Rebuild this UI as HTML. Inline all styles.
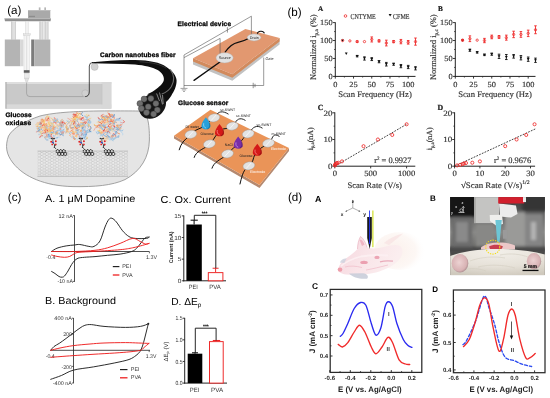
<!DOCTYPE html>
<html><head><meta charset="utf-8"><title>Figure</title>
<style>html,body{margin:0;padding:0;background:#fff;} svg{display:block;}</style></head>
<body><svg width="550" height="398" viewBox="0 0 550 398" text-rendering="geometricPrecision">
<rect width="550" height="398" fill="#fff"/>
<text x="7.2" y="14.4" font-family="'Liberation Sans', Arial, sans-serif" font-size="11.6" font-weight="normal" fill="#000" text-anchor="start" >(a)</text>
<rect x="28.00" y="10.00" width="22.30" height="8.60" fill="#a9a9a9" stroke="none" stroke-width="0" />
<rect x="28.00" y="10.00" width="22.30" height="1.00" fill="#bdbdbd" stroke="none" stroke-width="0" />
<rect x="38.80" y="7.40" width="1.70" height="2.80" fill="#b5b5b5" stroke="none" stroke-width="0" />
<rect x="44.30" y="7.40" width="1.70" height="2.80" fill="#b5b5b5" stroke="none" stroke-width="0" />
<rect x="29.00" y="15.80" width="6.00" height="1.30" fill="#8d8d8d" stroke="none" stroke-width="0" />
<polygon points="4.5,18.4 51,18.4 50.5,21.2 5,21.2" fill="#8f8f8f"/>
<rect x="4.50" y="18.30" width="46.50" height="0.80" fill="#bdbdbd" stroke="none" stroke-width="0" />
<rect x="11.30" y="21.20" width="4.50" height="18.40" fill="#e0e0e0" stroke="none" stroke-width="0" />
<rect x="11.30" y="21.20" width="0.90" height="18.40" fill="#c2c2c2" stroke="none" stroke-width="0" />
<rect x="15.10" y="21.20" width="0.70" height="18.40" fill="#c8c8c8" stroke="none" stroke-width="0" />
<rect x="39.50" y="21.20" width="3.80" height="18.40" fill="#e0e0e0" stroke="none" stroke-width="0" />
<rect x="39.50" y="21.20" width="0.90" height="18.40" fill="#c2c2c2" stroke="none" stroke-width="0" />
<rect x="42.60" y="21.20" width="0.70" height="18.40" fill="#c8c8c8" stroke="none" stroke-width="0" />
<rect x="44.60" y="21.20" width="3.80" height="18.40" fill="#e0e0e0" stroke="none" stroke-width="0" />
<rect x="44.60" y="21.20" width="0.90" height="18.40" fill="#c2c2c2" stroke="none" stroke-width="0" />
<rect x="47.70" y="21.20" width="0.70" height="18.40" fill="#c8c8c8" stroke="none" stroke-width="0" />
<rect x="4.80" y="39.50" width="15.60" height="26.70" fill="#b4b4b4" stroke="none" stroke-width="0" />
<rect x="20.40" y="39.50" width="3.00" height="26.70" fill="#d8d8d8" stroke="none" stroke-width="0" />
<rect x="31.20" y="39.50" width="3.00" height="26.70" fill="#7c7c7c" stroke="none" stroke-width="0" />
<rect x="34.20" y="39.50" width="16.10" height="26.70" fill="#b4b4b4" stroke="none" stroke-width="0" />
<rect x="25.20" y="21.20" width="3.20" height="13.50" fill="#f2f2f2" stroke="#cfcfcf" stroke-width="0.35" />
<rect x="23.20" y="33.80" width="7.20" height="1.60" fill="#e6e6e6" stroke="#bdbdbd" stroke-width="0.3" />
<rect x="24.00" y="35.40" width="5.40" height="35.20" fill="#f4f4f4" stroke="#c8c8c8" stroke-width="0.35" />
<rect x="26.00" y="35.40" width="1.20" height="35.20" fill="#e2e2e2" stroke="none" stroke-width="0" />
<rect x="23.80" y="70.20" width="5.80" height="2.60" fill="#5e5e5e" stroke="none" stroke-width="0" />
<rect x="24.30" y="73.10" width="4.80" height="5.20" fill="#ececec" stroke="#bdbdbd" stroke-width="0.3" />
<polygon points="24.6,78.2 28.8,78.2 27.3,82.6 26.1,82.6" fill="#e2e2e2" stroke="#b0b0b0" stroke-width="0.3"/>
<rect x="5.50" y="82.00" width="105.80" height="26.60" fill="#c9c9c9" stroke="none" stroke-width="0" />
<rect x="5.50" y="82.00" width="105.80" height="2.00" fill="#dedede" stroke="none" stroke-width="0" />
<rect x="5.50" y="104.40" width="105.80" height="4.20" fill="#d9d9d9" stroke="none" stroke-width="0" />
<rect x="5.50" y="82.00" width="1.10" height="26.60" fill="#b0b0b0" stroke="none" stroke-width="0" />
<rect x="101.50" y="82.00" width="9.80" height="26.60" fill="#d8d8d8" stroke="none" stroke-width="0" />
<rect x="101.50" y="84.00" width="0.80" height="20.40" fill="#bdbdbd" stroke="none" stroke-width="0" />
<path d="M26.6,82.5 L26.6,93.5 Q26.6,96.6 30,96.6 L84.5,96.6" fill="none" stroke="#8e8e8e" stroke-width="0.6"/>
<circle cx="85.2" cy="93.2" r="3.4" fill="#d0d0d0" stroke="#a8a8a8" stroke-width="0.45"/>
<path d="M85.2,96.6 C87.5,96.6 89.3,95 89.3,92 L89.3,66 Q89.3,62.6 93,62.4" fill="none" stroke="#151515" stroke-width="0.75"/>
<circle cx="94.6" cy="66.8" r="3.6" fill="#d2d2d2" stroke="#9c9c9c" stroke-width="0.3"/>
<path d="M92,62.3 C105,61 120,59.7 135,60 C150,60.3 160,62.5 166.4,66.9 C172,70.5 176.6,75.5 176.6,80.6 C176.6,86.5 174,91.5 171.4,95.4 C169.5,98.2 168,100.2 166.4,101.8 L147.2,94.2 C151,92.6 154,91 156.6,88.8 C160.2,85.8 163.9,83 163.9,79 C163.9,75.5 161,72 157.6,70.1 C152,67.2 145,65.6 135,64.6 C120,63.9 105,63.5 92,63.3 Z" fill="#0e0e0e"/>
<path d="M170.5,69.8 C174.2,74.5 174.6,80.5 171.4,86.5 C169,90.5 166,92.5 162,94" fill="none" stroke="#6e6e6e" stroke-width="1.1" stroke-linecap="round"/>
<path d="M140,61.8 C152,62.3 161,64.5 166,68" fill="none" stroke="#3c3c3c" stroke-width="0.8" stroke-linecap="round"/>
<path d="M40,116 C55,112.2 80,110.9 110,110.9 C125,110.9 135,110.9 141,111.1 C147,111.6 149.6,122 149.4,140 C149.1,157 141,171 125,179.6 C112,185.5 95,187 73,186.6 C45,186 24,177 13,163 C6,154 5,146 8.5,136 C13,128 25,121 40,116 Z" fill="#e5e5e5" stroke="#8c8c8c" stroke-width="0.8"/>
<ellipse cx="152.6" cy="105.8" rx="14.6" ry="11.6" transform="rotate(-40 152.6 105.8)" fill="#161616"/>
<circle cx="144.1" cy="99.1" r="3.05" fill="#6e6e6e" stroke="#303030" stroke-width="0.4"/>
<circle cx="150.9" cy="98.6" r="3.05" fill="#6e6e6e" stroke="#303030" stroke-width="0.4"/>
<circle cx="140.0" cy="103.6" r="3.05" fill="#6e6e6e" stroke="#303030" stroke-width="0.4"/>
<circle cx="148.2" cy="106.8" r="3.05" fill="#6e6e6e" stroke="#303030" stroke-width="0.4"/>
<circle cx="155.9" cy="103.6" r="3.05" fill="#6e6e6e" stroke="#303030" stroke-width="0.4"/>
<circle cx="141.4" cy="108.6" r="3.05" fill="#6e6e6e" stroke="#303030" stroke-width="0.4"/>
<circle cx="157.3" cy="110.0" r="3.05" fill="#6e6e6e" stroke="#303030" stroke-width="0.4"/>
<circle cx="153.6" cy="114.1" r="3.05" fill="#6e6e6e" stroke="#303030" stroke-width="0.4"/>
<circle cx="146.5" cy="112.6" r="3.05" fill="#6e6e6e" stroke="#303030" stroke-width="0.4"/>
<path d="M156.6,93.5 L159.5,101 M159.5,92.5 L162.5,104.5 M162.5,95 L163.2,104" stroke="#c8c8c8" stroke-width="0.6"/>
<defs><pattern id="hex" x="37.5" y="151" width="5.100" height="2.944" patternUnits="userSpaceOnUse"><path d="M0,1.472 L0.850,0 L2.550,0 L3.400,1.472 L2.550,2.944 L0.850,2.944 Z M3.400,1.472 L5.100,1.472" fill="none" stroke="#9e9e9e" stroke-width="0.33"/></pattern><linearGradient id="tubeg" x1="0" y1="0" x2="0" y2="1"><stop offset="0" stop-color="#e6e6e6"/><stop offset="0.5" stop-color="#ececec"/><stop offset="1" stop-color="#e4e4e4"/></linearGradient></defs>
<rect x="37.5" y="151" width="90.5" height="25.5" fill="url(#tubeg)"/>
<rect x="37.5" y="151" width="90.5" height="25.5" fill="url(#hex)"/>
<path d="M37.5,151 L128,151 M37.5,176.5 L128,176.5" stroke="#a4a4a4" stroke-width="0.45"/>
<ellipse cx="51.5" cy="128" rx="12.325" ry="8.924999999999999" fill="#f3e0d6" opacity="0.7"/>
<path d="M49.0,131.6 L50.4,130.1 L50.8,131.7 L49.5,130.1" fill="none" stroke="#f2a25a" stroke-width="0.85" stroke-linejoin="round" stroke-linecap="round" opacity="0.72"/>
<path d="M45.3,130.5 L46.7,129.1 L45.5,129.6 L47.5,129.9" fill="none" stroke="#e8463c" stroke-width="0.85" stroke-linejoin="round" stroke-linecap="round" opacity="0.72"/>
<path d="M40.1,134.3 L38.5,134.0 L38.7,134.2 L38.9,134.9" fill="none" stroke="#9ec6e0" stroke-width="0.85" stroke-linejoin="round" stroke-linecap="round" opacity="0.72"/>
<path d="M60.2,132.8 L60.5,131.1 L58.5,130.0 L59.3,129.7" fill="none" stroke="#8fbfe6" stroke-width="0.85" stroke-linejoin="round" stroke-linecap="round" opacity="0.72"/>
<path d="M47.1,135.4 L46.0,134.2 L47.3,132.6 L46.4,132.6" fill="none" stroke="#a8d0ee" stroke-width="0.85" stroke-linejoin="round" stroke-linecap="round" opacity="0.72"/>
<path d="M46.1,133.9 L44.4,133.5 L45.6,132.2 L45.5,130.5" fill="none" stroke="#f2a25a" stroke-width="0.85" stroke-linejoin="round" stroke-linecap="round" opacity="0.72"/>
<path d="M45.3,120.0 L44.6,119.4 L44.5,120.6 L42.7,119.0" fill="none" stroke="#f4b183" stroke-width="0.85" stroke-linejoin="round" stroke-linecap="round" opacity="0.72"/>
<path d="M50.0,136.7 L50.9,137.3 L53.0,138.5 L52.1,138.0" fill="none" stroke="#b4d6ec" stroke-width="0.85" stroke-linejoin="round" stroke-linecap="round" opacity="0.72"/>
<path d="M50.4,126.6 L50.9,126.6 L49.7,125.8 L50.7,125.4" fill="none" stroke="#f6d36b" stroke-width="0.85" stroke-linejoin="round" stroke-linecap="round" opacity="0.72"/>
<path d="M60.4,124.3 L60.6,125.8 L62.0,127.1 L61.0,126.8" fill="none" stroke="#7fb4e0" stroke-width="0.85" stroke-linejoin="round" stroke-linecap="round" opacity="0.72"/>
<path d="M42.9,135.7 L41.1,134.3 L41.8,132.5 L43.2,131.3" fill="none" stroke="#f6d36b" stroke-width="0.85" stroke-linejoin="round" stroke-linecap="round" opacity="0.72"/>
<path d="M50.4,131.9 L52.4,132.7 L52.5,133.1 L53.2,131.4" fill="none" stroke="#f4b183" stroke-width="0.85" stroke-linejoin="round" stroke-linecap="round" opacity="0.72"/>
<path d="M61.8,122.5 L61.4,122.1 L61.3,121.7 L59.9,123.6" fill="none" stroke="#f5c26b" stroke-width="0.85" stroke-linejoin="round" stroke-linecap="round" opacity="0.72"/>
<path d="M47.0,129.3 L44.8,127.9 L43.1,127.4 L41.0,128.8" fill="none" stroke="#f2a25a" stroke-width="0.85" stroke-linejoin="round" stroke-linecap="round" opacity="0.72"/>
<path d="M47.3,125.3 L47.7,125.2 L46.0,125.2 L48.1,125.1" fill="none" stroke="#a8d0ee" stroke-width="0.85" stroke-linejoin="round" stroke-linecap="round" opacity="0.72"/>
<path d="M49.4,131.7 L49.3,132.4 L49.4,131.3 L51.4,130.8" fill="none" stroke="#f7c08a" stroke-width="0.85" stroke-linejoin="round" stroke-linecap="round" opacity="0.72"/>
<path d="M46.4,118.7 L48.5,120.0 L49.4,119.1 L48.8,117.9" fill="none" stroke="#f7c08a" stroke-width="0.85" stroke-linejoin="round" stroke-linecap="round" opacity="0.72"/>
<path d="M53.0,120.4 L53.6,120.8 L54.8,121.8 L53.5,120.8" fill="none" stroke="#f4b183" stroke-width="0.85" stroke-linejoin="round" stroke-linecap="round" opacity="0.72"/>
<path d="M41.0,133.5 L40.3,131.7 L38.2,130.9 L37.2,131.6" fill="none" stroke="#7fb4e0" stroke-width="0.85" stroke-linejoin="round" stroke-linecap="round" opacity="0.72"/>
<path d="M60.8,126.1 L62.8,125.6 L61.6,124.6 L60.3,123.4" fill="none" stroke="#f4b183" stroke-width="0.85" stroke-linejoin="round" stroke-linecap="round" opacity="0.72"/>
<path d="M41.7,121.0 L43.5,120.4 L44.1,121.7 L42.5,121.3" fill="none" stroke="#ee8f5a" stroke-width="0.85" stroke-linejoin="round" stroke-linecap="round" opacity="0.72"/>
<path d="M49.9,123.4 L51.2,122.8 L52.5,124.6 L52.1,124.2" fill="none" stroke="#f5c26b" stroke-width="0.85" stroke-linejoin="round" stroke-linecap="round" opacity="0.72"/>
<path d="M63.2,125.1 L61.1,125.4 L60.9,126.0 L61.4,126.4" fill="none" stroke="#5b92cc" stroke-width="0.85" stroke-linejoin="round" stroke-linecap="round" opacity="0.72"/>
<path d="M37.6,129.6 L36.0,127.8 L38.1,128.4 L38.2,130.0" fill="none" stroke="#c4dcec" stroke-width="0.85" stroke-linejoin="round" stroke-linecap="round" opacity="0.72"/>
<path d="M39.1,132.0 L37.0,130.9 L37.0,131.9 L36.3,132.0" fill="none" stroke="#f08a78" stroke-width="0.85" stroke-linejoin="round" stroke-linecap="round" opacity="0.72"/>
<path d="M53.3,125.8 L54.0,127.0 L54.1,128.2 L55.8,126.8" fill="none" stroke="#ee8f5a" stroke-width="0.85" stroke-linejoin="round" stroke-linecap="round" opacity="0.72"/>
<path d="M57.5,134.1 L58.0,135.2 L56.4,133.8 L57.0,132.4" fill="none" stroke="#f6d36b" stroke-width="0.85" stroke-linejoin="round" stroke-linecap="round" opacity="0.72"/>
<path d="M62.6,131.3 L63.8,129.8 L64.1,128.8 L63.1,129.9" fill="none" stroke="#7fb4e0" stroke-width="0.85" stroke-linejoin="round" stroke-linecap="round" opacity="0.72"/>
<path d="M40.6,127.6 L40.4,128.0 L40.4,128.1 L41.3,127.9" fill="none" stroke="#f2a25a" stroke-width="0.85" stroke-linejoin="round" stroke-linecap="round" opacity="0.72"/>
<path d="M41.7,126.5 L43.6,128.0 L42.2,127.8 L41.9,127.4" fill="none" stroke="#f7c08a" stroke-width="0.85" stroke-linejoin="round" stroke-linecap="round" opacity="0.72"/>
<path d="M46.7,135.9 L47.5,137.0 L49.2,135.6 L50.2,136.2" fill="none" stroke="#5b92cc" stroke-width="0.85" stroke-linejoin="round" stroke-linecap="round" opacity="0.72"/>
<path d="M60.0,135.7 L61.1,134.2 L62.8,132.9 L63.5,131.8" fill="none" stroke="#f08a78" stroke-width="0.85" stroke-linejoin="round" stroke-linecap="round" opacity="0.72"/>
<path d="M47.6,117.9 L46.2,117.2 L47.2,115.4 L47.5,115.2" fill="none" stroke="#f5c26b" stroke-width="0.85" stroke-linejoin="round" stroke-linecap="round" opacity="0.72"/>
<path d="M59.8,128.7 L61.8,127.2 L63.7,126.2 L65.3,124.6" fill="none" stroke="#c4dcec" stroke-width="0.85" stroke-linejoin="round" stroke-linecap="round" opacity="0.72"/>
<path d="M49.6,137.9 L48.0,137.6 L49.8,138.8 L48.7,137.5" fill="none" stroke="#9ec6e0" stroke-width="0.85" stroke-linejoin="round" stroke-linecap="round" opacity="0.72"/>
<path d="M61.1,124.1 L60.1,125.3 L58.7,126.8 L57.7,124.9" fill="none" stroke="#f2a25a" stroke-width="0.85" stroke-linejoin="round" stroke-linecap="round" opacity="0.72"/>
<path d="M57.8,130.8 L55.9,132.2 L55.7,131.6 L55.9,133.2" fill="none" stroke="#5b92cc" stroke-width="0.85" stroke-linejoin="round" stroke-linecap="round" opacity="0.72"/>
<path d="M50.9,131.8 L52.8,133.5 L51.8,132.3 L53.7,132.8" fill="none" stroke="#5b92cc" stroke-width="0.85" stroke-linejoin="round" stroke-linecap="round" opacity="0.72"/>
<path d="M45.0,127.1 L44.0,128.2 L46.2,126.5 L44.1,126.5" fill="none" stroke="#f6d36b" stroke-width="0.85" stroke-linejoin="round" stroke-linecap="round" opacity="0.72"/>
<path d="M61.8,127.0 L60.1,128.2 L59.8,128.2 L61.2,127.8" fill="none" stroke="#7fb4e0" stroke-width="0.85" stroke-linejoin="round" stroke-linecap="round" opacity="0.72"/>
<path d="M39.5,127.6 L38.2,129.1 L39.2,127.7 L41.3,129.5" fill="none" stroke="#f4b183" stroke-width="0.85" stroke-linejoin="round" stroke-linecap="round" opacity="0.72"/>
<path d="M52.4,126.9 L52.1,125.2 L52.8,124.8 L52.8,126.6" fill="none" stroke="#f7c08a" stroke-width="0.85" stroke-linejoin="round" stroke-linecap="round" opacity="0.72"/>
<path d="M41.7,122.9 L40.2,122.7 L39.1,124.5 L41.2,124.6" fill="none" stroke="#5b92cc" stroke-width="0.85" stroke-linejoin="round" stroke-linecap="round" opacity="0.72"/>
<path d="M52.0,138.3 L50.6,137.7 L48.8,136.8 L49.5,135.9" fill="none" stroke="#a8d0ee" stroke-width="0.85" stroke-linejoin="round" stroke-linecap="round" opacity="0.72"/>
<path d="M52.2,124.9 L51.8,123.1 L49.7,122.4 L48.5,122.7" fill="none" stroke="#f6d36b" stroke-width="0.85" stroke-linejoin="round" stroke-linecap="round" opacity="0.72"/>
<path d="M39.1,126.3 L40.3,127.2 L40.3,126.4 L40.8,125.0" fill="none" stroke="#f5c26b" stroke-width="0.85" stroke-linejoin="round" stroke-linecap="round" opacity="0.72"/>
<path d="M57.1,120.1 L58.1,121.3 L56.5,121.4 L56.5,122.6" fill="none" stroke="#f5c26b" stroke-width="0.85" stroke-linejoin="round" stroke-linecap="round" opacity="0.72"/>
<path d="M55.9,119.0 L54.1,117.3 L54.7,119.0 L54.2,118.8" fill="none" stroke="#f08a78" stroke-width="0.85" stroke-linejoin="round" stroke-linecap="round" opacity="0.72"/>
<path d="M53.4,128.5 L53.3,126.6 L54.7,127.5 L54.7,127.6" fill="none" stroke="#f08a78" stroke-width="0.85" stroke-linejoin="round" stroke-linecap="round" opacity="0.72"/>
<path d="M49.5,125.7 L50.8,127.0 L49.7,128.0 L48.5,128.6" fill="none" stroke="#f7c08a" stroke-width="0.85" stroke-linejoin="round" stroke-linecap="round" opacity="0.72"/>
<path d="M38.6,130.4 L37.6,128.7 L38.2,127.5 L38.7,126.9" fill="none" stroke="#b4d6ec" stroke-width="0.85" stroke-linejoin="round" stroke-linecap="round" opacity="0.72"/>
<path d="M44.5,120.9 L42.4,119.2 L41.3,119.9 L42.2,120.5" fill="none" stroke="#f6d36b" stroke-width="0.85" stroke-linejoin="round" stroke-linecap="round" opacity="0.72"/>
<path d="M48.9,135.3 L50.0,137.2 L50.2,136.5 L48.4,136.4" fill="none" stroke="#7fb4e0" stroke-width="0.85" stroke-linejoin="round" stroke-linecap="round" opacity="0.72"/>
<path d="M50.5,130.8 L52.7,130.4 L54.5,132.0 L52.6,130.5" fill="none" stroke="#ee8f5a" stroke-width="0.85" stroke-linejoin="round" stroke-linecap="round" opacity="0.72"/>
<path d="M51.4,122.6 L53.1,123.4 L51.9,124.9 L51.8,123.1" fill="none" stroke="#f7c08a" stroke-width="0.85" stroke-linejoin="round" stroke-linecap="round" opacity="0.72"/>
<path d="M61.7,128.2 L62.7,127.8 L62.1,126.4 L61.4,125.7" fill="none" stroke="#a8d0ee" stroke-width="0.85" stroke-linejoin="round" stroke-linecap="round" opacity="0.72"/>
<path d="M46.7,133.6 L47.6,135.2 L46.7,134.7 L46.2,136.6" fill="none" stroke="#f08a78" stroke-width="0.85" stroke-linejoin="round" stroke-linecap="round" opacity="0.72"/>
<path d="M44.1,124.6 L45.7,123.8 L43.7,124.4 L44.3,123.1" fill="none" stroke="#f7c08a" stroke-width="0.85" stroke-linejoin="round" stroke-linecap="round" opacity="0.72"/>
<path d="M60.9,126.7 L60.4,128.5 L62.1,129.7 L62.6,131.2" fill="none" stroke="#9ec6e0" stroke-width="0.85" stroke-linejoin="round" stroke-linecap="round" opacity="0.72"/>
<path d="M61.5,125.2 L63.4,124.8 L63.9,123.5 L65.5,123.4" fill="none" stroke="#e8463c" stroke-width="0.85" stroke-linejoin="round" stroke-linecap="round" opacity="0.72"/>
<path d="M60.6,123.9 L60.0,123.1 L61.0,124.9 L60.0,125.5" fill="none" stroke="#7fb4e0" stroke-width="0.85" stroke-linejoin="round" stroke-linecap="round" opacity="0.72"/>
<path d="M48.1,135.4 L48.7,133.8 L48.7,135.0 L49.0,134.8" fill="none" stroke="#5b92cc" stroke-width="0.85" stroke-linejoin="round" stroke-linecap="round" opacity="0.72"/>
<path d="M45.2,135.9 L43.9,134.4 L43.2,132.8 L42.0,131.9" fill="none" stroke="#c4dcec" stroke-width="0.85" stroke-linejoin="round" stroke-linecap="round" opacity="0.72"/>
<path d="M39.1,123.8 L38.6,124.7 L37.3,123.9 L38.4,123.9" fill="none" stroke="#f5c26b" stroke-width="0.85" stroke-linejoin="round" stroke-linecap="round" opacity="0.72"/>
<path d="M43.7,125.2 L41.9,126.7 L41.4,127.2 L41.1,126.5" fill="none" stroke="#f08a78" stroke-width="0.85" stroke-linejoin="round" stroke-linecap="round" opacity="0.72"/>
<path d="M57.1,118.5 L58.0,120.0 L57.9,120.3 L55.7,119.9" fill="none" stroke="#7fb4e0" stroke-width="0.85" stroke-linejoin="round" stroke-linecap="round" opacity="0.72"/>
<path d="M63.3,123.8 L62.2,122.3 L60.7,122.4 L61.5,124.0" fill="none" stroke="#ee8f5a" stroke-width="0.85" stroke-linejoin="round" stroke-linecap="round" opacity="0.72"/>
<path d="M49.4,119.7 L47.6,120.7 L45.4,119.3 L45.7,117.6" fill="none" stroke="#ee8f5a" stroke-width="0.85" stroke-linejoin="round" stroke-linecap="round" opacity="0.72"/>
<path d="M48.4,117.9 L49.3,116.5 L47.4,116.6 L47.7,116.1" fill="none" stroke="#f5c26b" stroke-width="0.85" stroke-linejoin="round" stroke-linecap="round" opacity="0.72"/>
<path d="M53.4,136.0 L55.5,135.2 L54.7,136.5 L53.6,136.6" fill="none" stroke="#a8d0ee" stroke-width="0.85" stroke-linejoin="round" stroke-linecap="round" opacity="0.72"/>
<path d="M49.1,127.5 L47.2,126.3 L48.9,126.9 L47.0,125.8" fill="none" stroke="#f7c08a" stroke-width="0.85" stroke-linejoin="round" stroke-linecap="round" opacity="0.72"/>
<path d="M43.7,130.9 L44.6,130.4 L44.2,128.5 L43.2,129.8" fill="none" stroke="#f4b183" stroke-width="0.85" stroke-linejoin="round" stroke-linecap="round" opacity="0.72"/>
<path d="M60.8,131.0 L62.2,130.0 L61.0,131.0 L60.1,132.7" fill="none" stroke="#9ec6e0" stroke-width="0.85" stroke-linejoin="round" stroke-linecap="round" opacity="0.72"/>
<path d="M45.2,128.1 L47.0,126.4 L47.4,128.0 L45.5,126.2" fill="none" stroke="#7fb4e0" stroke-width="0.85" stroke-linejoin="round" stroke-linecap="round" opacity="0.72"/>
<path d="M43.8,124.2 L43.3,125.7 L45.0,126.6 L47.2,128.2" fill="none" stroke="#f6d36b" stroke-width="0.85" stroke-linejoin="round" stroke-linecap="round" opacity="0.72"/>
<path d="M48.5,132.0 L46.5,132.6 L45.9,132.1 L45.2,130.9" fill="none" stroke="#ee8f5a" stroke-width="0.85" stroke-linejoin="round" stroke-linecap="round" opacity="0.72"/>
<path d="M59.2,128.1 L59.4,129.1 L58.9,130.1 L58.1,131.3" fill="none" stroke="#8fbfe6" stroke-width="0.85" stroke-linejoin="round" stroke-linecap="round" opacity="0.72"/>
<path d="M61.9,132.6 L63.7,131.5 L63.1,133.0 L61.1,132.6" fill="none" stroke="#c4dcec" stroke-width="0.85" stroke-linejoin="round" stroke-linecap="round" opacity="0.72"/>
<path d="M56.3,119.5 L56.2,120.6 L54.2,119.5 L52.3,119.9" fill="none" stroke="#8fbfe6" stroke-width="0.85" stroke-linejoin="round" stroke-linecap="round" opacity="0.72"/>
<path d="M46.0,132.6 L45.0,133.4 L44.2,132.6 L42.0,133.6" fill="none" stroke="#e8463c" stroke-width="0.85" stroke-linejoin="round" stroke-linecap="round" opacity="0.72"/>
<path d="M61.5,123.8 L62.9,122.3 L63.9,122.2 L65.1,123.3" fill="none" stroke="#e8463c" stroke-width="0.85" stroke-linejoin="round" stroke-linecap="round" opacity="0.72"/>
<path d="M62.7,123.1 L61.3,124.3 L62.4,125.5 L63.6,125.9" fill="none" stroke="#7fb4e0" stroke-width="0.85" stroke-linejoin="round" stroke-linecap="round" opacity="0.72"/>
<path d="M47.7,133.2 L48.1,133.3 L47.6,132.0 L47.2,132.6" fill="none" stroke="#9ec6e0" stroke-width="0.85" stroke-linejoin="round" stroke-linecap="round" opacity="0.72"/>
<path d="M40.9,128.9 L42.6,130.7 L41.5,129.2 L39.7,129.2" fill="none" stroke="#7fb4e0" stroke-width="0.85" stroke-linejoin="round" stroke-linecap="round" opacity="0.72"/>
<path d="M49.1,121.2 L48.9,122.7 L47.7,122.8 L48.9,123.8" fill="none" stroke="#f5c26b" stroke-width="0.85" stroke-linejoin="round" stroke-linecap="round" opacity="0.72"/>
<path d="M53.0,122.4 L52.4,123.3 L51.1,122.4 L50.0,121.0" fill="none" stroke="#a8d0ee" stroke-width="0.85" stroke-linejoin="round" stroke-linecap="round" opacity="0.72"/>
<path d="M59.7,122.7 L58.6,121.7 L58.8,122.3 L57.0,122.2" fill="none" stroke="#7fb4e0" stroke-width="0.85" stroke-linejoin="round" stroke-linecap="round" opacity="0.72"/>
<path d="M52.4,128.2 L53.9,129.7 L51.9,129.0 L50.2,127.8" fill="none" stroke="#f08a78" stroke-width="0.85" stroke-linejoin="round" stroke-linecap="round" opacity="0.72"/>
<path d="M62.4,126.6 L62.5,125.4 L62.9,126.5 L63.6,124.6" fill="none" stroke="#f4b183" stroke-width="0.85" stroke-linejoin="round" stroke-linecap="round" opacity="0.72"/>
<path d="M43.6,121.3 L43.0,119.9 L41.7,119.0 L42.1,119.6" fill="none" stroke="#e8463c" stroke-width="0.85" stroke-linejoin="round" stroke-linecap="round" opacity="0.72"/>
<path d="M51.9,129.1 L51.4,129.5 L49.5,127.8 L49.5,127.7" fill="none" stroke="#b4d6ec" stroke-width="0.85" stroke-linejoin="round" stroke-linecap="round" opacity="0.72"/>
<path d="M40.7,133.1 L41.3,131.6 L39.8,132.3 L39.4,131.5" fill="none" stroke="#f6d36b" stroke-width="0.85" stroke-linejoin="round" stroke-linecap="round" opacity="0.72"/>
<path d="M46.5,137.6 L48.2,137.3 L46.1,138.3 L47.4,138.8" fill="none" stroke="#c4dcec" stroke-width="0.85" stroke-linejoin="round" stroke-linecap="round" opacity="0.72"/>
<path d="M44.4,132.2 L46.1,131.9 L47.5,131.6 L49.2,131.4" fill="none" stroke="#f5c26b" stroke-width="0.85" stroke-linejoin="round" stroke-linecap="round" opacity="0.72"/>
<path d="M52.4,129.1 L50.6,129.6 L50.0,129.6 L48.5,128.7" fill="none" stroke="#f5c26b" stroke-width="0.85" stroke-linejoin="round" stroke-linecap="round" opacity="0.72"/>
<path d="M37.7,126.7 L38.8,127.8 L40.1,127.0 L41.6,125.3" fill="none" stroke="#7fb4e0" stroke-width="0.85" stroke-linejoin="round" stroke-linecap="round" opacity="0.72"/>
<path d="M58.4,124.9 L56.6,125.7 L57.4,127.2 L58.1,128.6" fill="none" stroke="#f5c26b" stroke-width="0.85" stroke-linejoin="round" stroke-linecap="round" opacity="0.72"/>
<path d="M43.3,122.3 L41.9,121.3 L41.4,121.3 L40.9,119.9" fill="none" stroke="#ee8f5a" stroke-width="0.85" stroke-linejoin="round" stroke-linecap="round" opacity="0.72"/>
<path d="M51.7,136.9 L53.4,138.2 L54.2,138.9 L53.4,138.5" fill="none" stroke="#e8463c" stroke-width="0.85" stroke-linejoin="round" stroke-linecap="round" opacity="0.72"/>
<path d="M38.7,130.7 L37.8,129.7 L37.3,129.2 L37.3,128.0" fill="none" stroke="#f5c26b" stroke-width="0.85" stroke-linejoin="round" stroke-linecap="round" opacity="0.72"/>
<path d="M65.9,128.2 L67.1,129.3 L66.9,128.1 L66.8,126.6" fill="none" stroke="#7fb4e0" stroke-width="0.85" stroke-linejoin="round" stroke-linecap="round" opacity="0.72"/>
<path d="M58.1,133.0 L58.1,133.6 L56.1,132.2 L57.9,131.5" fill="none" stroke="#7fb4e0" stroke-width="0.85" stroke-linejoin="round" stroke-linecap="round" opacity="0.72"/>
<path d="M50.7,125.1 L51.4,126.2 L49.3,124.5 L49.8,125.2" fill="none" stroke="#f5c26b" stroke-width="0.85" stroke-linejoin="round" stroke-linecap="round" opacity="0.72"/>
<path d="M55.6,130.4 L57.6,132.0 L56.1,133.1 L58.0,131.4" fill="none" stroke="#f7c08a" stroke-width="0.85" stroke-linejoin="round" stroke-linecap="round" opacity="0.72"/>
<path d="M44.0,135.4 L43.0,136.6 L41.5,136.6 L43.3,135.5" fill="none" stroke="#c4dcec" stroke-width="0.85" stroke-linejoin="round" stroke-linecap="round" opacity="0.72"/>
<path d="M50.7,135.4 L49.3,135.1 L49.9,134.2 L49.2,133.8" fill="none" stroke="#8fbfe6" stroke-width="0.85" stroke-linejoin="round" stroke-linecap="round" opacity="0.72"/>
<path d="M53.5,122.8 L54.1,122.3 L55.7,122.5 L56.0,123.9" fill="none" stroke="#e8463c" stroke-width="0.85" stroke-linejoin="round" stroke-linecap="round" opacity="0.72"/>
<path d="M62.9,134.4 L64.0,133.9 L63.4,133.4 L61.9,132.8" fill="none" stroke="#7fb4e0" stroke-width="0.85" stroke-linejoin="round" stroke-linecap="round" opacity="0.72"/>
<path d="M57.6,130.5 L56.7,130.5 L55.8,132.3 L57.5,133.9" fill="none" stroke="#8fbfe6" stroke-width="0.85" stroke-linejoin="round" stroke-linecap="round" opacity="0.72"/>
<path d="M61.3,122.5 L59.8,123.0 L59.5,123.0 L61.2,121.6" fill="none" stroke="#f08a78" stroke-width="0.85" stroke-linejoin="round" stroke-linecap="round" opacity="0.72"/>
<path d="M53.2,136.4 L53.5,135.7 L53.6,135.8 L53.2,135.0" fill="none" stroke="#8fbfe6" stroke-width="0.85" stroke-linejoin="round" stroke-linecap="round" opacity="0.72"/>
<path d="M57.4,132.7 L55.7,134.4 L54.6,133.1 L52.8,133.6" fill="none" stroke="#f6d36b" stroke-width="0.85" stroke-linejoin="round" stroke-linecap="round" opacity="0.72"/>
<path d="M60.4,121.3 L62.4,119.6 L63.8,121.1 L64.2,121.4" fill="none" stroke="#a8d0ee" stroke-width="0.85" stroke-linejoin="round" stroke-linecap="round" opacity="0.72"/>
<path d="M43.1,123.5 L44.9,121.8 L45.0,121.4 L43.9,119.7" fill="none" stroke="#f6d36b" stroke-width="0.85" stroke-linejoin="round" stroke-linecap="round" opacity="0.72"/>
<path d="M51.8,126.9 L50.2,125.7 L50.7,125.7 L51.3,126.9" fill="none" stroke="#f08a78" stroke-width="0.85" stroke-linejoin="round" stroke-linecap="round" opacity="0.72"/>
<path d="M55.2,133.2 L57.4,134.1 L57.3,134.2 L56.7,134.0" fill="none" stroke="#8fbfe6" stroke-width="0.85" stroke-linejoin="round" stroke-linecap="round" opacity="0.72"/>
<path d="M55.0,126.4 L53.8,124.9 L52.6,123.2 L51.9,124.1" fill="none" stroke="#f6d36b" stroke-width="0.85" stroke-linejoin="round" stroke-linecap="round" opacity="0.72"/>
<path d="M47.0,118.9 L47.6,119.6 L48.4,121.2 L50.5,120.4" fill="none" stroke="#f7c08a" stroke-width="0.85" stroke-linejoin="round" stroke-linecap="round" opacity="0.72"/>
<path d="M63.9,123.7 L61.7,122.8 L60.6,123.7 L62.5,124.6" fill="none" stroke="#c4dcec" stroke-width="0.85" stroke-linejoin="round" stroke-linecap="round" opacity="0.72"/>
<path d="M45.2,136.7 L44.7,138.1 L46.5,139.9 L48.0,140.0" fill="none" stroke="#5b92cc" stroke-width="0.85" stroke-linejoin="round" stroke-linecap="round" opacity="0.72"/>
<path d="M41.1,129.3 L40.8,130.2 L41.1,129.5 L39.9,129.9" fill="none" stroke="#8fbfe6" stroke-width="0.85" stroke-linejoin="round" stroke-linecap="round" opacity="0.72"/>
<path d="M63.7,132.7 L62.0,133.2 L60.5,135.0 L61.4,133.2" fill="none" stroke="#8fbfe6" stroke-width="0.85" stroke-linejoin="round" stroke-linecap="round" opacity="0.72"/>
<path d="M59.0,134.4 L60.0,132.8 L60.4,132.3 L61.8,133.5" fill="none" stroke="#8fbfe6" stroke-width="0.85" stroke-linejoin="round" stroke-linecap="round" opacity="0.72"/>
<path d="M54.4,126.3 L52.7,125.2 L51.0,123.4 L52.5,124.6" fill="none" stroke="#f5c26b" stroke-width="0.85" stroke-linejoin="round" stroke-linecap="round" opacity="0.72"/>
<path d="M42.7,120.9 L42.6,119.5 L43.9,120.0 L43.0,119.4" fill="none" stroke="#f7c08a" stroke-width="0.85" stroke-linejoin="round" stroke-linecap="round" opacity="0.72"/>
<path d="M50.9,134.2 L51.8,133.7 L51.1,135.5 L51.1,136.8" fill="none" stroke="#e8463c" stroke-width="0.85" stroke-linejoin="round" stroke-linecap="round" opacity="0.72"/>
<path d="M49.6,126.7 L49.7,125.2 L49.6,123.5 L49.9,124.3" fill="none" stroke="#f5c26b" stroke-width="0.85" stroke-linejoin="round" stroke-linecap="round" opacity="0.72"/>
<path d="M56.7,121.0 L54.5,119.8 L55.6,121.7 L53.4,121.6" fill="none" stroke="#7fb4e0" stroke-width="0.85" stroke-linejoin="round" stroke-linecap="round" opacity="0.72"/>
<path d="M38.6,128.5 L39.0,130.2 L39.0,130.5 L37.5,131.7" fill="none" stroke="#7fb4e0" stroke-width="0.85" stroke-linejoin="round" stroke-linecap="round" opacity="0.72"/>
<path d="M58.0,126.1 L59.1,126.1 L61.3,126.3 L59.6,125.6" fill="none" stroke="#b4d6ec" stroke-width="0.85" stroke-linejoin="round" stroke-linecap="round" opacity="0.72"/>
<path d="M63.0,133.7 L62.7,134.2 L62.1,133.5 L61.8,133.7" fill="none" stroke="#f2a25a" stroke-width="0.85" stroke-linejoin="round" stroke-linecap="round" opacity="0.72"/>
<path d="M58.3,137.2 L56.7,137.5 L57.5,137.9 L55.5,138.2" fill="none" stroke="#7fb4e0" stroke-width="0.85" stroke-linejoin="round" stroke-linecap="round" opacity="0.72"/>
<path d="M38.1,126.7 L36.7,126.4 L37.9,126.7 L36.2,126.6" fill="none" stroke="#f4b183" stroke-width="0.85" stroke-linejoin="round" stroke-linecap="round" opacity="0.72"/>
<path d="M56.8,124.6 L57.9,125.9 L58.4,126.7 L60.5,127.6" fill="none" stroke="#a8d0ee" stroke-width="0.85" stroke-linejoin="round" stroke-linecap="round" opacity="0.72"/>
<path d="M44.7,124.3 L43.6,126.0 L45.8,124.7 L46.5,123.6" fill="none" stroke="#f08a78" stroke-width="0.85" stroke-linejoin="round" stroke-linecap="round" opacity="0.72"/>
<path d="M54.8,131.3 L54.5,130.1 L55.1,128.6 L53.8,128.2" fill="none" stroke="#a8d0ee" stroke-width="0.85" stroke-linejoin="round" stroke-linecap="round" opacity="0.72"/>
<path d="M60.5,129.4 L60.5,129.9 L60.3,128.5 L60.7,128.2" fill="none" stroke="#f08a78" stroke-width="0.85" stroke-linejoin="round" stroke-linecap="round" opacity="0.72"/>
<path d="M50.7,118.0 L52.2,118.6 L52.9,120.1 L53.5,120.4" fill="none" stroke="#f5c26b" stroke-width="0.85" stroke-linejoin="round" stroke-linecap="round" opacity="0.72"/>
<path d="M52.3,132.4 L51.5,132.9 L49.7,132.6 L51.0,133.4" fill="none" stroke="#7fb4e0" stroke-width="0.85" stroke-linejoin="round" stroke-linecap="round" opacity="0.72"/>
<path d="M46.5,124.2 L44.4,125.5 L44.5,126.2 L46.1,127.7" fill="none" stroke="#ee8f5a" stroke-width="0.85" stroke-linejoin="round" stroke-linecap="round" opacity="0.72"/>
<path d="M50.8,129.0 L48.8,129.1 L47.3,130.2 L49.2,130.3" fill="none" stroke="#f2a25a" stroke-width="0.85" stroke-linejoin="round" stroke-linecap="round" opacity="0.72"/>
<path d="M60.3,132.7 L60.2,130.9 L61.5,130.4 L60.8,131.3" fill="none" stroke="#b4d6ec" stroke-width="0.85" stroke-linejoin="round" stroke-linecap="round" opacity="0.72"/>
<path d="M37.6,130.8 L38.8,129.4 L40.9,128.8 L38.9,128.0" fill="none" stroke="#c4dcec" stroke-width="0.85" stroke-linejoin="round" stroke-linecap="round" opacity="0.72"/>
<path d="M50.1,128.7 L50.7,129.4 L51.1,127.9 L50.2,127.5" fill="none" stroke="#7fb4e0" stroke-width="0.85" stroke-linejoin="round" stroke-linecap="round" opacity="0.72"/>
<path d="M65.2,125.0 L65.0,123.7 L66.9,122.1 L68.2,120.9" fill="none" stroke="#f5c26b" stroke-width="0.85" stroke-linejoin="round" stroke-linecap="round" opacity="0.72"/>
<path d="M43.8,121.1 L43.1,121.6 L44.5,122.8 L44.4,122.0" fill="none" stroke="#f6d36b" stroke-width="0.85" stroke-linejoin="round" stroke-linecap="round" opacity="0.72"/>
<path d="M46.6,126.9 L47.9,125.9 L48.8,126.6 L50.9,127.3" fill="none" stroke="#f4b183" stroke-width="0.85" stroke-linejoin="round" stroke-linecap="round" opacity="0.72"/>
<path d="M38.6,129.1 L37.5,128.3 L37.4,128.1 L38.0,128.7" fill="none" stroke="#f4b183" stroke-width="0.85" stroke-linejoin="round" stroke-linecap="round" opacity="0.72"/>
<path d="M42.4,135.7 L40.6,135.9 L39.8,137.6 L40.0,137.0" fill="none" stroke="#e8463c" stroke-width="0.85" stroke-linejoin="round" stroke-linecap="round" opacity="0.72"/>
<path d="M41.3,123.8 L42.0,122.8 L40.2,121.5 L39.0,122.5" fill="none" stroke="#f2a25a" stroke-width="0.85" stroke-linejoin="round" stroke-linecap="round" opacity="0.72"/>
<path d="M48.3,131.4 L48.8,132.1 L50.9,130.5 L52.6,130.7" fill="none" stroke="#f6d36b" stroke-width="0.85" stroke-linejoin="round" stroke-linecap="round" opacity="0.72"/>
<path d="M46.3,123.7 L46.5,124.6 L46.2,126.0 L46.4,125.1" fill="none" stroke="#f08a78" stroke-width="0.85" stroke-linejoin="round" stroke-linecap="round" opacity="0.72"/>
<path d="M52.0,131.9 L52.0,133.4 L52.9,132.5 L51.4,132.9" fill="none" stroke="#8fbfe6" stroke-width="0.85" stroke-linejoin="round" stroke-linecap="round" opacity="0.72"/>
<path d="M50.9,123.8 L51.2,124.4 L52.7,124.0 L52.4,125.7" fill="none" stroke="#b4d6ec" stroke-width="0.85" stroke-linejoin="round" stroke-linecap="round" opacity="0.72"/>
<path d="M61.8,131.8 L59.7,130.1 L60.7,132.0 L62.1,130.5" fill="none" stroke="#8fbfe6" stroke-width="0.85" stroke-linejoin="round" stroke-linecap="round" opacity="0.72"/>
<path d="M38.9,128.9 L39.9,129.4 L39.2,130.8 L38.6,130.7" fill="none" stroke="#5b92cc" stroke-width="0.85" stroke-linejoin="round" stroke-linecap="round" opacity="0.72"/>
<path d="M38.9,126.5 L38.2,125.6 L36.3,124.8 L35.6,124.8" fill="none" stroke="#f5c26b" stroke-width="0.85" stroke-linejoin="round" stroke-linecap="round" opacity="0.72"/>
<path d="M44.3,137.0 L46.4,137.6 L47.7,137.0 L46.8,136.2" fill="none" stroke="#f4b183" stroke-width="0.85" stroke-linejoin="round" stroke-linecap="round" opacity="0.72"/>
<path d="M41.6,123.7 L41.2,123.9 L40.8,124.2 L40.3,122.7" fill="none" stroke="#e8463c" stroke-width="0.85" stroke-linejoin="round" stroke-linecap="round" opacity="0.72"/>
<path d="M64.1,130.7 L64.8,131.8 L66.6,132.3 L67.1,132.7" fill="none" stroke="#9ec6e0" stroke-width="0.85" stroke-linejoin="round" stroke-linecap="round" opacity="0.72"/>
<path d="M47.8,120.3 L45.8,120.9 L46.3,119.6 L47.0,121.0" fill="none" stroke="#f08a78" stroke-width="0.85" stroke-linejoin="round" stroke-linecap="round" opacity="0.72"/>
<path d="M47.4,129.6 L46.9,130.8 L48.1,131.0 L47.1,130.3" fill="none" stroke="#e8463c" stroke-width="0.85" stroke-linejoin="round" stroke-linecap="round" opacity="0.72"/>
<path d="M44.3,130.8 L44.3,130.9 L45.7,131.9 L45.4,132.7" fill="none" stroke="#e8463c" stroke-width="0.85" stroke-linejoin="round" stroke-linecap="round" opacity="0.72"/>
<path d="M48.4,129.5 L48.3,129.2 L46.5,129.8 L45.3,128.4" fill="none" stroke="#f6d36b" stroke-width="0.85" stroke-linejoin="round" stroke-linecap="round" opacity="0.72"/>
<path d="M52.5,128.1 L54.6,129.4 L53.4,128.0 L53.3,127.1" fill="none" stroke="#f2a25a" stroke-width="0.85" stroke-linejoin="round" stroke-linecap="round" opacity="0.72"/>
<path d="M42.7,125.0 L42.1,126.0 L42.9,124.6 L44.1,123.8" fill="none" stroke="#e8463c" stroke-width="0.85" stroke-linejoin="round" stroke-linecap="round" opacity="0.72"/>
<path d="M41.9,125.4 L43.7,123.7 L41.7,122.0 L43.4,122.7" fill="none" stroke="#f7c08a" stroke-width="0.85" stroke-linejoin="round" stroke-linecap="round" opacity="0.72"/>
<path d="M44.8,123.6 L46.9,124.8 L47.3,124.1 L49.3,125.0" fill="none" stroke="#f6d36b" stroke-width="0.85" stroke-linejoin="round" stroke-linecap="round" opacity="0.72"/>
<path d="M45.7,128.8 L45.1,129.4 L45.7,129.0 L45.2,130.1" fill="none" stroke="#f2a25a" stroke-width="0.85" stroke-linejoin="round" stroke-linecap="round" opacity="0.72"/>
<path d="M63.6,124.8 L62.6,125.3 L63.3,126.5 L63.7,127.9" fill="none" stroke="#a8d0ee" stroke-width="0.85" stroke-linejoin="round" stroke-linecap="round" opacity="0.72"/>
<path d="M51.2,126.7 L50.4,126.4 L52.1,126.0 L52.9,126.4" fill="none" stroke="#9ec6e0" stroke-width="0.85" stroke-linejoin="round" stroke-linecap="round" opacity="0.72"/>
<path d="M61.9,122.3 L61.1,121.4 L59.6,123.0 L60.7,124.1" fill="none" stroke="#8fbfe6" stroke-width="0.85" stroke-linejoin="round" stroke-linecap="round" opacity="0.72"/>
<path d="M50.2,131.8 L49.2,133.2 L50.6,133.9 L52.4,133.3" fill="none" stroke="#f6d36b" stroke-width="0.85" stroke-linejoin="round" stroke-linecap="round" opacity="0.72"/>
<path d="M60.8,132.0 L62.1,132.8 L64.2,132.1 L62.2,131.7" fill="none" stroke="#f08a78" stroke-width="0.85" stroke-linejoin="round" stroke-linecap="round" opacity="0.72"/>
<path d="M47.9,118.2 L49.2,118.1 L47.4,119.3 L48.6,118.2" fill="none" stroke="#e8463c" stroke-width="0.85" stroke-linejoin="round" stroke-linecap="round" opacity="0.72"/>
<path d="M39.4,123.2 L39.3,123.6 L38.0,122.4 L36.6,123.2" fill="none" stroke="#f4b183" stroke-width="0.85" stroke-linejoin="round" stroke-linecap="round" opacity="0.72"/>
<path d="M44.4,134.0 L46.0,133.0 L47.8,133.0 L49.5,132.5" fill="none" stroke="#c4dcec" stroke-width="0.85" stroke-linejoin="round" stroke-linecap="round" opacity="0.72"/>
<path d="M47.5,128.7 L46.8,128.8 L44.7,127.0 L46.8,128.4" fill="none" stroke="#8fbfe6" stroke-width="0.85" stroke-linejoin="round" stroke-linecap="round" opacity="0.72"/>
<path d="M40.6,128.7 L40.3,130.4 L41.5,131.6 L43.5,130.7" fill="none" stroke="#f7c08a" stroke-width="0.85" stroke-linejoin="round" stroke-linecap="round" opacity="0.72"/>
<path d="M57.8,129.1 L55.7,127.3 L55.2,128.1 L55.1,129.4" fill="none" stroke="#8fbfe6" stroke-width="0.85" stroke-linejoin="round" stroke-linecap="round" opacity="0.72"/>
<path d="M62.1,122.0 L63.0,120.5 L62.2,119.4 L60.4,121.0" fill="none" stroke="#f2a25a" stroke-width="0.85" stroke-linejoin="round" stroke-linecap="round" opacity="0.72"/>
<path d="M45.3,127.8 L47.4,129.7 L46.1,127.9 L45.1,127.4" fill="none" stroke="#f4b183" stroke-width="0.85" stroke-linejoin="round" stroke-linecap="round" opacity="0.72"/>
<path d="M62.8,122.3 L61.7,122.3 L62.8,123.3 L62.7,121.8" fill="none" stroke="#e8463c" stroke-width="0.85" stroke-linejoin="round" stroke-linecap="round" opacity="0.72"/>
<path d="M51.0,128.7 L50.2,129.1 L51.3,127.6 L50.5,126.7" fill="none" stroke="#b4d6ec" stroke-width="0.85" stroke-linejoin="round" stroke-linecap="round" opacity="0.72"/>
<path d="M58.7,133.1 L60.0,134.7 L61.7,134.6 L63.5,135.7" fill="none" stroke="#5b92cc" stroke-width="0.85" stroke-linejoin="round" stroke-linecap="round" opacity="0.72"/>
<path d="M58.8,136.0 L60.4,137.5 L58.8,137.3 L57.1,138.9" fill="none" stroke="#c4dcec" stroke-width="0.85" stroke-linejoin="round" stroke-linecap="round" opacity="0.72"/>
<path d="M57.8,121.0 L57.0,120.0 L55.3,119.5 L54.6,120.4" fill="none" stroke="#f4b183" stroke-width="0.85" stroke-linejoin="round" stroke-linecap="round" opacity="0.72"/>
<path d="M55.6,134.4 L57.3,133.5 L56.9,132.2 L55.9,133.5" fill="none" stroke="#ee8f5a" stroke-width="0.85" stroke-linejoin="round" stroke-linecap="round" opacity="0.72"/>
<path d="M48.5,131.7 L48.3,131.6 L46.8,131.7 L47.4,132.8" fill="none" stroke="#f4b183" stroke-width="0.85" stroke-linejoin="round" stroke-linecap="round" opacity="0.72"/>
<path d="M61.2,124.4 L60.1,123.3 L59.5,125.2 L61.7,126.8" fill="none" stroke="#f2a25a" stroke-width="0.85" stroke-linejoin="round" stroke-linecap="round" opacity="0.72"/>
<ellipse cx="79" cy="126.5" rx="10.625" ry="11.475" fill="#f3e0d6" opacity="0.7"/>
<path d="M84.5,130.7 L86.0,132.5 L84.4,133.0 L84.1,133.1" fill="none" stroke="#e8463c" stroke-width="0.85" stroke-linejoin="round" stroke-linecap="round" opacity="0.72"/>
<path d="M70.7,125.9 L69.3,125.6 L71.1,124.6 L71.4,123.2" fill="none" stroke="#f7c08a" stroke-width="0.85" stroke-linejoin="round" stroke-linecap="round" opacity="0.72"/>
<path d="M83.7,137.2 L84.1,138.5 L85.8,139.4 L87.0,138.1" fill="none" stroke="#5b92cc" stroke-width="0.85" stroke-linejoin="round" stroke-linecap="round" opacity="0.72"/>
<path d="M85.7,134.9 L86.0,133.7 L84.1,134.6 L83.7,135.5" fill="none" stroke="#5b92cc" stroke-width="0.85" stroke-linejoin="round" stroke-linecap="round" opacity="0.72"/>
<path d="M89.6,130.6 L90.2,132.3 L88.4,132.0 L89.5,130.6" fill="none" stroke="#9ec6e0" stroke-width="0.85" stroke-linejoin="round" stroke-linecap="round" opacity="0.72"/>
<path d="M75.8,120.7 L73.8,121.5 L74.1,122.8 L73.5,124.5" fill="none" stroke="#f4b183" stroke-width="0.85" stroke-linejoin="round" stroke-linecap="round" opacity="0.72"/>
<path d="M82.3,125.8 L83.7,127.2 L82.9,128.0 L82.4,128.9" fill="none" stroke="#5b92cc" stroke-width="0.85" stroke-linejoin="round" stroke-linecap="round" opacity="0.72"/>
<path d="M89.8,131.2 L89.6,129.4 L90.9,128.0 L89.8,126.5" fill="none" stroke="#ee8f5a" stroke-width="0.85" stroke-linejoin="round" stroke-linecap="round" opacity="0.72"/>
<path d="M75.2,122.7 L73.1,124.4 L74.2,123.5 L75.7,124.0" fill="none" stroke="#e8463c" stroke-width="0.85" stroke-linejoin="round" stroke-linecap="round" opacity="0.72"/>
<path d="M73.1,128.0 L74.7,128.8 L72.7,127.4 L72.6,127.4" fill="none" stroke="#f4b183" stroke-width="0.85" stroke-linejoin="round" stroke-linecap="round" opacity="0.72"/>
<path d="M78.2,131.1 L78.4,130.1 L77.2,130.7 L77.0,130.3" fill="none" stroke="#5b92cc" stroke-width="0.85" stroke-linejoin="round" stroke-linecap="round" opacity="0.72"/>
<path d="M80.6,125.9 L81.0,126.3 L79.0,128.1 L77.0,127.6" fill="none" stroke="#f5c26b" stroke-width="0.85" stroke-linejoin="round" stroke-linecap="round" opacity="0.72"/>
<path d="M69.7,133.7 L71.1,135.0 L69.1,135.1 L71.1,136.8" fill="none" stroke="#f4b183" stroke-width="0.85" stroke-linejoin="round" stroke-linecap="round" opacity="0.72"/>
<path d="M79.0,135.3 L77.3,134.1 L76.5,132.9 L77.3,131.9" fill="none" stroke="#f4b183" stroke-width="0.85" stroke-linejoin="round" stroke-linecap="round" opacity="0.72"/>
<path d="M72.1,130.6 L72.7,131.7 L74.4,133.2 L72.3,133.7" fill="none" stroke="#ee8f5a" stroke-width="0.85" stroke-linejoin="round" stroke-linecap="round" opacity="0.72"/>
<path d="M78.0,137.6 L79.3,135.8 L77.6,134.4 L75.4,133.4" fill="none" stroke="#c4dcec" stroke-width="0.85" stroke-linejoin="round" stroke-linecap="round" opacity="0.72"/>
<path d="M83.1,127.6 L81.4,128.0 L83.4,128.0 L82.4,127.9" fill="none" stroke="#5b92cc" stroke-width="0.85" stroke-linejoin="round" stroke-linecap="round" opacity="0.72"/>
<path d="M74.3,125.4 L76.0,127.0 L76.3,126.1 L77.4,127.0" fill="none" stroke="#5b92cc" stroke-width="0.85" stroke-linejoin="round" stroke-linecap="round" opacity="0.72"/>
<path d="M77.1,135.4 L77.7,134.2 L78.6,134.1 L78.8,134.5" fill="none" stroke="#f08a78" stroke-width="0.85" stroke-linejoin="round" stroke-linecap="round" opacity="0.72"/>
<path d="M72.2,128.0 L70.8,128.1 L72.9,127.7 L74.7,126.5" fill="none" stroke="#5b92cc" stroke-width="0.85" stroke-linejoin="round" stroke-linecap="round" opacity="0.72"/>
<path d="M85.8,124.2 L84.8,126.1 L83.9,127.1 L82.4,125.5" fill="none" stroke="#a8d0ee" stroke-width="0.85" stroke-linejoin="round" stroke-linecap="round" opacity="0.72"/>
<path d="M84.7,120.0 L86.2,119.5 L87.4,119.5 L89.5,120.2" fill="none" stroke="#7fb4e0" stroke-width="0.85" stroke-linejoin="round" stroke-linecap="round" opacity="0.72"/>
<path d="M86.4,123.0 L87.2,123.4 L88.7,124.6 L88.8,125.6" fill="none" stroke="#f6d36b" stroke-width="0.85" stroke-linejoin="round" stroke-linecap="round" opacity="0.72"/>
<path d="M78.5,114.7 L78.2,113.2 L77.8,113.4 L76.1,113.0" fill="none" stroke="#f6d36b" stroke-width="0.85" stroke-linejoin="round" stroke-linecap="round" opacity="0.72"/>
<path d="M83.8,126.3 L85.5,126.7 L84.9,126.5 L84.8,127.3" fill="none" stroke="#f7c08a" stroke-width="0.85" stroke-linejoin="round" stroke-linecap="round" opacity="0.72"/>
<path d="M76.9,134.6 L77.6,132.8 L78.7,134.6 L78.1,133.9" fill="none" stroke="#7fb4e0" stroke-width="0.85" stroke-linejoin="round" stroke-linecap="round" opacity="0.72"/>
<path d="M68.1,123.7 L68.5,122.2 L70.3,121.5 L71.8,122.8" fill="none" stroke="#f5c26b" stroke-width="0.85" stroke-linejoin="round" stroke-linecap="round" opacity="0.72"/>
<path d="M84.5,124.9 L82.4,124.0 L84.1,123.3 L84.3,122.5" fill="none" stroke="#8fbfe6" stroke-width="0.85" stroke-linejoin="round" stroke-linecap="round" opacity="0.72"/>
<path d="M73.0,120.4 L72.5,119.8 L72.9,119.3 L74.9,120.0" fill="none" stroke="#f5c26b" stroke-width="0.85" stroke-linejoin="round" stroke-linecap="round" opacity="0.72"/>
<path d="M75.1,125.8 L75.8,127.5 L74.2,126.3 L73.9,125.9" fill="none" stroke="#f5c26b" stroke-width="0.85" stroke-linejoin="round" stroke-linecap="round" opacity="0.72"/>
<path d="M80.3,113.8 L78.8,113.1 L80.9,114.3 L81.0,112.8" fill="none" stroke="#f2a25a" stroke-width="0.85" stroke-linejoin="round" stroke-linecap="round" opacity="0.72"/>
<path d="M87.2,119.6 L87.8,119.7 L89.2,118.6 L90.9,118.2" fill="none" stroke="#f5c26b" stroke-width="0.85" stroke-linejoin="round" stroke-linecap="round" opacity="0.72"/>
<path d="M87.7,130.2 L89.9,130.8 L87.9,130.4 L89.2,129.7" fill="none" stroke="#c4dcec" stroke-width="0.85" stroke-linejoin="round" stroke-linecap="round" opacity="0.72"/>
<path d="M78.7,125.7 L76.9,123.9 L74.9,122.6 L76.1,122.9" fill="none" stroke="#9ec6e0" stroke-width="0.85" stroke-linejoin="round" stroke-linecap="round" opacity="0.72"/>
<path d="M87.2,117.2 L87.5,116.9 L85.8,115.6 L87.0,114.1" fill="none" stroke="#f6d36b" stroke-width="0.85" stroke-linejoin="round" stroke-linecap="round" opacity="0.72"/>
<path d="M83.2,129.8 L83.0,129.5 L84.4,130.1 L85.2,130.4" fill="none" stroke="#9ec6e0" stroke-width="0.85" stroke-linejoin="round" stroke-linecap="round" opacity="0.72"/>
<path d="M82.8,131.7 L81.7,130.2 L83.5,130.5 L82.9,130.3" fill="none" stroke="#8fbfe6" stroke-width="0.85" stroke-linejoin="round" stroke-linecap="round" opacity="0.72"/>
<path d="M76.8,128.6 L76.5,129.0 L75.4,127.3 L77.3,128.6" fill="none" stroke="#e8463c" stroke-width="0.85" stroke-linejoin="round" stroke-linecap="round" opacity="0.72"/>
<path d="M74.3,138.3 L73.9,137.3 L75.7,139.1 L73.7,139.8" fill="none" stroke="#f7c08a" stroke-width="0.85" stroke-linejoin="round" stroke-linecap="round" opacity="0.72"/>
<path d="M74.7,117.3 L76.3,117.2 L77.6,116.3 L76.2,115.7" fill="none" stroke="#f5c26b" stroke-width="0.85" stroke-linejoin="round" stroke-linecap="round" opacity="0.72"/>
<path d="M83.8,138.8 L83.2,138.1 L84.8,137.5 L85.5,139.3" fill="none" stroke="#c4dcec" stroke-width="0.85" stroke-linejoin="round" stroke-linecap="round" opacity="0.72"/>
<path d="M68.5,132.6 L67.1,131.7 L65.9,130.0 L66.7,129.4" fill="none" stroke="#f5c26b" stroke-width="0.85" stroke-linejoin="round" stroke-linecap="round" opacity="0.72"/>
<path d="M84.9,135.9 L85.1,137.0 L85.3,136.9 L86.6,135.9" fill="none" stroke="#a8d0ee" stroke-width="0.85" stroke-linejoin="round" stroke-linecap="round" opacity="0.72"/>
<path d="M75.1,131.1 L77.1,130.0 L79.1,130.0 L77.9,129.9" fill="none" stroke="#b4d6ec" stroke-width="0.85" stroke-linejoin="round" stroke-linecap="round" opacity="0.72"/>
<path d="M86.1,134.8 L86.5,134.3 L85.4,134.7 L84.2,136.1" fill="none" stroke="#7fb4e0" stroke-width="0.85" stroke-linejoin="round" stroke-linecap="round" opacity="0.72"/>
<path d="M85.4,133.2 L86.5,134.2 L84.4,135.1 L82.8,133.2" fill="none" stroke="#a8d0ee" stroke-width="0.85" stroke-linejoin="round" stroke-linecap="round" opacity="0.72"/>
<path d="M76.5,115.6 L75.7,116.2 L73.9,116.4 L73.3,116.4" fill="none" stroke="#f08a78" stroke-width="0.85" stroke-linejoin="round" stroke-linecap="round" opacity="0.72"/>
<path d="M78.1,129.8 L77.1,131.0 L76.7,130.5 L78.2,130.3" fill="none" stroke="#5b92cc" stroke-width="0.85" stroke-linejoin="round" stroke-linecap="round" opacity="0.72"/>
<path d="M72.1,118.8 L70.7,118.3 L72.0,119.0 L73.8,117.2" fill="none" stroke="#f7c08a" stroke-width="0.85" stroke-linejoin="round" stroke-linecap="round" opacity="0.72"/>
<path d="M76.6,117.7 L75.9,118.2 L74.5,116.7 L76.3,117.6" fill="none" stroke="#f5c26b" stroke-width="0.85" stroke-linejoin="round" stroke-linecap="round" opacity="0.72"/>
<path d="M78.4,123.9 L78.1,124.8 L76.6,125.7 L76.8,126.2" fill="none" stroke="#5b92cc" stroke-width="0.85" stroke-linejoin="round" stroke-linecap="round" opacity="0.72"/>
<path d="M87.8,122.9 L88.7,121.9 L88.4,122.6 L87.8,120.7" fill="none" stroke="#7fb4e0" stroke-width="0.85" stroke-linejoin="round" stroke-linecap="round" opacity="0.72"/>
<path d="M84.6,116.2 L86.2,116.6 L87.1,118.4 L87.9,116.6" fill="none" stroke="#8fbfe6" stroke-width="0.85" stroke-linejoin="round" stroke-linecap="round" opacity="0.72"/>
<path d="M74.4,137.3 L74.0,138.2 L76.2,138.7 L75.0,138.8" fill="none" stroke="#8fbfe6" stroke-width="0.85" stroke-linejoin="round" stroke-linecap="round" opacity="0.72"/>
<path d="M71.9,137.2 L72.7,138.1 L74.2,138.6 L74.0,136.9" fill="none" stroke="#a8d0ee" stroke-width="0.85" stroke-linejoin="round" stroke-linecap="round" opacity="0.72"/>
<path d="M76.4,118.1 L76.3,116.9 L78.3,118.2 L78.6,116.9" fill="none" stroke="#f6d36b" stroke-width="0.85" stroke-linejoin="round" stroke-linecap="round" opacity="0.72"/>
<path d="M84.7,136.7 L83.6,135.0 L83.0,134.7 L81.7,134.0" fill="none" stroke="#a8d0ee" stroke-width="0.85" stroke-linejoin="round" stroke-linecap="round" opacity="0.72"/>
<path d="M85.9,135.1 L86.8,133.2 L87.6,131.8 L88.2,132.6" fill="none" stroke="#5b92cc" stroke-width="0.85" stroke-linejoin="round" stroke-linecap="round" opacity="0.72"/>
<path d="M86.0,134.9 L85.3,136.1 L85.5,137.1 L84.1,137.8" fill="none" stroke="#5b92cc" stroke-width="0.85" stroke-linejoin="round" stroke-linecap="round" opacity="0.72"/>
<path d="M72.1,121.2 L70.4,120.4 L69.8,119.3 L67.8,118.4" fill="none" stroke="#f08a78" stroke-width="0.85" stroke-linejoin="round" stroke-linecap="round" opacity="0.72"/>
<path d="M82.4,137.2 L80.9,137.0 L81.2,136.2 L81.5,134.5" fill="none" stroke="#8fbfe6" stroke-width="0.85" stroke-linejoin="round" stroke-linecap="round" opacity="0.72"/>
<path d="M66.9,129.1 L69.0,129.4 L67.3,129.3 L67.0,128.1" fill="none" stroke="#f4b183" stroke-width="0.85" stroke-linejoin="round" stroke-linecap="round" opacity="0.72"/>
<path d="M77.9,126.2 L78.5,127.8 L79.1,126.9 L78.0,125.5" fill="none" stroke="#f7c08a" stroke-width="0.85" stroke-linejoin="round" stroke-linecap="round" opacity="0.72"/>
<path d="M89.8,128.6 L89.3,130.3 L89.4,131.8 L90.2,130.3" fill="none" stroke="#f7c08a" stroke-width="0.85" stroke-linejoin="round" stroke-linecap="round" opacity="0.72"/>
<path d="M77.6,119.1 L76.3,120.4 L75.5,119.9 L75.7,119.4" fill="none" stroke="#f5c26b" stroke-width="0.85" stroke-linejoin="round" stroke-linecap="round" opacity="0.72"/>
<path d="M82.0,120.7 L83.3,122.3 L85.5,122.0 L83.5,120.9" fill="none" stroke="#c4dcec" stroke-width="0.85" stroke-linejoin="round" stroke-linecap="round" opacity="0.72"/>
<path d="M69.5,131.9 L68.0,130.8 L66.4,131.4 L65.9,133.2" fill="none" stroke="#f2a25a" stroke-width="0.85" stroke-linejoin="round" stroke-linecap="round" opacity="0.72"/>
<path d="M84.1,119.0 L81.9,120.3 L83.5,121.3 L83.2,120.5" fill="none" stroke="#a8d0ee" stroke-width="0.85" stroke-linejoin="round" stroke-linecap="round" opacity="0.72"/>
<path d="M74.3,118.3 L72.3,116.4 L74.4,115.2 L75.3,114.7" fill="none" stroke="#f4b183" stroke-width="0.85" stroke-linejoin="round" stroke-linecap="round" opacity="0.72"/>
<path d="M90.2,126.8 L88.9,125.2 L88.1,125.1 L90.2,126.6" fill="none" stroke="#c4dcec" stroke-width="0.85" stroke-linejoin="round" stroke-linecap="round" opacity="0.72"/>
<path d="M87.2,116.5 L88.6,114.9 L89.3,115.3 L88.4,115.5" fill="none" stroke="#f2a25a" stroke-width="0.85" stroke-linejoin="round" stroke-linecap="round" opacity="0.72"/>
<path d="M87.3,123.8 L88.9,123.9 L89.5,125.2 L88.3,126.1" fill="none" stroke="#f7c08a" stroke-width="0.85" stroke-linejoin="round" stroke-linecap="round" opacity="0.72"/>
<path d="M77.3,121.7 L76.7,120.7 L76.4,119.8 L75.2,121.6" fill="none" stroke="#f5c26b" stroke-width="0.85" stroke-linejoin="round" stroke-linecap="round" opacity="0.72"/>
<path d="M82.2,137.7 L81.1,136.1 L81.2,135.2 L81.2,135.4" fill="none" stroke="#9ec6e0" stroke-width="0.85" stroke-linejoin="round" stroke-linecap="round" opacity="0.72"/>
<path d="M80.4,136.6 L82.2,136.9 L83.7,137.5 L85.1,136.2" fill="none" stroke="#c4dcec" stroke-width="0.85" stroke-linejoin="round" stroke-linecap="round" opacity="0.72"/>
<path d="M70.1,126.3 L70.7,128.1 L70.7,127.9 L71.5,128.1" fill="none" stroke="#f2a25a" stroke-width="0.85" stroke-linejoin="round" stroke-linecap="round" opacity="0.72"/>
<path d="M84.4,125.3 L82.8,126.4 L80.8,125.4 L80.3,123.5" fill="none" stroke="#8fbfe6" stroke-width="0.85" stroke-linejoin="round" stroke-linecap="round" opacity="0.72"/>
<path d="M74.2,123.0 L73.9,124.5 L74.4,125.9 L74.7,127.5" fill="none" stroke="#f6d36b" stroke-width="0.85" stroke-linejoin="round" stroke-linecap="round" opacity="0.72"/>
<path d="M82.5,122.5 L83.9,123.4 L81.7,122.5 L80.6,122.5" fill="none" stroke="#f4b183" stroke-width="0.85" stroke-linejoin="round" stroke-linecap="round" opacity="0.72"/>
<path d="M71.6,125.3 L69.9,125.4 L71.2,124.0 L73.1,124.6" fill="none" stroke="#f4b183" stroke-width="0.85" stroke-linejoin="round" stroke-linecap="round" opacity="0.72"/>
<path d="M78.8,132.4 L81.0,132.2 L82.3,132.2 L80.4,131.2" fill="none" stroke="#9ec6e0" stroke-width="0.85" stroke-linejoin="round" stroke-linecap="round" opacity="0.72"/>
<path d="M86.1,137.1 L87.6,137.4 L86.5,139.3 L87.6,138.4" fill="none" stroke="#f5c26b" stroke-width="0.85" stroke-linejoin="round" stroke-linecap="round" opacity="0.72"/>
<path d="M77.2,127.2 L77.2,128.6 L78.5,126.9 L77.1,128.1" fill="none" stroke="#ee8f5a" stroke-width="0.85" stroke-linejoin="round" stroke-linecap="round" opacity="0.72"/>
<path d="M75.6,118.9 L76.5,118.7 L75.3,120.4 L75.4,119.9" fill="none" stroke="#f6d36b" stroke-width="0.85" stroke-linejoin="round" stroke-linecap="round" opacity="0.72"/>
<path d="M72.1,125.2 L70.1,123.9 L69.5,123.8 L69.9,123.4" fill="none" stroke="#c4dcec" stroke-width="0.85" stroke-linejoin="round" stroke-linecap="round" opacity="0.72"/>
<path d="M78.4,127.3 L77.2,126.4 L78.9,126.8 L79.4,127.7" fill="none" stroke="#f4b183" stroke-width="0.85" stroke-linejoin="round" stroke-linecap="round" opacity="0.72"/>
<path d="M83.8,133.1 L83.2,133.3 L83.5,132.0 L84.4,133.6" fill="none" stroke="#a8d0ee" stroke-width="0.85" stroke-linejoin="round" stroke-linecap="round" opacity="0.72"/>
<path d="M82.2,124.1 L82.7,124.6 L82.1,123.8 L83.4,125.2" fill="none" stroke="#7fb4e0" stroke-width="0.85" stroke-linejoin="round" stroke-linecap="round" opacity="0.72"/>
<path d="M88.6,122.3 L87.9,121.8 L89.4,120.8 L91.1,121.6" fill="none" stroke="#9ec6e0" stroke-width="0.85" stroke-linejoin="round" stroke-linecap="round" opacity="0.72"/>
<path d="M73.7,136.3 L73.7,137.8 L75.1,139.7 L73.5,138.5" fill="none" stroke="#ee8f5a" stroke-width="0.85" stroke-linejoin="round" stroke-linecap="round" opacity="0.72"/>
<path d="M86.8,119.4 L87.1,118.6 L85.7,117.0 L84.8,116.3" fill="none" stroke="#7fb4e0" stroke-width="0.85" stroke-linejoin="round" stroke-linecap="round" opacity="0.72"/>
<path d="M77.6,116.6 L75.8,115.4 L77.6,115.7 L76.8,115.2" fill="none" stroke="#f4b183" stroke-width="0.85" stroke-linejoin="round" stroke-linecap="round" opacity="0.72"/>
<path d="M66.9,129.2 L68.4,128.5 L67.0,130.0 L67.2,131.0" fill="none" stroke="#f2a25a" stroke-width="0.85" stroke-linejoin="round" stroke-linecap="round" opacity="0.72"/>
<path d="M74.7,121.8 L74.3,120.7 L74.7,122.1 L75.4,120.9" fill="none" stroke="#8fbfe6" stroke-width="0.85" stroke-linejoin="round" stroke-linecap="round" opacity="0.72"/>
<path d="M77.8,113.3 L75.9,114.5 L76.2,115.4 L74.0,114.5" fill="none" stroke="#f2a25a" stroke-width="0.85" stroke-linejoin="round" stroke-linecap="round" opacity="0.72"/>
<path d="M78.0,125.2 L76.8,124.6 L77.9,125.1 L77.5,125.8" fill="none" stroke="#8fbfe6" stroke-width="0.85" stroke-linejoin="round" stroke-linecap="round" opacity="0.72"/>
<path d="M77.4,129.3 L75.6,129.7 L76.8,131.5 L76.4,133.2" fill="none" stroke="#8fbfe6" stroke-width="0.85" stroke-linejoin="round" stroke-linecap="round" opacity="0.72"/>
<path d="M80.4,125.0 L82.5,123.3 L83.0,124.1 L82.3,122.6" fill="none" stroke="#b4d6ec" stroke-width="0.85" stroke-linejoin="round" stroke-linecap="round" opacity="0.72"/>
<path d="M81.6,130.7 L81.0,130.2 L80.3,130.9 L81.9,129.6" fill="none" stroke="#f2a25a" stroke-width="0.85" stroke-linejoin="round" stroke-linecap="round" opacity="0.72"/>
<path d="M88.4,125.3 L87.3,126.1 L88.5,127.2 L87.7,128.2" fill="none" stroke="#c4dcec" stroke-width="0.85" stroke-linejoin="round" stroke-linecap="round" opacity="0.72"/>
<path d="M87.3,125.2 L87.5,124.4 L86.4,124.6 L84.6,125.7" fill="none" stroke="#c4dcec" stroke-width="0.85" stroke-linejoin="round" stroke-linecap="round" opacity="0.72"/>
<path d="M83.8,125.7 L84.9,124.2 L82.9,122.8 L80.9,122.8" fill="none" stroke="#f5c26b" stroke-width="0.85" stroke-linejoin="round" stroke-linecap="round" opacity="0.72"/>
<path d="M74.0,124.5 L75.0,126.1 L76.7,127.4 L77.9,127.5" fill="none" stroke="#f4b183" stroke-width="0.85" stroke-linejoin="round" stroke-linecap="round" opacity="0.72"/>
<path d="M72.8,135.7 L72.8,136.2 L72.1,137.3 L71.9,136.7" fill="none" stroke="#9ec6e0" stroke-width="0.85" stroke-linejoin="round" stroke-linecap="round" opacity="0.72"/>
<path d="M82.4,124.0 L83.7,125.5 L84.5,125.0 L83.3,124.5" fill="none" stroke="#f2a25a" stroke-width="0.85" stroke-linejoin="round" stroke-linecap="round" opacity="0.72"/>
<path d="M85.4,121.9 L83.3,120.1 L84.2,119.1 L83.6,118.5" fill="none" stroke="#f08a78" stroke-width="0.85" stroke-linejoin="round" stroke-linecap="round" opacity="0.72"/>
<path d="M73.1,129.7 L71.9,130.0 L70.4,131.4 L72.0,130.5" fill="none" stroke="#ee8f5a" stroke-width="0.85" stroke-linejoin="round" stroke-linecap="round" opacity="0.72"/>
<path d="M79.1,114.3 L76.9,115.7 L75.8,115.0 L76.3,116.7" fill="none" stroke="#f4b183" stroke-width="0.85" stroke-linejoin="round" stroke-linecap="round" opacity="0.72"/>
<path d="M79.7,129.5 L77.7,130.5 L77.4,130.3 L75.8,131.9" fill="none" stroke="#f4b183" stroke-width="0.85" stroke-linejoin="round" stroke-linecap="round" opacity="0.72"/>
<path d="M74.6,115.4 L72.9,114.6 L73.0,114.1 L74.1,113.9" fill="none" stroke="#e8463c" stroke-width="0.85" stroke-linejoin="round" stroke-linecap="round" opacity="0.72"/>
<path d="M72.6,131.7 L74.3,133.6 L72.2,132.5 L73.5,133.3" fill="none" stroke="#f5c26b" stroke-width="0.85" stroke-linejoin="round" stroke-linecap="round" opacity="0.72"/>
<path d="M87.6,128.8 L88.5,129.6 L86.5,131.1 L84.6,129.6" fill="none" stroke="#7fb4e0" stroke-width="0.85" stroke-linejoin="round" stroke-linecap="round" opacity="0.72"/>
<path d="M90.9,123.0 L89.5,123.7 L87.9,124.6 L87.9,123.1" fill="none" stroke="#8fbfe6" stroke-width="0.85" stroke-linejoin="round" stroke-linecap="round" opacity="0.72"/>
<path d="M73.7,134.1 L75.7,135.4 L77.8,134.4 L75.9,135.1" fill="none" stroke="#f4b183" stroke-width="0.85" stroke-linejoin="round" stroke-linecap="round" opacity="0.72"/>
<path d="M85.5,127.2 L85.5,126.8 L85.7,126.3 L83.6,127.0" fill="none" stroke="#f08a78" stroke-width="0.85" stroke-linejoin="round" stroke-linecap="round" opacity="0.72"/>
<path d="M73.7,118.3 L75.9,119.8 L76.8,119.4 L76.0,119.1" fill="none" stroke="#f5c26b" stroke-width="0.85" stroke-linejoin="round" stroke-linecap="round" opacity="0.72"/>
<path d="M86.7,125.1 L88.0,126.6 L88.6,125.6 L88.6,127.5" fill="none" stroke="#7fb4e0" stroke-width="0.85" stroke-linejoin="round" stroke-linecap="round" opacity="0.72"/>
<path d="M75.3,115.7 L76.0,114.1 L76.5,112.3 L77.5,112.0" fill="none" stroke="#f08a78" stroke-width="0.85" stroke-linejoin="round" stroke-linecap="round" opacity="0.72"/>
<path d="M69.3,122.5 L69.2,122.8 L69.0,123.3 L68.9,122.7" fill="none" stroke="#f4b183" stroke-width="0.85" stroke-linejoin="round" stroke-linecap="round" opacity="0.72"/>
<path d="M71.6,124.1 L71.0,122.5 L73.1,121.6 L73.8,122.8" fill="none" stroke="#f5c26b" stroke-width="0.85" stroke-linejoin="round" stroke-linecap="round" opacity="0.72"/>
<path d="M89.0,131.8 L90.2,130.9 L91.7,132.2 L91.0,132.6" fill="none" stroke="#c4dcec" stroke-width="0.85" stroke-linejoin="round" stroke-linecap="round" opacity="0.72"/>
<path d="M67.7,120.7 L67.8,120.8 L68.0,122.0 L66.8,120.7" fill="none" stroke="#9ec6e0" stroke-width="0.85" stroke-linejoin="round" stroke-linecap="round" opacity="0.72"/>
<path d="M82.7,118.3 L81.9,117.7 L83.5,117.5 L83.1,118.2" fill="none" stroke="#e8463c" stroke-width="0.85" stroke-linejoin="round" stroke-linecap="round" opacity="0.72"/>
<path d="M73.7,132.3 L73.4,130.7 L73.0,132.6 L73.8,132.4" fill="none" stroke="#f7c08a" stroke-width="0.85" stroke-linejoin="round" stroke-linecap="round" opacity="0.72"/>
<path d="M67.9,128.1 L65.8,126.7 L65.7,127.3 L66.3,127.4" fill="none" stroke="#f6d36b" stroke-width="0.85" stroke-linejoin="round" stroke-linecap="round" opacity="0.72"/>
<path d="M81.0,120.1 L81.3,118.4 L79.9,119.2 L78.9,118.5" fill="none" stroke="#e8463c" stroke-width="0.85" stroke-linejoin="round" stroke-linecap="round" opacity="0.72"/>
<path d="M79.6,138.8 L79.6,137.3 L77.9,139.0 L77.0,140.1" fill="none" stroke="#b4d6ec" stroke-width="0.85" stroke-linejoin="round" stroke-linecap="round" opacity="0.72"/>
<path d="M88.3,121.0 L89.2,120.2 L88.8,120.8 L90.2,120.2" fill="none" stroke="#8fbfe6" stroke-width="0.85" stroke-linejoin="round" stroke-linecap="round" opacity="0.72"/>
<path d="M71.9,133.3 L74.0,134.6 L74.3,133.0 L73.0,134.3" fill="none" stroke="#f08a78" stroke-width="0.85" stroke-linejoin="round" stroke-linecap="round" opacity="0.72"/>
<path d="M86.3,130.8 L86.3,132.4 L87.4,130.6 L87.8,130.4" fill="none" stroke="#7fb4e0" stroke-width="0.85" stroke-linejoin="round" stroke-linecap="round" opacity="0.72"/>
<path d="M67.9,129.4 L66.4,127.8 L66.0,126.4 L67.1,124.5" fill="none" stroke="#ee8f5a" stroke-width="0.85" stroke-linejoin="round" stroke-linecap="round" opacity="0.72"/>
<path d="M79.6,132.5 L78.7,131.9 L78.2,131.7 L76.4,133.0" fill="none" stroke="#b4d6ec" stroke-width="0.85" stroke-linejoin="round" stroke-linecap="round" opacity="0.72"/>
<path d="M77.6,125.8 L77.9,124.1 L78.7,124.9 L78.6,123.2" fill="none" stroke="#f08a78" stroke-width="0.85" stroke-linejoin="round" stroke-linecap="round" opacity="0.72"/>
<path d="M76.1,118.4 L77.5,119.8 L75.9,119.1 L76.0,117.3" fill="none" stroke="#f5c26b" stroke-width="0.85" stroke-linejoin="round" stroke-linecap="round" opacity="0.72"/>
<path d="M85.5,126.0 L85.0,126.6 L84.1,126.2 L85.8,126.9" fill="none" stroke="#a8d0ee" stroke-width="0.85" stroke-linejoin="round" stroke-linecap="round" opacity="0.72"/>
<path d="M76.8,132.8 L78.4,131.9 L77.1,130.2 L77.2,129.7" fill="none" stroke="#7fb4e0" stroke-width="0.85" stroke-linejoin="round" stroke-linecap="round" opacity="0.72"/>
<path d="M70.5,128.6 L72.4,128.0 L72.2,128.8 L72.9,129.7" fill="none" stroke="#f4b183" stroke-width="0.85" stroke-linejoin="round" stroke-linecap="round" opacity="0.72"/>
<path d="M82.2,126.7 L80.2,125.6 L79.9,124.5 L78.7,126.3" fill="none" stroke="#f4b183" stroke-width="0.85" stroke-linejoin="round" stroke-linecap="round" opacity="0.72"/>
<path d="M72.9,121.0 L74.5,119.3 L74.3,119.8 L72.3,121.2" fill="none" stroke="#f08a78" stroke-width="0.85" stroke-linejoin="round" stroke-linecap="round" opacity="0.72"/>
<path d="M87.7,131.1 L88.0,132.2 L87.9,132.9 L88.7,132.1" fill="none" stroke="#b4d6ec" stroke-width="0.85" stroke-linejoin="round" stroke-linecap="round" opacity="0.72"/>
<path d="M81.8,138.5 L80.5,137.0 L78.7,138.1 L80.7,137.7" fill="none" stroke="#b4d6ec" stroke-width="0.85" stroke-linejoin="round" stroke-linecap="round" opacity="0.72"/>
<path d="M75.6,120.7 L74.0,119.1 L74.9,117.3 L76.4,116.5" fill="none" stroke="#f5c26b" stroke-width="0.85" stroke-linejoin="round" stroke-linecap="round" opacity="0.72"/>
<path d="M80.0,136.7 L81.0,136.0 L79.9,136.2 L78.7,137.9" fill="none" stroke="#c4dcec" stroke-width="0.85" stroke-linejoin="round" stroke-linecap="round" opacity="0.72"/>
<path d="M76.0,120.9 L75.4,121.4 L74.2,121.6 L72.4,121.5" fill="none" stroke="#f4b183" stroke-width="0.85" stroke-linejoin="round" stroke-linecap="round" opacity="0.72"/>
<path d="M77.9,117.7 L75.9,117.2 L76.5,116.1 L77.2,116.2" fill="none" stroke="#f2a25a" stroke-width="0.85" stroke-linejoin="round" stroke-linecap="round" opacity="0.72"/>
<path d="M86.8,130.7 L86.8,132.3 L85.0,132.3 L86.6,132.6" fill="none" stroke="#9ec6e0" stroke-width="0.85" stroke-linejoin="round" stroke-linecap="round" opacity="0.72"/>
<path d="M75.4,125.5 L76.6,126.5 L78.4,126.8 L77.5,127.1" fill="none" stroke="#a8d0ee" stroke-width="0.85" stroke-linejoin="round" stroke-linecap="round" opacity="0.72"/>
<path d="M79.4,126.8 L80.1,125.1 L79.3,124.9 L78.2,125.8" fill="none" stroke="#5b92cc" stroke-width="0.85" stroke-linejoin="round" stroke-linecap="round" opacity="0.72"/>
<path d="M83.8,137.3 L84.8,137.1 L85.9,135.7 L84.4,135.3" fill="none" stroke="#8fbfe6" stroke-width="0.85" stroke-linejoin="round" stroke-linecap="round" opacity="0.72"/>
<path d="M81.4,127.1 L82.1,125.7 L82.4,125.1 L81.9,125.8" fill="none" stroke="#f5c26b" stroke-width="0.85" stroke-linejoin="round" stroke-linecap="round" opacity="0.72"/>
<path d="M81.7,131.3 L79.5,131.8 L81.0,131.1 L79.9,129.6" fill="none" stroke="#f4b183" stroke-width="0.85" stroke-linejoin="round" stroke-linecap="round" opacity="0.72"/>
<path d="M79.3,131.8 L77.7,131.6 L76.2,131.8 L76.2,131.3" fill="none" stroke="#c4dcec" stroke-width="0.85" stroke-linejoin="round" stroke-linecap="round" opacity="0.72"/>
<path d="M81.6,134.6 L83.4,135.5 L83.5,134.5 L81.7,133.0" fill="none" stroke="#5b92cc" stroke-width="0.85" stroke-linejoin="round" stroke-linecap="round" opacity="0.72"/>
<path d="M89.5,130.5 L90.3,129.4 L91.4,128.1 L90.4,126.3" fill="none" stroke="#5b92cc" stroke-width="0.85" stroke-linejoin="round" stroke-linecap="round" opacity="0.72"/>
<path d="M72.0,132.5 L70.1,132.8 L69.0,133.2 L70.2,134.0" fill="none" stroke="#8fbfe6" stroke-width="0.85" stroke-linejoin="round" stroke-linecap="round" opacity="0.72"/>
<path d="M84.7,129.0 L82.7,129.5 L83.6,130.7 L82.9,131.9" fill="none" stroke="#8fbfe6" stroke-width="0.85" stroke-linejoin="round" stroke-linecap="round" opacity="0.72"/>
<path d="M67.3,129.6 L68.6,127.8 L69.9,126.5 L69.9,125.2" fill="none" stroke="#7fb4e0" stroke-width="0.85" stroke-linejoin="round" stroke-linecap="round" opacity="0.72"/>
<path d="M82.2,115.2 L83.1,116.0 L81.1,114.1 L82.8,112.3" fill="none" stroke="#5b92cc" stroke-width="0.85" stroke-linejoin="round" stroke-linecap="round" opacity="0.72"/>
<path d="M71.9,125.3 L72.5,124.1 L73.1,125.4 L74.3,123.9" fill="none" stroke="#c4dcec" stroke-width="0.85" stroke-linejoin="round" stroke-linecap="round" opacity="0.72"/>
<path d="M77.5,118.7 L78.3,119.6 L76.7,120.9 L78.6,122.4" fill="none" stroke="#7fb4e0" stroke-width="0.85" stroke-linejoin="round" stroke-linecap="round" opacity="0.72"/>
<path d="M78.6,114.2 L78.4,115.4 L79.6,116.8 L78.7,118.6" fill="none" stroke="#f6d36b" stroke-width="0.85" stroke-linejoin="round" stroke-linecap="round" opacity="0.72"/>
<path d="M67.1,123.9 L68.3,123.0 L69.8,121.9 L68.5,121.8" fill="none" stroke="#9ec6e0" stroke-width="0.85" stroke-linejoin="round" stroke-linecap="round" opacity="0.72"/>
<path d="M79.7,135.9 L79.3,137.0 L80.6,137.7 L82.5,139.0" fill="none" stroke="#e8463c" stroke-width="0.85" stroke-linejoin="round" stroke-linecap="round" opacity="0.72"/>
<path d="M75.9,128.7 L76.7,130.2 L76.3,129.5 L75.5,129.9" fill="none" stroke="#f4b183" stroke-width="0.85" stroke-linejoin="round" stroke-linecap="round" opacity="0.72"/>
<path d="M90.2,122.7 L90.6,122.5 L89.9,121.4 L89.3,122.7" fill="none" stroke="#7fb4e0" stroke-width="0.85" stroke-linejoin="round" stroke-linecap="round" opacity="0.72"/>
<path d="M74.1,121.5 L72.7,123.0 L72.3,123.2 L71.1,122.1" fill="none" stroke="#a8d0ee" stroke-width="0.85" stroke-linejoin="round" stroke-linecap="round" opacity="0.72"/>
<path d="M73.7,120.6 L72.7,122.3 L72.0,121.3 L73.8,121.7" fill="none" stroke="#f5c26b" stroke-width="0.85" stroke-linejoin="round" stroke-linecap="round" opacity="0.72"/>
<path d="M85.2,121.3 L86.7,123.0 L86.3,121.2 L87.8,119.7" fill="none" stroke="#f08a78" stroke-width="0.85" stroke-linejoin="round" stroke-linecap="round" opacity="0.72"/>
<path d="M79.2,136.6 L78.6,135.1 L78.8,136.5 L78.9,136.0" fill="none" stroke="#b4d6ec" stroke-width="0.85" stroke-linejoin="round" stroke-linecap="round" opacity="0.72"/>
<path d="M89.6,121.0 L89.7,120.3 L88.7,119.5 L87.8,120.3" fill="none" stroke="#f2a25a" stroke-width="0.85" stroke-linejoin="round" stroke-linecap="round" opacity="0.72"/>
<path d="M74.3,114.5 L76.1,114.5 L75.5,116.3 L73.5,117.5" fill="none" stroke="#e8463c" stroke-width="0.85" stroke-linejoin="round" stroke-linecap="round" opacity="0.72"/>
<path d="M75.2,117.3 L76.2,118.2 L74.2,117.6 L72.6,119.3" fill="none" stroke="#f6d36b" stroke-width="0.85" stroke-linejoin="round" stroke-linecap="round" opacity="0.72"/>
<path d="M82.7,123.3 L84.9,122.0 L85.3,123.9 L85.8,122.9" fill="none" stroke="#e8463c" stroke-width="0.85" stroke-linejoin="round" stroke-linecap="round" opacity="0.72"/>
<path d="M79.3,124.4 L79.9,125.5 L80.7,125.1 L82.8,125.9" fill="none" stroke="#f5c26b" stroke-width="0.85" stroke-linejoin="round" stroke-linecap="round" opacity="0.72"/>
<path d="M76.6,119.9 L76.6,118.2 L76.7,119.7 L75.4,120.8" fill="none" stroke="#c4dcec" stroke-width="0.85" stroke-linejoin="round" stroke-linecap="round" opacity="0.72"/>
<path d="M85.4,129.3 L84.6,127.6 L83.7,127.2 L85.8,128.9" fill="none" stroke="#b4d6ec" stroke-width="0.85" stroke-linejoin="round" stroke-linecap="round" opacity="0.72"/>
<path d="M81.7,133.4 L82.2,135.1 L81.8,135.7 L81.2,135.1" fill="none" stroke="#f08a78" stroke-width="0.85" stroke-linejoin="round" stroke-linecap="round" opacity="0.72"/>
<path d="M81.3,117.6 L81.1,118.8 L81.7,119.9 L80.9,118.6" fill="none" stroke="#c4dcec" stroke-width="0.85" stroke-linejoin="round" stroke-linecap="round" opacity="0.72"/>
<path d="M79.4,117.3 L80.5,116.4 L79.9,118.0 L80.0,117.2" fill="none" stroke="#f5c26b" stroke-width="0.85" stroke-linejoin="round" stroke-linecap="round" opacity="0.72"/>
<path d="M74.6,121.5 L74.8,122.2 L73.9,122.6 L73.3,124.4" fill="none" stroke="#e8463c" stroke-width="0.85" stroke-linejoin="round" stroke-linecap="round" opacity="0.72"/>
<path d="M87.8,118.2 L88.6,117.9 L90.0,116.4 L89.1,116.9" fill="none" stroke="#c4dcec" stroke-width="0.85" stroke-linejoin="round" stroke-linecap="round" opacity="0.72"/>
<path d="M88.7,124.3 L88.3,126.0 L89.3,125.4 L88.9,126.5" fill="none" stroke="#f5c26b" stroke-width="0.85" stroke-linejoin="round" stroke-linecap="round" opacity="0.72"/>
<path d="M75.8,131.2 L76.6,132.7 L75.0,132.1 L73.1,131.8" fill="none" stroke="#f5c26b" stroke-width="0.85" stroke-linejoin="round" stroke-linecap="round" opacity="0.72"/>
<path d="M67.5,126.3 L67.0,126.6 L66.0,127.9 L67.3,129.2" fill="none" stroke="#f5c26b" stroke-width="0.85" stroke-linejoin="round" stroke-linecap="round" opacity="0.72"/>
<path d="M85.0,135.5 L83.3,134.7 L81.3,136.5 L83.2,136.0" fill="none" stroke="#c4dcec" stroke-width="0.85" stroke-linejoin="round" stroke-linecap="round" opacity="0.72"/>
<path d="M76.7,137.1 L77.1,136.2 L75.2,136.6 L76.7,135.7" fill="none" stroke="#f5c26b" stroke-width="0.85" stroke-linejoin="round" stroke-linecap="round" opacity="0.72"/>
<path d="M80.4,132.7 L80.7,134.2 L78.8,132.4 L78.9,130.9" fill="none" stroke="#b4d6ec" stroke-width="0.85" stroke-linejoin="round" stroke-linecap="round" opacity="0.72"/>
<path d="M84.6,124.7 L83.0,123.8 L81.1,123.6 L81.3,124.8" fill="none" stroke="#9ec6e0" stroke-width="0.85" stroke-linejoin="round" stroke-linecap="round" opacity="0.72"/>
<path d="M90.0,129.5 L89.1,131.2 L91.2,131.3 L90.0,131.5" fill="none" stroke="#5b92cc" stroke-width="0.85" stroke-linejoin="round" stroke-linecap="round" opacity="0.72"/>
<path d="M81.8,120.0 L80.6,118.8 L82.0,117.9 L81.4,119.6" fill="none" stroke="#e8463c" stroke-width="0.85" stroke-linejoin="round" stroke-linecap="round" opacity="0.72"/>
<ellipse cx="109.5" cy="127" rx="10.625" ry="11.049999999999999" fill="#f3e0d6" opacity="0.7"/>
<path d="M108.9,130.8 L109.0,131.2 L107.8,132.6 L110.0,133.7" fill="none" stroke="#7fb4e0" stroke-width="0.85" stroke-linejoin="round" stroke-linecap="round" opacity="0.72"/>
<path d="M116.5,125.2 L117.1,125.5 L116.8,127.3 L118.5,127.7" fill="none" stroke="#f2a25a" stroke-width="0.85" stroke-linejoin="round" stroke-linecap="round" opacity="0.72"/>
<path d="M113.1,136.5 L112.1,135.3 L113.2,135.4 L112.9,134.3" fill="none" stroke="#5b92cc" stroke-width="0.85" stroke-linejoin="round" stroke-linecap="round" opacity="0.72"/>
<path d="M107.9,121.5 L109.0,122.8 L108.1,123.8 L106.0,124.8" fill="none" stroke="#c4dcec" stroke-width="0.85" stroke-linejoin="round" stroke-linecap="round" opacity="0.72"/>
<path d="M108.3,125.9 L106.2,127.3 L107.1,127.8 L106.1,127.3" fill="none" stroke="#7fb4e0" stroke-width="0.85" stroke-linejoin="round" stroke-linecap="round" opacity="0.72"/>
<path d="M114.6,135.9 L112.9,136.8 L113.7,136.5 L111.7,137.3" fill="none" stroke="#f7c08a" stroke-width="0.85" stroke-linejoin="round" stroke-linecap="round" opacity="0.72"/>
<path d="M110.5,119.5 L111.8,119.4 L113.9,120.9 L115.2,120.8" fill="none" stroke="#f4b183" stroke-width="0.85" stroke-linejoin="round" stroke-linecap="round" opacity="0.72"/>
<path d="M111.5,122.8 L110.4,122.4 L109.7,123.0 L111.6,121.8" fill="none" stroke="#c4dcec" stroke-width="0.85" stroke-linejoin="round" stroke-linecap="round" opacity="0.72"/>
<path d="M107.5,138.6 L108.5,138.1 L109.9,139.4 L108.3,137.6" fill="none" stroke="#9ec6e0" stroke-width="0.85" stroke-linejoin="round" stroke-linecap="round" opacity="0.72"/>
<path d="M111.6,136.7 L113.0,138.5 L111.2,139.6 L109.9,139.8" fill="none" stroke="#8fbfe6" stroke-width="0.85" stroke-linejoin="round" stroke-linecap="round" opacity="0.72"/>
<path d="M119.4,120.8 L121.1,120.7 L121.7,119.6 L120.6,121.2" fill="none" stroke="#c4dcec" stroke-width="0.85" stroke-linejoin="round" stroke-linecap="round" opacity="0.72"/>
<path d="M106.5,129.8 L108.5,129.6 L108.8,131.2 L109.6,132.8" fill="none" stroke="#f6d36b" stroke-width="0.85" stroke-linejoin="round" stroke-linecap="round" opacity="0.72"/>
<path d="M110.2,117.2 L108.7,117.8 L110.3,119.6 L111.3,119.5" fill="none" stroke="#ee8f5a" stroke-width="0.85" stroke-linejoin="round" stroke-linecap="round" opacity="0.72"/>
<path d="M116.6,120.1 L117.1,118.4 L115.9,120.3 L114.7,119.9" fill="none" stroke="#7fb4e0" stroke-width="0.85" stroke-linejoin="round" stroke-linecap="round" opacity="0.72"/>
<path d="M112.2,115.5 L111.1,117.1 L109.7,115.2 L109.6,114.8" fill="none" stroke="#e8463c" stroke-width="0.85" stroke-linejoin="round" stroke-linecap="round" opacity="0.72"/>
<path d="M120.9,122.4 L122.8,122.9 L124.7,122.0 L123.1,120.2" fill="none" stroke="#e8463c" stroke-width="0.85" stroke-linejoin="round" stroke-linecap="round" opacity="0.72"/>
<path d="M109.7,122.8 L108.3,124.0 L106.8,124.0 L105.1,125.1" fill="none" stroke="#f2a25a" stroke-width="0.85" stroke-linejoin="round" stroke-linecap="round" opacity="0.72"/>
<path d="M118.7,119.0 L116.6,119.6 L114.8,119.8 L115.3,121.0" fill="none" stroke="#9ec6e0" stroke-width="0.85" stroke-linejoin="round" stroke-linecap="round" opacity="0.72"/>
<path d="M99.3,124.5 L99.1,125.1 L99.4,124.0 L98.0,124.0" fill="none" stroke="#f7c08a" stroke-width="0.85" stroke-linejoin="round" stroke-linecap="round" opacity="0.72"/>
<path d="M112.5,121.9 L113.2,123.8 L113.7,122.2 L113.8,122.9" fill="none" stroke="#f08a78" stroke-width="0.85" stroke-linejoin="round" stroke-linecap="round" opacity="0.72"/>
<path d="M114.7,130.3 L112.9,129.5 L112.1,128.7 L112.0,129.0" fill="none" stroke="#f2a25a" stroke-width="0.85" stroke-linejoin="round" stroke-linecap="round" opacity="0.72"/>
<path d="M106.7,131.9 L105.0,132.6 L105.5,132.7 L105.3,132.4" fill="none" stroke="#8fbfe6" stroke-width="0.85" stroke-linejoin="round" stroke-linecap="round" opacity="0.72"/>
<path d="M101.8,120.3 L103.6,121.6 L104.6,119.8 L105.4,121.1" fill="none" stroke="#f2a25a" stroke-width="0.85" stroke-linejoin="round" stroke-linecap="round" opacity="0.72"/>
<path d="M98.9,132.1 L98.6,132.9 L97.5,132.2 L96.9,131.5" fill="none" stroke="#a8d0ee" stroke-width="0.85" stroke-linejoin="round" stroke-linecap="round" opacity="0.72"/>
<path d="M116.4,131.9 L117.5,133.1 L119.7,134.1 L118.7,133.1" fill="none" stroke="#ee8f5a" stroke-width="0.85" stroke-linejoin="round" stroke-linecap="round" opacity="0.72"/>
<path d="M108.0,128.0 L109.8,127.3 L111.0,128.4 L112.7,129.5" fill="none" stroke="#a8d0ee" stroke-width="0.85" stroke-linejoin="round" stroke-linecap="round" opacity="0.72"/>
<path d="M105.5,126.2 L105.2,125.5 L103.3,124.1 L103.1,123.0" fill="none" stroke="#f4b183" stroke-width="0.85" stroke-linejoin="round" stroke-linecap="round" opacity="0.72"/>
<path d="M119.1,130.5 L121.0,130.6 L122.2,131.1 L122.9,130.0" fill="none" stroke="#7fb4e0" stroke-width="0.85" stroke-linejoin="round" stroke-linecap="round" opacity="0.72"/>
<path d="M109.9,114.8 L110.8,116.6 L109.4,116.4 L110.2,117.1" fill="none" stroke="#f5c26b" stroke-width="0.85" stroke-linejoin="round" stroke-linecap="round" opacity="0.72"/>
<path d="M109.2,115.7 L111.3,114.2 L112.9,114.7 L113.4,115.3" fill="none" stroke="#f7c08a" stroke-width="0.85" stroke-linejoin="round" stroke-linecap="round" opacity="0.72"/>
<path d="M109.2,122.1 L110.1,121.4 L108.2,119.7 L106.0,119.2" fill="none" stroke="#8fbfe6" stroke-width="0.85" stroke-linejoin="round" stroke-linecap="round" opacity="0.72"/>
<path d="M112.1,130.4 L113.0,129.5 L114.1,128.3 L112.4,127.6" fill="none" stroke="#c4dcec" stroke-width="0.85" stroke-linejoin="round" stroke-linecap="round" opacity="0.72"/>
<path d="M100.8,132.8 L102.4,132.7 L101.6,131.6 L101.1,132.7" fill="none" stroke="#f2a25a" stroke-width="0.85" stroke-linejoin="round" stroke-linecap="round" opacity="0.72"/>
<path d="M114.0,130.7 L113.0,128.8 L111.6,130.4 L110.1,131.0" fill="none" stroke="#a8d0ee" stroke-width="0.85" stroke-linejoin="round" stroke-linecap="round" opacity="0.72"/>
<path d="M100.8,121.5 L100.7,122.8 L98.8,121.9 L97.0,122.2" fill="none" stroke="#f6d36b" stroke-width="0.85" stroke-linejoin="round" stroke-linecap="round" opacity="0.72"/>
<path d="M115.8,129.7 L117.7,129.1 L117.9,127.9 L117.3,128.8" fill="none" stroke="#5b92cc" stroke-width="0.85" stroke-linejoin="round" stroke-linecap="round" opacity="0.72"/>
<path d="M106.0,130.9 L107.8,129.6 L108.9,131.2 L106.9,131.8" fill="none" stroke="#f08a78" stroke-width="0.85" stroke-linejoin="round" stroke-linecap="round" opacity="0.72"/>
<path d="M117.8,119.6 L118.4,119.5 L120.0,117.8 L120.7,119.0" fill="none" stroke="#f08a78" stroke-width="0.85" stroke-linejoin="round" stroke-linecap="round" opacity="0.72"/>
<path d="M109.7,129.2 L108.0,129.4 L108.0,129.1 L107.9,130.7" fill="none" stroke="#8fbfe6" stroke-width="0.85" stroke-linejoin="round" stroke-linecap="round" opacity="0.72"/>
<path d="M116.4,122.4 L114.5,121.9 L114.3,123.6 L114.6,122.0" fill="none" stroke="#5b92cc" stroke-width="0.85" stroke-linejoin="round" stroke-linecap="round" opacity="0.72"/>
<path d="M111.4,138.0 L113.6,139.7 L113.0,138.0 L112.7,136.3" fill="none" stroke="#9ec6e0" stroke-width="0.85" stroke-linejoin="round" stroke-linecap="round" opacity="0.72"/>
<path d="M100.7,125.7 L98.8,124.9 L100.7,124.7 L101.7,123.1" fill="none" stroke="#f2a25a" stroke-width="0.85" stroke-linejoin="round" stroke-linecap="round" opacity="0.72"/>
<path d="M102.8,129.1 L104.0,127.5 L104.9,127.4 L103.9,127.4" fill="none" stroke="#b4d6ec" stroke-width="0.85" stroke-linejoin="round" stroke-linecap="round" opacity="0.72"/>
<path d="M101.7,118.6 L102.5,116.8 L103.1,117.8 L103.9,116.5" fill="none" stroke="#ee8f5a" stroke-width="0.85" stroke-linejoin="round" stroke-linecap="round" opacity="0.72"/>
<path d="M104.4,133.1 L105.4,134.4 L104.8,136.0 L103.4,134.9" fill="none" stroke="#f4b183" stroke-width="0.85" stroke-linejoin="round" stroke-linecap="round" opacity="0.72"/>
<path d="M99.8,119.9 L101.3,119.1 L103.4,120.3 L102.6,119.6" fill="none" stroke="#5b92cc" stroke-width="0.85" stroke-linejoin="round" stroke-linecap="round" opacity="0.72"/>
<path d="M110.5,130.2 L108.4,131.9 L107.2,131.8 L107.2,133.5" fill="none" stroke="#5b92cc" stroke-width="0.85" stroke-linejoin="round" stroke-linecap="round" opacity="0.72"/>
<path d="M97.1,127.6 L95.7,127.5 L94.9,128.6 L93.9,130.4" fill="none" stroke="#f08a78" stroke-width="0.85" stroke-linejoin="round" stroke-linecap="round" opacity="0.72"/>
<path d="M109.6,124.7 L110.3,122.9 L109.8,121.6 L111.2,119.7" fill="none" stroke="#7fb4e0" stroke-width="0.85" stroke-linejoin="round" stroke-linecap="round" opacity="0.72"/>
<path d="M104.5,122.9 L103.0,121.9 L101.3,123.6 L99.7,122.3" fill="none" stroke="#f5c26b" stroke-width="0.85" stroke-linejoin="round" stroke-linecap="round" opacity="0.72"/>
<path d="M100.1,125.6 L98.6,125.3 L96.8,126.5 L98.0,125.6" fill="none" stroke="#e8463c" stroke-width="0.85" stroke-linejoin="round" stroke-linecap="round" opacity="0.72"/>
<path d="M104.2,124.4 L103.1,126.1 L102.7,124.4 L104.6,122.9" fill="none" stroke="#b4d6ec" stroke-width="0.85" stroke-linejoin="round" stroke-linecap="round" opacity="0.72"/>
<path d="M116.2,127.8 L117.8,127.5 L117.9,128.8 L119.3,129.4" fill="none" stroke="#5b92cc" stroke-width="0.85" stroke-linejoin="round" stroke-linecap="round" opacity="0.72"/>
<path d="M105.2,126.6 L105.4,127.3 L104.8,127.4 L105.1,127.2" fill="none" stroke="#b4d6ec" stroke-width="0.85" stroke-linejoin="round" stroke-linecap="round" opacity="0.72"/>
<path d="M104.2,123.4 L104.9,123.1 L106.9,122.2 L108.3,122.9" fill="none" stroke="#f7c08a" stroke-width="0.85" stroke-linejoin="round" stroke-linecap="round" opacity="0.72"/>
<path d="M119.2,130.8 L120.5,128.9 L120.4,129.6 L121.3,130.1" fill="none" stroke="#a8d0ee" stroke-width="0.85" stroke-linejoin="round" stroke-linecap="round" opacity="0.72"/>
<path d="M114.7,138.5 L116.8,137.0 L118.9,137.1 L118.4,135.7" fill="none" stroke="#5b92cc" stroke-width="0.85" stroke-linejoin="round" stroke-linecap="round" opacity="0.72"/>
<path d="M109.4,119.1 L110.1,120.1 L108.4,119.0 L107.2,118.2" fill="none" stroke="#f5c26b" stroke-width="0.85" stroke-linejoin="round" stroke-linecap="round" opacity="0.72"/>
<path d="M114.0,128.1 L114.6,127.9 L114.4,127.3 L114.6,126.7" fill="none" stroke="#7fb4e0" stroke-width="0.85" stroke-linejoin="round" stroke-linecap="round" opacity="0.72"/>
<path d="M109.9,119.7 L110.6,120.8 L110.2,119.3 L110.7,118.5" fill="none" stroke="#e8463c" stroke-width="0.85" stroke-linejoin="round" stroke-linecap="round" opacity="0.72"/>
<path d="M104.1,125.2 L106.2,124.0 L107.4,123.3 L106.3,124.5" fill="none" stroke="#c4dcec" stroke-width="0.85" stroke-linejoin="round" stroke-linecap="round" opacity="0.72"/>
<path d="M100.2,119.9 L98.9,118.0 L99.1,118.9 L98.1,117.3" fill="none" stroke="#e8463c" stroke-width="0.85" stroke-linejoin="round" stroke-linecap="round" opacity="0.72"/>
<path d="M114.7,127.2 L113.3,125.9 L115.0,127.0 L113.9,125.2" fill="none" stroke="#e8463c" stroke-width="0.85" stroke-linejoin="round" stroke-linecap="round" opacity="0.72"/>
<path d="M112.7,128.9 L112.0,129.0 L111.2,128.7 L111.1,127.8" fill="none" stroke="#7fb4e0" stroke-width="0.85" stroke-linejoin="round" stroke-linecap="round" opacity="0.72"/>
<path d="M112.9,128.3 L111.0,126.6 L113.1,125.2 L114.7,124.5" fill="none" stroke="#8fbfe6" stroke-width="0.85" stroke-linejoin="round" stroke-linecap="round" opacity="0.72"/>
<path d="M104.8,126.9 L105.9,128.2 L105.6,127.5 L103.4,126.7" fill="none" stroke="#e8463c" stroke-width="0.85" stroke-linejoin="round" stroke-linecap="round" opacity="0.72"/>
<path d="M117.2,130.9 L115.9,131.7 L117.2,132.8 L116.0,131.3" fill="none" stroke="#5b92cc" stroke-width="0.85" stroke-linejoin="round" stroke-linecap="round" opacity="0.72"/>
<path d="M104.6,118.6 L106.5,117.6 L108.0,117.4 L109.1,117.4" fill="none" stroke="#5b92cc" stroke-width="0.85" stroke-linejoin="round" stroke-linecap="round" opacity="0.72"/>
<path d="M102.4,126.0 L103.4,124.9 L102.4,125.4 L103.3,125.9" fill="none" stroke="#5b92cc" stroke-width="0.85" stroke-linejoin="round" stroke-linecap="round" opacity="0.72"/>
<path d="M114.1,123.6 L115.9,122.2 L113.9,122.1 L113.2,122.8" fill="none" stroke="#b4d6ec" stroke-width="0.85" stroke-linejoin="round" stroke-linecap="round" opacity="0.72"/>
<path d="M105.1,117.1 L104.3,118.0 L102.3,118.4 L100.5,116.7" fill="none" stroke="#f5c26b" stroke-width="0.85" stroke-linejoin="round" stroke-linecap="round" opacity="0.72"/>
<path d="M104.7,126.6 L104.5,125.4 L102.8,125.4 L102.9,124.9" fill="none" stroke="#f08a78" stroke-width="0.85" stroke-linejoin="round" stroke-linecap="round" opacity="0.72"/>
<path d="M107.6,117.8 L108.3,118.2 L108.0,116.6 L109.3,116.6" fill="none" stroke="#f2a25a" stroke-width="0.85" stroke-linejoin="round" stroke-linecap="round" opacity="0.72"/>
<path d="M98.5,130.7 L99.7,130.2 L99.5,131.9 L101.4,132.3" fill="none" stroke="#f5c26b" stroke-width="0.85" stroke-linejoin="round" stroke-linecap="round" opacity="0.72"/>
<path d="M116.2,132.4 L114.6,133.7 L116.5,134.0 L114.6,134.7" fill="none" stroke="#a8d0ee" stroke-width="0.85" stroke-linejoin="round" stroke-linecap="round" opacity="0.72"/>
<path d="M119.4,129.3 L119.1,127.7 L118.6,126.2 L120.7,124.5" fill="none" stroke="#f4b183" stroke-width="0.85" stroke-linejoin="round" stroke-linecap="round" opacity="0.72"/>
<path d="M106.9,138.1 L107.8,137.4 L109.2,137.8 L108.8,136.8" fill="none" stroke="#8fbfe6" stroke-width="0.85" stroke-linejoin="round" stroke-linecap="round" opacity="0.72"/>
<path d="M101.0,134.6 L99.3,133.6 L101.4,132.2 L100.4,133.1" fill="none" stroke="#f4b183" stroke-width="0.85" stroke-linejoin="round" stroke-linecap="round" opacity="0.72"/>
<path d="M118.7,119.2 L119.2,118.4 L119.0,119.2 L120.1,117.8" fill="none" stroke="#5b92cc" stroke-width="0.85" stroke-linejoin="round" stroke-linecap="round" opacity="0.72"/>
<path d="M113.7,138.9 L113.8,140.1 L111.7,140.1 L113.1,140.9" fill="none" stroke="#9ec6e0" stroke-width="0.85" stroke-linejoin="round" stroke-linecap="round" opacity="0.72"/>
<path d="M119.2,125.5 L120.3,124.9 L118.9,124.6 L120.3,126.0" fill="none" stroke="#b4d6ec" stroke-width="0.85" stroke-linejoin="round" stroke-linecap="round" opacity="0.72"/>
<path d="M108.4,126.4 L110.1,128.1 L109.4,129.4 L110.8,128.6" fill="none" stroke="#e8463c" stroke-width="0.85" stroke-linejoin="round" stroke-linecap="round" opacity="0.72"/>
<path d="M104.4,132.9 L103.5,134.6 L101.3,135.3 L102.4,136.3" fill="none" stroke="#7fb4e0" stroke-width="0.85" stroke-linejoin="round" stroke-linecap="round" opacity="0.72"/>
<path d="M98.6,121.9 L100.8,122.8 L101.9,124.0 L100.8,124.6" fill="none" stroke="#e8463c" stroke-width="0.85" stroke-linejoin="round" stroke-linecap="round" opacity="0.72"/>
<path d="M101.1,135.1 L102.1,135.8 L100.1,137.3 L98.7,136.6" fill="none" stroke="#c4dcec" stroke-width="0.85" stroke-linejoin="round" stroke-linecap="round" opacity="0.72"/>
<path d="M111.3,115.1 L112.6,116.4 L114.7,118.1 L114.5,118.0" fill="none" stroke="#e8463c" stroke-width="0.85" stroke-linejoin="round" stroke-linecap="round" opacity="0.72"/>
<path d="M109.4,115.1 L108.3,113.6 L107.6,111.8 L108.9,110.7" fill="none" stroke="#f4b183" stroke-width="0.85" stroke-linejoin="round" stroke-linecap="round" opacity="0.72"/>
<path d="M112.4,128.5 L114.0,129.0 L113.2,128.9 L112.7,129.4" fill="none" stroke="#f08a78" stroke-width="0.85" stroke-linejoin="round" stroke-linecap="round" opacity="0.72"/>
<path d="M116.7,120.6 L117.7,119.9 L119.4,120.1 L117.6,120.5" fill="none" stroke="#a8d0ee" stroke-width="0.85" stroke-linejoin="round" stroke-linecap="round" opacity="0.72"/>
<path d="M113.8,118.8 L111.6,120.5 L110.4,119.4 L110.6,121.0" fill="none" stroke="#f5c26b" stroke-width="0.85" stroke-linejoin="round" stroke-linecap="round" opacity="0.72"/>
<path d="M103.2,116.9 L103.0,117.1 L100.9,115.7 L103.1,114.5" fill="none" stroke="#e8463c" stroke-width="0.85" stroke-linejoin="round" stroke-linecap="round" opacity="0.72"/>
<path d="M107.2,136.0 L106.0,137.0 L107.3,135.9 L109.0,137.8" fill="none" stroke="#f2a25a" stroke-width="0.85" stroke-linejoin="round" stroke-linecap="round" opacity="0.72"/>
<path d="M102.5,130.3 L101.1,129.5 L100.4,130.4 L99.0,130.6" fill="none" stroke="#f5c26b" stroke-width="0.85" stroke-linejoin="round" stroke-linecap="round" opacity="0.72"/>
<path d="M99.3,127.0 L101.5,127.2 L102.8,126.0 L104.6,126.2" fill="none" stroke="#7fb4e0" stroke-width="0.85" stroke-linejoin="round" stroke-linecap="round" opacity="0.72"/>
<path d="M110.2,114.9 L108.9,113.1 L108.9,114.6 L110.7,116.3" fill="none" stroke="#e8463c" stroke-width="0.85" stroke-linejoin="round" stroke-linecap="round" opacity="0.72"/>
<path d="M97.5,126.1 L95.9,125.9 L93.9,124.5 L94.7,124.9" fill="none" stroke="#f6d36b" stroke-width="0.85" stroke-linejoin="round" stroke-linecap="round" opacity="0.72"/>
<path d="M110.1,133.0 L108.3,131.1 L107.6,132.0 L108.7,131.0" fill="none" stroke="#e8463c" stroke-width="0.85" stroke-linejoin="round" stroke-linecap="round" opacity="0.72"/>
<path d="M109.2,136.3 L107.8,137.8 L109.8,138.6 L108.1,138.5" fill="none" stroke="#c4dcec" stroke-width="0.85" stroke-linejoin="round" stroke-linecap="round" opacity="0.72"/>
<path d="M104.7,123.6 L106.6,121.9 L108.5,121.7 L106.7,120.1" fill="none" stroke="#f5c26b" stroke-width="0.85" stroke-linejoin="round" stroke-linecap="round" opacity="0.72"/>
<path d="M112.5,116.8 L111.0,115.7 L111.2,115.3 L112.2,117.2" fill="none" stroke="#7fb4e0" stroke-width="0.85" stroke-linejoin="round" stroke-linecap="round" opacity="0.72"/>
<path d="M111.1,139.0 L110.3,137.7 L109.0,136.1 L107.7,135.4" fill="none" stroke="#7fb4e0" stroke-width="0.85" stroke-linejoin="round" stroke-linecap="round" opacity="0.72"/>
<path d="M104.1,126.8 L105.3,127.2 L105.2,126.3 L105.3,126.2" fill="none" stroke="#ee8f5a" stroke-width="0.85" stroke-linejoin="round" stroke-linecap="round" opacity="0.72"/>
<path d="M100.7,126.5 L101.6,128.3 L101.1,127.7 L100.8,127.1" fill="none" stroke="#a8d0ee" stroke-width="0.85" stroke-linejoin="round" stroke-linecap="round" opacity="0.72"/>
<path d="M106.7,119.4 L108.1,119.6 L106.1,120.7 L106.0,120.7" fill="none" stroke="#9ec6e0" stroke-width="0.85" stroke-linejoin="round" stroke-linecap="round" opacity="0.72"/>
<path d="M107.1,116.6 L105.6,117.2 L106.7,115.3 L107.5,115.8" fill="none" stroke="#f7c08a" stroke-width="0.85" stroke-linejoin="round" stroke-linecap="round" opacity="0.72"/>
<path d="M106.0,119.6 L105.3,121.3 L105.6,120.9 L104.2,119.5" fill="none" stroke="#f08a78" stroke-width="0.85" stroke-linejoin="round" stroke-linecap="round" opacity="0.72"/>
<path d="M118.4,120.0 L119.8,119.8 L118.8,119.9 L116.7,120.1" fill="none" stroke="#a8d0ee" stroke-width="0.85" stroke-linejoin="round" stroke-linecap="round" opacity="0.72"/>
<path d="M111.3,119.8 L110.6,119.4 L111.1,120.5 L110.0,120.0" fill="none" stroke="#f2a25a" stroke-width="0.85" stroke-linejoin="round" stroke-linecap="round" opacity="0.72"/>
<path d="M103.8,132.1 L102.8,131.4 L104.2,130.1 L105.0,128.3" fill="none" stroke="#e8463c" stroke-width="0.85" stroke-linejoin="round" stroke-linecap="round" opacity="0.72"/>
<path d="M110.6,130.0 L109.7,128.9 L109.5,127.5 L111.5,129.0" fill="none" stroke="#f6d36b" stroke-width="0.85" stroke-linejoin="round" stroke-linecap="round" opacity="0.72"/>
<path d="M113.2,130.1 L114.4,128.7 L115.9,127.0 L115.9,127.9" fill="none" stroke="#8fbfe6" stroke-width="0.85" stroke-linejoin="round" stroke-linecap="round" opacity="0.72"/>
<path d="M100.7,131.8 L101.2,133.7 L99.1,132.0 L97.5,130.1" fill="none" stroke="#f6d36b" stroke-width="0.85" stroke-linejoin="round" stroke-linecap="round" opacity="0.72"/>
<path d="M106.9,117.0 L105.2,115.9 L104.6,117.6 L103.2,116.1" fill="none" stroke="#5b92cc" stroke-width="0.85" stroke-linejoin="round" stroke-linecap="round" opacity="0.72"/>
<path d="M113.9,121.2 L112.8,123.0 L114.9,123.8 L113.5,122.6" fill="none" stroke="#7fb4e0" stroke-width="0.85" stroke-linejoin="round" stroke-linecap="round" opacity="0.72"/>
<path d="M113.8,133.3 L113.5,133.8 L115.3,134.8 L115.5,136.3" fill="none" stroke="#e8463c" stroke-width="0.85" stroke-linejoin="round" stroke-linecap="round" opacity="0.72"/>
<path d="M117.8,127.7 L117.0,127.4 L119.0,128.7 L120.8,128.9" fill="none" stroke="#b4d6ec" stroke-width="0.85" stroke-linejoin="round" stroke-linecap="round" opacity="0.72"/>
<path d="M112.8,131.2 L113.4,131.2 L115.3,132.0 L117.2,133.3" fill="none" stroke="#b4d6ec" stroke-width="0.85" stroke-linejoin="round" stroke-linecap="round" opacity="0.72"/>
<path d="M102.7,135.3 L103.7,135.0 L105.7,136.7 L107.6,137.1" fill="none" stroke="#7fb4e0" stroke-width="0.85" stroke-linejoin="round" stroke-linecap="round" opacity="0.72"/>
<path d="M106.4,134.3 L107.7,135.4 L109.1,137.3 L109.9,136.6" fill="none" stroke="#5b92cc" stroke-width="0.85" stroke-linejoin="round" stroke-linecap="round" opacity="0.72"/>
<path d="M109.8,120.3 L110.1,120.5 L112.1,121.9 L114.3,121.9" fill="none" stroke="#f6d36b" stroke-width="0.85" stroke-linejoin="round" stroke-linecap="round" opacity="0.72"/>
<path d="M110.8,124.5 L111.1,126.1 L111.5,125.8 L113.4,124.2" fill="none" stroke="#f2a25a" stroke-width="0.85" stroke-linejoin="round" stroke-linecap="round" opacity="0.72"/>
<path d="M110.2,122.9 L110.6,122.6 L112.3,123.8 L110.5,123.6" fill="none" stroke="#8fbfe6" stroke-width="0.85" stroke-linejoin="round" stroke-linecap="round" opacity="0.72"/>
<path d="M107.9,128.8 L106.6,129.4 L105.7,128.9 L107.5,130.6" fill="none" stroke="#f7c08a" stroke-width="0.85" stroke-linejoin="round" stroke-linecap="round" opacity="0.72"/>
<path d="M117.7,126.9 L118.3,126.0 L118.9,125.4 L119.8,126.1" fill="none" stroke="#9ec6e0" stroke-width="0.85" stroke-linejoin="round" stroke-linecap="round" opacity="0.72"/>
<path d="M112.1,126.3 L110.1,128.1 L110.3,129.0 L108.7,129.6" fill="none" stroke="#f7c08a" stroke-width="0.85" stroke-linejoin="round" stroke-linecap="round" opacity="0.72"/>
<path d="M105.0,131.5 L104.8,129.7 L103.0,130.8 L104.7,129.8" fill="none" stroke="#e8463c" stroke-width="0.85" stroke-linejoin="round" stroke-linecap="round" opacity="0.72"/>
<path d="M100.1,119.8 L99.4,121.4 L98.0,120.1 L99.4,118.6" fill="none" stroke="#a8d0ee" stroke-width="0.85" stroke-linejoin="round" stroke-linecap="round" opacity="0.72"/>
<path d="M113.0,135.5 L114.8,134.4 L116.3,133.4 L115.3,131.7" fill="none" stroke="#5b92cc" stroke-width="0.85" stroke-linejoin="round" stroke-linecap="round" opacity="0.72"/>
<path d="M116.1,138.0 L114.2,137.6 L114.7,139.3 L113.5,139.0" fill="none" stroke="#9ec6e0" stroke-width="0.85" stroke-linejoin="round" stroke-linecap="round" opacity="0.72"/>
<path d="M102.6,128.4 L101.5,128.2 L102.9,130.0 L104.7,128.7" fill="none" stroke="#7fb4e0" stroke-width="0.85" stroke-linejoin="round" stroke-linecap="round" opacity="0.72"/>
<path d="M105.7,118.1 L107.6,119.7 L107.4,121.3 L107.7,119.8" fill="none" stroke="#f6d36b" stroke-width="0.85" stroke-linejoin="round" stroke-linecap="round" opacity="0.72"/>
<path d="M97.2,127.2 L98.9,126.7 L100.9,128.5 L99.3,128.8" fill="none" stroke="#f4b183" stroke-width="0.85" stroke-linejoin="round" stroke-linecap="round" opacity="0.72"/>
<path d="M117.1,125.3 L118.3,124.6 L118.1,126.4 L117.9,125.9" fill="none" stroke="#a8d0ee" stroke-width="0.85" stroke-linejoin="round" stroke-linecap="round" opacity="0.72"/>
<path d="M111.6,114.6 L113.6,115.1 L113.8,116.5 L114.5,116.0" fill="none" stroke="#ee8f5a" stroke-width="0.85" stroke-linejoin="round" stroke-linecap="round" opacity="0.72"/>
<path d="M104.1,122.6 L105.0,123.0 L104.7,121.9 L102.8,121.9" fill="none" stroke="#f08a78" stroke-width="0.85" stroke-linejoin="round" stroke-linecap="round" opacity="0.72"/>
<path d="M103.8,117.4 L104.6,119.0 L106.8,119.7 L107.8,117.8" fill="none" stroke="#f2a25a" stroke-width="0.85" stroke-linejoin="round" stroke-linecap="round" opacity="0.72"/>
<path d="M117.3,129.6 L119.0,130.3 L119.1,129.7 L120.0,129.9" fill="none" stroke="#f4b183" stroke-width="0.85" stroke-linejoin="round" stroke-linecap="round" opacity="0.72"/>
<path d="M113.5,135.9 L111.7,137.6 L110.7,139.0 L110.8,138.3" fill="none" stroke="#f08a78" stroke-width="0.85" stroke-linejoin="round" stroke-linecap="round" opacity="0.72"/>
<path d="M117.3,125.3 L117.7,126.0 L117.4,127.3 L119.1,127.3" fill="none" stroke="#f2a25a" stroke-width="0.85" stroke-linejoin="round" stroke-linecap="round" opacity="0.72"/>
<path d="M99.0,132.3 L101.2,134.2 L101.7,134.8 L100.2,135.6" fill="none" stroke="#8fbfe6" stroke-width="0.85" stroke-linejoin="round" stroke-linecap="round" opacity="0.72"/>
<path d="M102.4,124.5 L102.6,123.3 L101.1,121.8 L102.4,120.3" fill="none" stroke="#f7c08a" stroke-width="0.85" stroke-linejoin="round" stroke-linecap="round" opacity="0.72"/>
<path d="M106.1,136.1 L105.7,136.3 L103.6,134.6 L103.2,133.6" fill="none" stroke="#7fb4e0" stroke-width="0.85" stroke-linejoin="round" stroke-linecap="round" opacity="0.72"/>
<path d="M109.8,120.6 L111.0,121.9 L111.4,121.6 L111.3,119.9" fill="none" stroke="#f08a78" stroke-width="0.85" stroke-linejoin="round" stroke-linecap="round" opacity="0.72"/>
<path d="M121.8,125.0 L120.7,123.3 L122.5,122.1 L121.5,123.2" fill="none" stroke="#c4dcec" stroke-width="0.85" stroke-linejoin="round" stroke-linecap="round" opacity="0.72"/>
<path d="M109.7,119.4 L108.9,119.5 L110.8,118.5 L109.3,117.8" fill="none" stroke="#9ec6e0" stroke-width="0.85" stroke-linejoin="round" stroke-linecap="round" opacity="0.72"/>
<path d="M104.1,138.1 L106.0,138.4 L106.0,140.3 L107.0,141.2" fill="none" stroke="#f5c26b" stroke-width="0.85" stroke-linejoin="round" stroke-linecap="round" opacity="0.72"/>
<path d="M114.2,116.5 L113.4,115.0 L114.5,115.8 L114.5,114.6" fill="none" stroke="#8fbfe6" stroke-width="0.85" stroke-linejoin="round" stroke-linecap="round" opacity="0.72"/>
<path d="M105.5,119.5 L104.4,119.4 L105.3,120.0 L103.5,119.7" fill="none" stroke="#f2a25a" stroke-width="0.85" stroke-linejoin="round" stroke-linecap="round" opacity="0.72"/>
<path d="M103.0,125.4 L101.9,126.1 L100.7,125.7 L101.5,125.4" fill="none" stroke="#f08a78" stroke-width="0.85" stroke-linejoin="round" stroke-linecap="round" opacity="0.72"/>
<path d="M111.4,129.9 L113.2,128.3 L113.2,128.3 L111.9,128.9" fill="none" stroke="#a8d0ee" stroke-width="0.85" stroke-linejoin="round" stroke-linecap="round" opacity="0.72"/>
<path d="M98.3,127.3 L96.6,125.7 L96.3,126.3 L94.3,125.1" fill="none" stroke="#ee8f5a" stroke-width="0.85" stroke-linejoin="round" stroke-linecap="round" opacity="0.72"/>
<path d="M120.1,126.0 L118.4,125.3 L116.4,125.6 L117.4,125.0" fill="none" stroke="#f2a25a" stroke-width="0.85" stroke-linejoin="round" stroke-linecap="round" opacity="0.72"/>
<path d="M107.0,119.6 L105.5,119.3 L104.1,118.0 L104.3,117.7" fill="none" stroke="#f7c08a" stroke-width="0.85" stroke-linejoin="round" stroke-linecap="round" opacity="0.72"/>
<path d="M110.6,139.3 L111.6,137.9 L111.0,138.5 L108.9,136.8" fill="none" stroke="#a8d0ee" stroke-width="0.85" stroke-linejoin="round" stroke-linecap="round" opacity="0.72"/>
<path d="M102.4,136.7 L103.9,137.6 L104.2,139.3 L103.9,141.0" fill="none" stroke="#f4b183" stroke-width="0.85" stroke-linejoin="round" stroke-linecap="round" opacity="0.72"/>
<path d="M112.0,115.4 L112.1,115.3 L111.4,114.8 L111.4,115.2" fill="none" stroke="#f7c08a" stroke-width="0.85" stroke-linejoin="round" stroke-linecap="round" opacity="0.72"/>
<path d="M110.6,133.7 L108.5,133.5 L109.0,131.7 L108.0,130.3" fill="none" stroke="#c4dcec" stroke-width="0.85" stroke-linejoin="round" stroke-linecap="round" opacity="0.72"/>
<path d="M103.7,120.7 L102.6,122.4 L102.7,121.9 L101.7,121.5" fill="none" stroke="#ee8f5a" stroke-width="0.85" stroke-linejoin="round" stroke-linecap="round" opacity="0.72"/>
<path d="M106.6,115.6 L107.6,117.0 L108.5,116.8 L106.7,116.3" fill="none" stroke="#f08a78" stroke-width="0.85" stroke-linejoin="round" stroke-linecap="round" opacity="0.72"/>
<path d="M103.1,117.3 L103.7,117.9 L104.3,118.7 L103.3,117.0" fill="none" stroke="#f5c26b" stroke-width="0.85" stroke-linejoin="round" stroke-linecap="round" opacity="0.72"/>
<path d="M108.1,128.8 L109.4,127.8 L108.7,126.3 L110.0,127.2" fill="none" stroke="#f7c08a" stroke-width="0.85" stroke-linejoin="round" stroke-linecap="round" opacity="0.72"/>
<path d="M101.9,127.6 L99.9,126.2 L99.2,125.9 L101.2,125.1" fill="none" stroke="#7fb4e0" stroke-width="0.85" stroke-linejoin="round" stroke-linecap="round" opacity="0.72"/>
<path d="M112.2,131.2 L111.6,129.6 L112.4,128.6 L110.3,127.3" fill="none" stroke="#f6d36b" stroke-width="0.85" stroke-linejoin="round" stroke-linecap="round" opacity="0.72"/>
<path d="M117.2,129.8 L116.6,128.4 L118.4,128.1 L117.9,128.5" fill="none" stroke="#9ec6e0" stroke-width="0.85" stroke-linejoin="round" stroke-linecap="round" opacity="0.72"/>
<path d="M109.4,128.8 L110.7,129.7 L109.0,129.1 L107.3,127.3" fill="none" stroke="#7fb4e0" stroke-width="0.85" stroke-linejoin="round" stroke-linecap="round" opacity="0.72"/>
<path d="M108.3,121.2 L107.4,120.1 L109.0,121.6 L107.8,122.0" fill="none" stroke="#f08a78" stroke-width="0.85" stroke-linejoin="round" stroke-linecap="round" opacity="0.72"/>
<path d="M103.2,123.7 L103.2,125.0 L101.4,124.8 L100.3,124.6" fill="none" stroke="#a8d0ee" stroke-width="0.85" stroke-linejoin="round" stroke-linecap="round" opacity="0.72"/>
<path d="M121.4,126.5 L119.8,128.3 L118.6,129.7 L117.5,130.0" fill="none" stroke="#5b92cc" stroke-width="0.85" stroke-linejoin="round" stroke-linecap="round" opacity="0.72"/>
<path d="M107.8,128.8 L106.7,129.8 L106.6,131.7 L104.7,131.2" fill="none" stroke="#f7c08a" stroke-width="0.85" stroke-linejoin="round" stroke-linecap="round" opacity="0.72"/>
<path d="M110.9,137.2 L111.1,136.7 L112.4,135.2 L111.3,136.2" fill="none" stroke="#ee8f5a" stroke-width="0.85" stroke-linejoin="round" stroke-linecap="round" opacity="0.72"/>
<path d="M97.9,131.7 L99.5,132.5 L97.6,134.0 L96.2,132.1" fill="none" stroke="#7fb4e0" stroke-width="0.85" stroke-linejoin="round" stroke-linecap="round" opacity="0.72"/>
<path d="M102.4,131.7 L102.4,133.5 L101.0,133.6 L101.0,133.1" fill="none" stroke="#f4b183" stroke-width="0.85" stroke-linejoin="round" stroke-linecap="round" opacity="0.72"/>
<path d="M113.2,122.4 L114.7,122.8 L115.0,122.0 L116.1,122.4" fill="none" stroke="#f4b183" stroke-width="0.85" stroke-linejoin="round" stroke-linecap="round" opacity="0.72"/>
<path d="M107.1,115.3 L105.5,116.0 L103.8,114.7 L101.7,116.2" fill="none" stroke="#f4b183" stroke-width="0.85" stroke-linejoin="round" stroke-linecap="round" opacity="0.72"/>
<path d="M109.6,127.8 L110.4,127.6 L109.9,126.6 L111.2,126.4" fill="none" stroke="#f08a78" stroke-width="0.85" stroke-linejoin="round" stroke-linecap="round" opacity="0.72"/>
<path d="M113.3,120.1 L112.7,121.5 L111.9,121.2 L109.9,121.3" fill="none" stroke="#e8463c" stroke-width="0.85" stroke-linejoin="round" stroke-linecap="round" opacity="0.72"/>
<path d="M112.4,117.9 L113.2,117.0 L113.9,115.6 L114.4,114.4" fill="none" stroke="#5b92cc" stroke-width="0.85" stroke-linejoin="round" stroke-linecap="round" opacity="0.72"/>
<path d="M102.5,126.6 L103.5,127.4 L101.8,126.6 L100.9,125.5" fill="none" stroke="#f6d36b" stroke-width="0.85" stroke-linejoin="round" stroke-linecap="round" opacity="0.72"/>
<path d="M120.4,125.1 L121.2,126.0 L120.4,124.6 L122.0,124.6" fill="none" stroke="#f08a78" stroke-width="0.85" stroke-linejoin="round" stroke-linecap="round" opacity="0.72"/>
<path d="M104.7,125.4 L102.8,125.9 L103.2,126.6 L103.3,125.2" fill="none" stroke="#8fbfe6" stroke-width="0.85" stroke-linejoin="round" stroke-linecap="round" opacity="0.72"/>
<path d="M110.6,123.8 L108.5,125.3 L108.3,126.5 L109.1,126.6" fill="none" stroke="#e8463c" stroke-width="0.85" stroke-linejoin="round" stroke-linecap="round" opacity="0.72"/>
<path d="M113.2,122.5 L113.6,121.1 L113.1,122.7 L110.9,123.5" fill="none" stroke="#f4b183" stroke-width="0.85" stroke-linejoin="round" stroke-linecap="round" opacity="0.72"/>
<path d="M119.4,130.4 L121.3,131.9 L122.9,133.8 L122.7,134.9" fill="none" stroke="#a8d0ee" stroke-width="0.85" stroke-linejoin="round" stroke-linecap="round" opacity="0.72"/>
<path d="M107.2,139.3 L106.0,137.7 L107.8,137.9 L108.3,139.3" fill="none" stroke="#f7c08a" stroke-width="0.85" stroke-linejoin="round" stroke-linecap="round" opacity="0.72"/>
<path d="M116.0,135.5 L117.3,136.8 L119.3,135.7 L118.3,137.4" fill="none" stroke="#9ec6e0" stroke-width="0.85" stroke-linejoin="round" stroke-linecap="round" opacity="0.72"/>
<path d="M104.9,126.7 L103.7,125.6 L105.7,125.1 L105.8,125.1" fill="none" stroke="#8fbfe6" stroke-width="0.85" stroke-linejoin="round" stroke-linecap="round" opacity="0.72"/>
<path d="M120.2,128.9 L119.8,127.6 L119.7,129.1 L121.7,127.8" fill="none" stroke="#f4b183" stroke-width="0.85" stroke-linejoin="round" stroke-linecap="round" opacity="0.72"/>
<path d="M110.2,118.6 L109.0,120.3 L109.6,119.3 L109.9,120.8" fill="none" stroke="#c4dcec" stroke-width="0.85" stroke-linejoin="round" stroke-linecap="round" opacity="0.72"/>
<path d="M108.9,134.6 L108.3,134.9 L107.1,134.7 L104.9,135.8" fill="none" stroke="#a8d0ee" stroke-width="0.85" stroke-linejoin="round" stroke-linecap="round" opacity="0.72"/>
<path d="M109.2,138.8 L109.5,140.4 L110.4,139.1 L111.1,137.6" fill="none" stroke="#c4dcec" stroke-width="0.85" stroke-linejoin="round" stroke-linecap="round" opacity="0.72"/>
<path d="M51.599999999999994,138.6 L54.0,138.6 M52.8,139 L53.0,142.6 L54.8,145.2 L54.4,147.2 L56.199999999999996,149.2" fill="none" stroke="#3a3a3a" stroke-width="0.8"/>
<circle cx="51.4" cy="138.5" r="0.8" fill="#333"/><circle cx="54.199999999999996" cy="138.5" r="0.8" fill="#333"/>
<circle cx="51.199999999999996" cy="141.8" r="0.95" fill="#e02020"/><circle cx="55.8" cy="141.2" r="0.95" fill="#e02020"/><circle cx="52.9" cy="142.5" r="0.85" fill="#2040d0"/><circle cx="52.199999999999996" cy="144.4" r="0.85" fill="#e02020"/><circle cx="55.8" cy="144.4" r="0.85" fill="#e02020"/>
<circle cx="54.8" cy="145.4" r="0.7" fill="#3a3a3a"/><circle cx="54.4" cy="147.3" r="0.7" fill="#3a3a3a"/>
<polygon points="59.17,152.15 57.70,153.00 56.23,152.15 56.23,150.45 57.70,149.60 59.17,150.45" fill="none" stroke="#3a3a3a" stroke-width="0.55"/>
<circle cx="59.17" cy="152.15" r="0.5" fill="#2a2a2a"/>
<circle cx="57.70" cy="153.00" r="0.5" fill="#2a2a2a"/>
<circle cx="56.23" cy="152.15" r="0.5" fill="#2a2a2a"/>
<circle cx="56.23" cy="150.45" r="0.5" fill="#2a2a2a"/>
<circle cx="57.70" cy="149.60" r="0.5" fill="#2a2a2a"/>
<circle cx="59.17" cy="150.45" r="0.5" fill="#2a2a2a"/>
<polygon points="62.17,152.15 60.70,153.00 59.23,152.15 59.23,150.45 60.70,149.60 62.17,150.45" fill="none" stroke="#3a3a3a" stroke-width="0.55"/>
<circle cx="62.17" cy="152.15" r="0.5" fill="#2a2a2a"/>
<circle cx="60.70" cy="153.00" r="0.5" fill="#2a2a2a"/>
<circle cx="59.23" cy="152.15" r="0.5" fill="#2a2a2a"/>
<circle cx="59.23" cy="150.45" r="0.5" fill="#2a2a2a"/>
<circle cx="60.70" cy="149.60" r="0.5" fill="#2a2a2a"/>
<circle cx="62.17" cy="150.45" r="0.5" fill="#2a2a2a"/>
<polygon points="65.17,152.15 63.70,153.00 62.23,152.15 62.23,150.45 63.70,149.60 65.17,150.45" fill="none" stroke="#3a3a3a" stroke-width="0.55"/>
<circle cx="65.17" cy="152.15" r="0.5" fill="#2a2a2a"/>
<circle cx="63.70" cy="153.00" r="0.5" fill="#2a2a2a"/>
<circle cx="62.23" cy="152.15" r="0.5" fill="#2a2a2a"/>
<circle cx="62.23" cy="150.45" r="0.5" fill="#2a2a2a"/>
<circle cx="63.70" cy="149.60" r="0.5" fill="#2a2a2a"/>
<circle cx="65.17" cy="150.45" r="0.5" fill="#2a2a2a"/>
<polygon points="60.67,154.75 59.20,155.60 57.73,154.75 57.73,153.05 59.20,152.20 60.67,153.05" fill="none" stroke="#3a3a3a" stroke-width="0.55"/>
<circle cx="60.67" cy="154.75" r="0.5" fill="#2a2a2a"/>
<circle cx="59.20" cy="155.60" r="0.5" fill="#2a2a2a"/>
<circle cx="57.73" cy="154.75" r="0.5" fill="#2a2a2a"/>
<circle cx="57.73" cy="153.05" r="0.5" fill="#2a2a2a"/>
<circle cx="59.20" cy="152.20" r="0.5" fill="#2a2a2a"/>
<circle cx="60.67" cy="153.05" r="0.5" fill="#2a2a2a"/>
<polygon points="63.67,154.75 62.20,155.60 60.73,154.75 60.73,153.05 62.20,152.20 63.67,153.05" fill="none" stroke="#3a3a3a" stroke-width="0.55"/>
<circle cx="63.67" cy="154.75" r="0.5" fill="#2a2a2a"/>
<circle cx="62.20" cy="155.60" r="0.5" fill="#2a2a2a"/>
<circle cx="60.73" cy="154.75" r="0.5" fill="#2a2a2a"/>
<circle cx="60.73" cy="153.05" r="0.5" fill="#2a2a2a"/>
<circle cx="62.20" cy="152.20" r="0.5" fill="#2a2a2a"/>
<circle cx="63.67" cy="153.05" r="0.5" fill="#2a2a2a"/>
<polygon points="66.67,154.75 65.20,155.60 63.73,154.75 63.73,153.05 65.20,152.20 66.67,153.05" fill="none" stroke="#3a3a3a" stroke-width="0.55"/>
<circle cx="66.67" cy="154.75" r="0.5" fill="#2a2a2a"/>
<circle cx="65.20" cy="155.60" r="0.5" fill="#2a2a2a"/>
<circle cx="63.73" cy="154.75" r="0.5" fill="#2a2a2a"/>
<circle cx="63.73" cy="153.05" r="0.5" fill="#2a2a2a"/>
<circle cx="65.20" cy="152.20" r="0.5" fill="#2a2a2a"/>
<circle cx="66.67" cy="153.05" r="0.5" fill="#2a2a2a"/>
<path d="M79.7,138.6 L82.10000000000001,138.6 M80.9,139 L81.10000000000001,142.6 L82.9,145.2 L82.5,147.2 L84.30000000000001,149.2" fill="none" stroke="#3a3a3a" stroke-width="0.8"/>
<circle cx="79.5" cy="138.5" r="0.8" fill="#333"/><circle cx="82.30000000000001" cy="138.5" r="0.8" fill="#333"/>
<circle cx="79.30000000000001" cy="141.8" r="0.95" fill="#e02020"/><circle cx="83.9" cy="141.2" r="0.95" fill="#e02020"/><circle cx="81.0" cy="142.5" r="0.85" fill="#2040d0"/><circle cx="80.30000000000001" cy="144.4" r="0.85" fill="#e02020"/><circle cx="83.9" cy="144.4" r="0.85" fill="#e02020"/>
<circle cx="82.9" cy="145.4" r="0.7" fill="#3a3a3a"/><circle cx="82.5" cy="147.3" r="0.7" fill="#3a3a3a"/>
<polygon points="86.17,152.15 84.70,153.00 83.23,152.15 83.23,150.45 84.70,149.60 86.17,150.45" fill="none" stroke="#3a3a3a" stroke-width="0.55"/>
<circle cx="86.17" cy="152.15" r="0.5" fill="#2a2a2a"/>
<circle cx="84.70" cy="153.00" r="0.5" fill="#2a2a2a"/>
<circle cx="83.23" cy="152.15" r="0.5" fill="#2a2a2a"/>
<circle cx="83.23" cy="150.45" r="0.5" fill="#2a2a2a"/>
<circle cx="84.70" cy="149.60" r="0.5" fill="#2a2a2a"/>
<circle cx="86.17" cy="150.45" r="0.5" fill="#2a2a2a"/>
<polygon points="89.17,152.15 87.70,153.00 86.23,152.15 86.23,150.45 87.70,149.60 89.17,150.45" fill="none" stroke="#3a3a3a" stroke-width="0.55"/>
<circle cx="89.17" cy="152.15" r="0.5" fill="#2a2a2a"/>
<circle cx="87.70" cy="153.00" r="0.5" fill="#2a2a2a"/>
<circle cx="86.23" cy="152.15" r="0.5" fill="#2a2a2a"/>
<circle cx="86.23" cy="150.45" r="0.5" fill="#2a2a2a"/>
<circle cx="87.70" cy="149.60" r="0.5" fill="#2a2a2a"/>
<circle cx="89.17" cy="150.45" r="0.5" fill="#2a2a2a"/>
<polygon points="92.17,152.15 90.70,153.00 89.23,152.15 89.23,150.45 90.70,149.60 92.17,150.45" fill="none" stroke="#3a3a3a" stroke-width="0.55"/>
<circle cx="92.17" cy="152.15" r="0.5" fill="#2a2a2a"/>
<circle cx="90.70" cy="153.00" r="0.5" fill="#2a2a2a"/>
<circle cx="89.23" cy="152.15" r="0.5" fill="#2a2a2a"/>
<circle cx="89.23" cy="150.45" r="0.5" fill="#2a2a2a"/>
<circle cx="90.70" cy="149.60" r="0.5" fill="#2a2a2a"/>
<circle cx="92.17" cy="150.45" r="0.5" fill="#2a2a2a"/>
<polygon points="87.67,154.75 86.20,155.60 84.73,154.75 84.73,153.05 86.20,152.20 87.67,153.05" fill="none" stroke="#3a3a3a" stroke-width="0.55"/>
<circle cx="87.67" cy="154.75" r="0.5" fill="#2a2a2a"/>
<circle cx="86.20" cy="155.60" r="0.5" fill="#2a2a2a"/>
<circle cx="84.73" cy="154.75" r="0.5" fill="#2a2a2a"/>
<circle cx="84.73" cy="153.05" r="0.5" fill="#2a2a2a"/>
<circle cx="86.20" cy="152.20" r="0.5" fill="#2a2a2a"/>
<circle cx="87.67" cy="153.05" r="0.5" fill="#2a2a2a"/>
<polygon points="90.67,154.75 89.20,155.60 87.73,154.75 87.73,153.05 89.20,152.20 90.67,153.05" fill="none" stroke="#3a3a3a" stroke-width="0.55"/>
<circle cx="90.67" cy="154.75" r="0.5" fill="#2a2a2a"/>
<circle cx="89.20" cy="155.60" r="0.5" fill="#2a2a2a"/>
<circle cx="87.73" cy="154.75" r="0.5" fill="#2a2a2a"/>
<circle cx="87.73" cy="153.05" r="0.5" fill="#2a2a2a"/>
<circle cx="89.20" cy="152.20" r="0.5" fill="#2a2a2a"/>
<circle cx="90.67" cy="153.05" r="0.5" fill="#2a2a2a"/>
<polygon points="93.67,154.75 92.20,155.60 90.73,154.75 90.73,153.05 92.20,152.20 93.67,153.05" fill="none" stroke="#3a3a3a" stroke-width="0.55"/>
<circle cx="93.67" cy="154.75" r="0.5" fill="#2a2a2a"/>
<circle cx="92.20" cy="155.60" r="0.5" fill="#2a2a2a"/>
<circle cx="90.73" cy="154.75" r="0.5" fill="#2a2a2a"/>
<circle cx="90.73" cy="153.05" r="0.5" fill="#2a2a2a"/>
<circle cx="92.20" cy="152.20" r="0.5" fill="#2a2a2a"/>
<circle cx="93.67" cy="153.05" r="0.5" fill="#2a2a2a"/>
<path d="M100.6,138.6 L103.0,138.6 M101.8,139 L102.0,142.6 L103.8,145.2 L103.39999999999999,147.2 L105.2,149.2" fill="none" stroke="#3a3a3a" stroke-width="0.8"/>
<circle cx="100.39999999999999" cy="138.5" r="0.8" fill="#333"/><circle cx="103.2" cy="138.5" r="0.8" fill="#333"/>
<circle cx="100.2" cy="141.8" r="0.95" fill="#e02020"/><circle cx="104.8" cy="141.2" r="0.95" fill="#e02020"/><circle cx="101.89999999999999" cy="142.5" r="0.85" fill="#2040d0"/><circle cx="101.2" cy="144.4" r="0.85" fill="#e02020"/><circle cx="104.8" cy="144.4" r="0.85" fill="#e02020"/>
<circle cx="103.8" cy="145.4" r="0.7" fill="#3a3a3a"/><circle cx="103.39999999999999" cy="147.3" r="0.7" fill="#3a3a3a"/>
<polygon points="107.27,152.15 105.80,153.00 104.33,152.15 104.33,150.45 105.80,149.60 107.27,150.45" fill="none" stroke="#3a3a3a" stroke-width="0.55"/>
<circle cx="107.27" cy="152.15" r="0.5" fill="#2a2a2a"/>
<circle cx="105.80" cy="153.00" r="0.5" fill="#2a2a2a"/>
<circle cx="104.33" cy="152.15" r="0.5" fill="#2a2a2a"/>
<circle cx="104.33" cy="150.45" r="0.5" fill="#2a2a2a"/>
<circle cx="105.80" cy="149.60" r="0.5" fill="#2a2a2a"/>
<circle cx="107.27" cy="150.45" r="0.5" fill="#2a2a2a"/>
<polygon points="110.27,152.15 108.80,153.00 107.33,152.15 107.33,150.45 108.80,149.60 110.27,150.45" fill="none" stroke="#3a3a3a" stroke-width="0.55"/>
<circle cx="110.27" cy="152.15" r="0.5" fill="#2a2a2a"/>
<circle cx="108.80" cy="153.00" r="0.5" fill="#2a2a2a"/>
<circle cx="107.33" cy="152.15" r="0.5" fill="#2a2a2a"/>
<circle cx="107.33" cy="150.45" r="0.5" fill="#2a2a2a"/>
<circle cx="108.80" cy="149.60" r="0.5" fill="#2a2a2a"/>
<circle cx="110.27" cy="150.45" r="0.5" fill="#2a2a2a"/>
<polygon points="113.27,152.15 111.80,153.00 110.33,152.15 110.33,150.45 111.80,149.60 113.27,150.45" fill="none" stroke="#3a3a3a" stroke-width="0.55"/>
<circle cx="113.27" cy="152.15" r="0.5" fill="#2a2a2a"/>
<circle cx="111.80" cy="153.00" r="0.5" fill="#2a2a2a"/>
<circle cx="110.33" cy="152.15" r="0.5" fill="#2a2a2a"/>
<circle cx="110.33" cy="150.45" r="0.5" fill="#2a2a2a"/>
<circle cx="111.80" cy="149.60" r="0.5" fill="#2a2a2a"/>
<circle cx="113.27" cy="150.45" r="0.5" fill="#2a2a2a"/>
<polygon points="108.77,154.75 107.30,155.60 105.83,154.75 105.83,153.05 107.30,152.20 108.77,153.05" fill="none" stroke="#3a3a3a" stroke-width="0.55"/>
<circle cx="108.77" cy="154.75" r="0.5" fill="#2a2a2a"/>
<circle cx="107.30" cy="155.60" r="0.5" fill="#2a2a2a"/>
<circle cx="105.83" cy="154.75" r="0.5" fill="#2a2a2a"/>
<circle cx="105.83" cy="153.05" r="0.5" fill="#2a2a2a"/>
<circle cx="107.30" cy="152.20" r="0.5" fill="#2a2a2a"/>
<circle cx="108.77" cy="153.05" r="0.5" fill="#2a2a2a"/>
<polygon points="111.77,154.75 110.30,155.60 108.83,154.75 108.83,153.05 110.30,152.20 111.77,153.05" fill="none" stroke="#3a3a3a" stroke-width="0.55"/>
<circle cx="111.77" cy="154.75" r="0.5" fill="#2a2a2a"/>
<circle cx="110.30" cy="155.60" r="0.5" fill="#2a2a2a"/>
<circle cx="108.83" cy="154.75" r="0.5" fill="#2a2a2a"/>
<circle cx="108.83" cy="153.05" r="0.5" fill="#2a2a2a"/>
<circle cx="110.30" cy="152.20" r="0.5" fill="#2a2a2a"/>
<circle cx="111.77" cy="153.05" r="0.5" fill="#2a2a2a"/>
<polygon points="114.77,154.75 113.30,155.60 111.83,154.75 111.83,153.05 113.30,152.20 114.77,153.05" fill="none" stroke="#3a3a3a" stroke-width="0.55"/>
<circle cx="114.77" cy="154.75" r="0.5" fill="#2a2a2a"/>
<circle cx="113.30" cy="155.60" r="0.5" fill="#2a2a2a"/>
<circle cx="111.83" cy="154.75" r="0.5" fill="#2a2a2a"/>
<circle cx="111.83" cy="153.05" r="0.5" fill="#2a2a2a"/>
<circle cx="113.30" cy="152.20" r="0.5" fill="#2a2a2a"/>
<circle cx="114.77" cy="153.05" r="0.5" fill="#2a2a2a"/>
<text x="5.4" y="117.2" font-family="'Liberation Sans', Arial, sans-serif" font-size="6.5" font-weight="bold" fill="#000" text-anchor="start" textLength="26.3" lengthAdjust="spacing" stroke="#000" stroke-width="0.3">Glucose</text>
<text x="5.4" y="124.5" font-family="'Liberation Sans', Arial, sans-serif" font-size="6.5" font-weight="bold" fill="#000" text-anchor="start" textLength="25.6" lengthAdjust="spacing" stroke="#000" stroke-width="0.3">oxidase</text>
<text x="100" y="56.7" font-family="'Liberation Sans', Arial, sans-serif" font-size="6.5" font-weight="bold" fill="#000" text-anchor="start" textLength="75.5" lengthAdjust="spacing" stroke="#000" stroke-width="0.3">Carbon nanotubes fiber</text>
<text x="177.5" y="26.0" font-family="'Liberation Sans', Arial, sans-serif" font-size="6.5" font-weight="bold" fill="#000" text-anchor="start" textLength="53.5" lengthAdjust="spacing" stroke="#000" stroke-width="0.3">Electrical device</text>
<polygon points="193,58.2 232.3,74.3 279.6,38 279.6,44.4 232.3,80.8 193,64.6" fill="#c2c2c2"/>
<polygon points="193,58.2 232.3,74.3 279.6,38 279.6,41.4 232.3,77.8 193,61.6" fill="#d28a5c"/>
<polygon points="193,58.2 245.4,29 279.6,38 232.3,74.3" fill="#e29870"/>
<path d="M184,55 L251.4,16.2 L251.4,36 M184,57.6 L220.1,38.4 L220.1,54.5 M184,55 L184,88.2 M184,85.5 L263.7,85.5 L263.7,57.5" fill="none" stroke="#555" stroke-width="0.6"/>
<path d="M227.4,27.2 L227.4,32.6 M253.2,82.8 L253.2,88.2 M255.0,83.8 L255.0,87.2" stroke="#555" stroke-width="0.65"/>
<path d="M180.5,88.4 L187.5,88.4 M181.8,89.9 L186.2,89.9 M183,91.4 L185,91.4" stroke="#555" stroke-width="0.55"/>
<path d="M194,80.4 L222,60.5 M225.2,52 C228,48 232,43.5 238,42.3 C242,41.5 245,40.5 248.5,38.5" fill="none" stroke="#0e0e0e" stroke-width="1.3" stroke-linecap="round"/>
<path d="M257.4,33.8 C257.6,30.6 263.6,30.2 264.4,33.4" fill="none" stroke="#0e0e0e" stroke-width="1.1"/>
<ellipse cx="224.6" cy="57.8" rx="8.6" ry="5.1" fill="#e2e2e2" stroke="#b4b4b4" stroke-width="0.4"/>
<ellipse cx="254" cy="37.4" rx="6.9" ry="3.5" fill="#e2e2e2" stroke="#b4b4b4" stroke-width="0.4"/>
<text x="224.8" y="59.3" font-family="'Liberation Sans', Arial, sans-serif" font-size="3.9" font-weight="normal" fill="#222" text-anchor="middle" >Source</text>
<text x="254.4" y="38.8" font-family="'Liberation Sans', Arial, sans-serif" font-size="3.8" font-weight="normal" fill="#222" text-anchor="middle" >Drain</text>
<text x="265.4" y="60.4" font-family="'Liberation Sans', Arial, sans-serif" font-size="3.8" font-weight="normal" fill="#222" text-anchor="start" >Gate</text>
<text x="178" y="105.0" font-family="'Liberation Sans', Arial, sans-serif" font-size="6.5" font-weight="bold" fill="#000" text-anchor="start" textLength="50.3" lengthAdjust="spacing" stroke="#000" stroke-width="0.3">Glucose sensor</text>
<polygon points="174,135.8 259.5,185 289,148 289,151.0 259.5,188.0 174,138.6" fill="#b5896f"/>
<polygon points="174,135.8 210.5,109.8 289,148 259.5,185" fill="#ea9458"/>
<path d="M188.3,136.9 C184.8,139.4 180.7,143.8 179.2,149.8" fill="none" stroke="#0e0e0e" stroke-width="1.0" stroke-linecap="round"/>
<path d="M193.3,131.9 C195.8,129.4 201.9,128.0 204.9,126.0" fill="none" stroke="#0e0e0e" stroke-width="1.0" stroke-linecap="round"/>
<path d="M207.9,123.0 C209.9,121.0 209.9,120.8 211.9,119.3" fill="none" stroke="#0e0e0e" stroke-width="1.0" stroke-linecap="round"/>
<path d="M216.4,115.3 C217.9,111.8 222.5,110.2 228.5,114.2" fill="none" stroke="#0e0e0e" stroke-width="0.9"/>
<ellipse cx="213.9" cy="117.8" rx="6.0" ry="4.0" transform="rotate(-12 213.9 117.8)" fill="#e2e2e2" stroke="#9a9a9a" stroke-width="0.4"/>
<line x1="211.1" y1="120.6" x2="216.3" y2="114.8" stroke="#fafafa" stroke-width="0.8"/>
<ellipse cx="190.8" cy="134.4" rx="6.0" ry="4.0" transform="rotate(-12 190.8 134.4)" fill="#e2e2e2" stroke="#9a9a9a" stroke-width="0.4"/>
<line x1="188.0" y1="137.20000000000002" x2="193.20000000000002" y2="131.4" stroke="#fafafa" stroke-width="0.8"/>
<path d="M205.9,117.24 C202.78,120.88 200.96,124.26 201.48000000000002,127.12 C202.52,130.24 209.28,130.24 210.32,127.12 C210.84,124.26 209.02,120.88 205.9,117.24 Z" fill="#27a0da"/>
<path d="M207.4,129.2 C209.5,128.0 210.3,125.5 209.5,123.0" fill="none" stroke="#000" stroke-width="1.1" opacity="0.25"/>
<path d="M203.70000000000002,123.2 C203.1,125.8 204.3,127.6 205.9,128.0" fill="none" stroke="#9ee0ff" stroke-width="0.9" opacity="0.8"/>
<path d="M206.9,146.4 C203.4,148.9 195.7,151.4 194.2,157.4" fill="none" stroke="#0e0e0e" stroke-width="1.0" stroke-linecap="round"/>
<path d="M211.9,141.4 C214.4,138.9 215.5,134.8 218.5,132.8" fill="none" stroke="#0e0e0e" stroke-width="1.0" stroke-linecap="round"/>
<path d="M221.5,129.8 C223.5,127.80000000000001 228.3,129.1 230.3,127.6" fill="none" stroke="#0e0e0e" stroke-width="1.0" stroke-linecap="round"/>
<path d="M234.8,123.6 C236.3,120.1 239.5,116.5 245.5,120.5" fill="none" stroke="#0e0e0e" stroke-width="0.9"/>
<ellipse cx="232.3" cy="126.1" rx="6.0" ry="4.0" transform="rotate(-12 232.3 126.1)" fill="#e2e2e2" stroke="#9a9a9a" stroke-width="0.4"/>
<line x1="229.5" y1="128.9" x2="234.70000000000002" y2="123.1" stroke="#fafafa" stroke-width="0.8"/>
<ellipse cx="209.4" cy="143.9" rx="6.0" ry="4.0" transform="rotate(-12 209.4 143.9)" fill="#e2e2e2" stroke="#9a9a9a" stroke-width="0.4"/>
<line x1="206.6" y1="146.70000000000002" x2="211.8" y2="140.9" stroke="#fafafa" stroke-width="0.8"/>
<path d="M219.5,124.04 C216.38,127.68 214.56,131.06 215.08,133.92000000000002 C216.12,137.04000000000002 222.88,137.04000000000002 223.92,133.92000000000002 C224.44,131.06 222.62,127.68 219.5,124.04 Z" fill="#d41818"/>
<path d="M221.0,136.0 C223.1,134.8 223.9,132.3 223.1,129.8" fill="none" stroke="#000" stroke-width="1.1" opacity="0.25"/>
<path d="M217.3,130.0 C216.7,132.60000000000002 217.9,134.4 219.5,134.8" fill="none" stroke="#ff9090" stroke-width="0.9" opacity="0.8"/>
<path d="M225.0,156.3 C221.5,158.8 213.5,162.2 212.0,168.2" fill="none" stroke="#0e0e0e" stroke-width="1.0" stroke-linecap="round"/>
<path d="M230.0,151.3 C232.5,148.8 234.2,147.2 237.2,145.2" fill="none" stroke="#0e0e0e" stroke-width="1.0" stroke-linecap="round"/>
<path d="M240.2,142.2 C242.2,140.2 244.2,136.8 246.2,135.3" fill="none" stroke="#0e0e0e" stroke-width="1.0" stroke-linecap="round"/>
<path d="M250.7,131.3 C252.2,127.80000000000001 256.5,124.19999999999999 262.5,128.2" fill="none" stroke="#0e0e0e" stroke-width="0.9"/>
<ellipse cx="248.2" cy="133.8" rx="6.0" ry="4.0" transform="rotate(-12 248.2 133.8)" fill="#e2e2e2" stroke="#9a9a9a" stroke-width="0.4"/>
<line x1="245.39999999999998" y1="136.60000000000002" x2="250.6" y2="130.8" stroke="#fafafa" stroke-width="0.8"/>
<ellipse cx="227.5" cy="153.8" rx="6.0" ry="4.0" transform="rotate(-12 227.5 153.8)" fill="#e2e2e2" stroke="#9a9a9a" stroke-width="0.4"/>
<line x1="224.7" y1="156.60000000000002" x2="229.9" y2="150.8" stroke="#fafafa" stroke-width="0.8"/>
<path d="M238.2,136.44 C235.07999999999998,140.07999999999998 233.26,143.45999999999998 233.78,146.32 C234.82,149.44 241.57999999999998,149.44 242.61999999999998,146.32 C243.14,143.45999999999998 241.32,140.07999999999998 238.2,136.44 Z" fill="#7a2ea6"/>
<path d="M239.7,148.39999999999998 C241.79999999999998,147.2 242.6,144.7 241.79999999999998,142.2" fill="none" stroke="#000" stroke-width="1.1" opacity="0.25"/>
<path d="M236.0,142.39999999999998 C235.39999999999998,145.0 236.6,146.79999999999998 238.2,147.2" fill="none" stroke="#d0a0f0" stroke-width="0.9" opacity="0.8"/>
<path d="M246.4,168.3 C242.9,170.8 241.5,178.0 240.0,184.0" fill="none" stroke="#0e0e0e" stroke-width="1.0" stroke-linecap="round"/>
<path d="M251.4,163.3 C253.9,160.8 253.3,154.4 256.3,152.4" fill="none" stroke="#0e0e0e" stroke-width="1.0" stroke-linecap="round"/>
<path d="M259.3,149.4 C261.3,147.4 264.5,146.2 266.5,144.7" fill="none" stroke="#0e0e0e" stroke-width="1.0" stroke-linecap="round"/>
<path d="M271.0,140.7 C272.5,137.2 273.5,132.5 279.5,136.5" fill="none" stroke="#0e0e0e" stroke-width="0.9"/>
<ellipse cx="268.5" cy="143.2" rx="6.0" ry="4.0" transform="rotate(-12 268.5 143.2)" fill="#e2e2e2" stroke="#9a9a9a" stroke-width="0.4"/>
<line x1="265.7" y1="146.0" x2="270.9" y2="140.2" stroke="#fafafa" stroke-width="0.8"/>
<ellipse cx="248.9" cy="165.8" rx="6.0" ry="4.0" transform="rotate(-12 248.9 165.8)" fill="#e2e2e2" stroke="#9a9a9a" stroke-width="0.4"/>
<line x1="246.1" y1="168.60000000000002" x2="251.3" y2="162.8" stroke="#fafafa" stroke-width="0.8"/>
<path d="M257.3,143.64000000000001 C254.18,147.28 252.36,150.66 252.88000000000002,153.52 C253.92000000000002,156.64000000000001 260.68,156.64000000000001 261.72,153.52 C262.24,150.66 260.42,147.28 257.3,143.64000000000001 Z" fill="#d41818"/>
<path d="M258.8,155.6 C260.90000000000003,154.4 261.7,151.9 260.90000000000003,149.4" fill="none" stroke="#000" stroke-width="1.1" opacity="0.25"/>
<path d="M255.10000000000002,149.6 C254.5,152.20000000000002 255.70000000000002,154.0 257.3,154.4" fill="none" stroke="#ff9090" stroke-width="0.9" opacity="0.8"/>
<text x="220.2" y="111.4" font-family="'Liberation Sans', Arial, sans-serif" font-size="3.5" font-weight="normal" fill="#222" text-anchor="start" >sc-SWNT</text>
<text x="236.0" y="117.4" font-family="'Liberation Sans', Arial, sans-serif" font-size="3.5" font-weight="normal" fill="#222" text-anchor="start" >sc-SWNT</text>
<text x="256.5" y="125.6" font-family="'Liberation Sans', Arial, sans-serif" font-size="3.5" font-weight="normal" fill="#222" text-anchor="start" >sc-SWNT</text>
<text x="271.6" y="135.0" font-family="'Liberation Sans', Arial, sans-serif" font-size="3.5" font-weight="normal" fill="#222" text-anchor="start" >m-SWNT</text>
<text x="185.6" y="128.4" font-family="'Liberation Sans', Arial, sans-serif" font-size="3.6" font-weight="normal" fill="#222" text-anchor="start" >DI water</text>
<text x="200.6" y="134.5" font-family="'Liberation Sans', Arial, sans-serif" font-size="3.6" font-weight="normal" fill="#222" text-anchor="start" >Glucose</text>
<text x="224.8" y="145.6" font-family="'Liberation Sans', Arial, sans-serif" font-size="3.6" font-weight="normal" fill="#222" text-anchor="start" >NaCl</text>
<text x="239.4" y="157.3" font-family="'Liberation Sans', Arial, sans-serif" font-size="3.6" font-weight="normal" fill="#222" text-anchor="start" >Glucose</text>
<text x="250" y="172.9" font-family="'Liberation Sans', Arial, sans-serif" font-size="3.6" font-weight="normal" fill="#fff" text-anchor="start" >Electrode</text>
<text x="270.9" y="150.0" font-family="'Liberation Sans', Arial, sans-serif" font-size="3.6" font-weight="normal" fill="#fff" text-anchor="start" >Electrode</text>
<text x="287.4" y="16.4" font-family="'Liberation Sans', Arial, sans-serif" font-size="11.6" font-weight="normal" fill="#000" text-anchor="start" >(b)</text>
<text x="318.1" y="11.2" font-family="'Liberation Serif', 'Times New Roman', serif" font-size="7.2" font-weight="bold" fill="#111" text-anchor="start"  stroke="#111" stroke-width="0.16">A</text>
<line x1="335.30" y1="22.30" x2="335.30" y2="77.00" stroke="#222" stroke-width="1.0" />
<line x1="334.80" y1="76.40" x2="415.50" y2="76.40" stroke="#222" stroke-width="1.0" />
<line x1="332.90" y1="76.40" x2="335.30" y2="76.40" stroke="#222" stroke-width="0.9" />
<text x="332.7" y="79.10000000000001" font-family="'Liberation Serif', 'Times New Roman', serif" font-size="7.8" font-weight="normal" fill="#333" text-anchor="end" textLength="4.2" lengthAdjust="spacingAndGlyphs"  stroke="#333" stroke-width="0.16">0</text>
<line x1="332.90" y1="58.47" x2="335.30" y2="58.47" stroke="#222" stroke-width="0.9" />
<text x="332.7" y="61.165000000000006" font-family="'Liberation Serif', 'Times New Roman', serif" font-size="7.8" font-weight="normal" fill="#333" text-anchor="end" textLength="8.4" lengthAdjust="spacingAndGlyphs"  stroke="#333" stroke-width="0.16">50</text>
<line x1="332.90" y1="40.53" x2="335.30" y2="40.53" stroke="#222" stroke-width="0.9" />
<text x="332.7" y="43.230000000000004" font-family="'Liberation Serif', 'Times New Roman', serif" font-size="7.8" font-weight="normal" fill="#333" text-anchor="end" textLength="12.600000000000001" lengthAdjust="spacingAndGlyphs"  stroke="#333" stroke-width="0.16">100</text>
<line x1="332.90" y1="22.60" x2="335.30" y2="22.60" stroke="#222" stroke-width="0.9" />
<text x="332.7" y="25.295000000000005" font-family="'Liberation Serif', 'Times New Roman', serif" font-size="7.8" font-weight="normal" fill="#333" text-anchor="end" textLength="12.600000000000001" lengthAdjust="spacingAndGlyphs"  stroke="#333" stroke-width="0.16">150</text>
<line x1="334.00" y1="67.43" x2="335.30" y2="67.43" stroke="#222" stroke-width="0.7" />
<line x1="334.00" y1="49.50" x2="335.30" y2="49.50" stroke="#222" stroke-width="0.7" />
<line x1="334.00" y1="31.56" x2="335.30" y2="31.56" stroke="#222" stroke-width="0.7" />
<line x1="335.30" y1="76.40" x2="335.30" y2="78.60" stroke="#222" stroke-width="0.9" />
<text x="335.3" y="86.60000000000001" font-family="'Liberation Serif', 'Times New Roman', serif" font-size="7.8" font-weight="normal" fill="#333" text-anchor="middle" textLength="4.2" lengthAdjust="spacingAndGlyphs"  stroke="#333" stroke-width="0.16">0</text>
<line x1="353.53" y1="76.40" x2="353.53" y2="78.60" stroke="#222" stroke-width="0.9" />
<text x="353.52500000000003" y="86.60000000000001" font-family="'Liberation Serif', 'Times New Roman', serif" font-size="7.8" font-weight="normal" fill="#333" text-anchor="middle" textLength="8.4" lengthAdjust="spacingAndGlyphs"  stroke="#333" stroke-width="0.16">25</text>
<line x1="371.75" y1="76.40" x2="371.75" y2="78.60" stroke="#222" stroke-width="0.9" />
<text x="371.75" y="86.60000000000001" font-family="'Liberation Serif', 'Times New Roman', serif" font-size="7.8" font-weight="normal" fill="#333" text-anchor="middle" textLength="8.4" lengthAdjust="spacingAndGlyphs"  stroke="#333" stroke-width="0.16">50</text>
<line x1="389.98" y1="76.40" x2="389.98" y2="78.60" stroke="#222" stroke-width="0.9" />
<text x="389.975" y="86.60000000000001" font-family="'Liberation Serif', 'Times New Roman', serif" font-size="7.8" font-weight="normal" fill="#333" text-anchor="middle" textLength="8.4" lengthAdjust="spacingAndGlyphs"  stroke="#333" stroke-width="0.16">75</text>
<line x1="408.20" y1="76.40" x2="408.20" y2="78.60" stroke="#222" stroke-width="0.9" />
<text x="408.2" y="86.60000000000001" font-family="'Liberation Serif', 'Times New Roman', serif" font-size="7.8" font-weight="normal" fill="#333" text-anchor="middle" textLength="12.600000000000001" lengthAdjust="spacingAndGlyphs"  stroke="#333" stroke-width="0.16">100</text>
<line x1="344.41" y1="76.40" x2="344.41" y2="77.60" stroke="#222" stroke-width="0.7" />
<line x1="362.64" y1="76.40" x2="362.64" y2="77.60" stroke="#222" stroke-width="0.7" />
<line x1="380.86" y1="76.40" x2="380.86" y2="77.60" stroke="#222" stroke-width="0.7" />
<line x1="399.09" y1="76.40" x2="399.09" y2="77.60" stroke="#222" stroke-width="0.7" />
<text x="338.2" y="96.5" font-family="'Liberation Serif', 'Times New Roman', serif" font-size="8.6" font-weight="normal" fill="#333" text-anchor="start" textLength="73.6" lengthAdjust="spacingAndGlyphs"  stroke="#333" stroke-width="0.16">Scan Frequency (Hz)</text>
<text transform="translate(315.90000000000003,47.2) rotate(-90)" font-family="'Liberation Serif', 'Times New Roman', serif" font-size="8.5" fill="#333" stroke="#333" stroke-width="0.16" text-anchor="middle">Normalized i<tspan font-size="5.2" dy="1.8">p,a</tspan><tspan dy="-1.8"> (%)</tspan></text>
<path d="M341.19,39.43 L343.99,39.43 L342.59,41.83 Z" fill="#111"/>
<path d="M344.84,52.52 L347.63,52.52 L346.24,54.92 Z" fill="#111"/>
<path d="M355.87,55.42 L358.47,55.42 M357.17,55.42 L357.17,56.85 M355.87,56.85 L358.47,56.85" stroke="#111" stroke-width="0.9"/>
<path d="M355.77,55.03 L358.57,55.03 L357.17,57.43 Z" fill="#111"/>
<path d="M363.16,56.85 L365.76,56.85 M364.46,56.85 L364.46,60.08 M363.16,60.08 L365.76,60.08" stroke="#111" stroke-width="0.9"/>
<path d="M363.06,57.37 L365.86,57.37 L364.46,59.77 Z" fill="#111"/>
<path d="M370.45,57.68 L373.05,57.68 M371.75,57.68 L371.75,60.55 M370.45,60.55 L373.05,60.55" stroke="#111" stroke-width="0.9"/>
<path d="M370.35,58.01 L373.15,58.01 L371.75,60.41 Z" fill="#111"/>
<path d="M377.74,60.62 L380.34,60.62 M379.04,60.62 L379.04,62.77 M377.74,62.77 L380.34,62.77" stroke="#111" stroke-width="0.9"/>
<path d="M377.64,60.59 L380.44,60.59 L379.04,62.99 Z" fill="#111"/>
<path d="M385.03,62.41 L387.63,62.41 M386.33,62.41 L386.33,66.00 M385.03,66.00 L387.63,66.00" stroke="#111" stroke-width="0.9"/>
<path d="M384.93,63.10 L387.73,63.10 L386.33,65.50 Z" fill="#111"/>
<path d="M392.32,63.13 L394.92,63.13 M393.62,63.13 L393.62,65.28 M392.32,65.28 L394.92,65.28" stroke="#111" stroke-width="0.9"/>
<path d="M392.22,63.10 L395.02,63.10 L393.62,65.50 Z" fill="#111"/>
<path d="M399.61,64.49 L402.21,64.49 M400.91,64.49 L400.91,67.72 M399.61,67.72 L402.21,67.72" stroke="#111" stroke-width="0.9"/>
<path d="M399.51,65.01 L402.31,65.01 L400.91,67.41 Z" fill="#111"/>
<path d="M406.90,65.39 L409.50,65.39 M408.20,65.39 L408.20,68.62 M406.90,68.62 L409.50,68.62" stroke="#111" stroke-width="0.9"/>
<path d="M406.80,65.90 L409.60,65.90 L408.20,68.30 Z" fill="#111"/>
<path d="M414.19,66.68 L416.79,66.68 M415.49,66.68 L415.49,69.91 M414.19,69.91 L416.79,69.91" stroke="#111" stroke-width="0.9"/>
<path d="M414.09,67.19 L416.89,67.19 L415.49,69.59 Z" fill="#111"/>
<circle cx="342.59" cy="40.53" r="1.15" fill="none" stroke="#ee2a2a" stroke-width="0.8"/>
<circle cx="349.88" cy="40.89" r="1.15" fill="none" stroke="#ee2a2a" stroke-width="0.8"/>
<path d="M355.87,40.89 L358.47,40.89 M357.17,40.89 L357.17,42.32 M355.87,42.32 L358.47,42.32" stroke="#ee2a2a" stroke-width="0.9"/>
<circle cx="357.17" cy="41.61" r="1.15" fill="none" stroke="#ee2a2a" stroke-width="0.8"/>
<circle cx="364.46" cy="41.61" r="1.15" fill="none" stroke="#ee2a2a" stroke-width="0.8"/>
<path d="M370.45,36.94 L373.05,36.94 M371.75,36.94 L371.75,41.96 M370.45,41.96 L373.05,41.96" stroke="#ee2a2a" stroke-width="0.9"/>
<circle cx="371.75" cy="39.45" r="1.15" fill="none" stroke="#ee2a2a" stroke-width="0.8"/>
<path d="M377.74,39.81 L380.34,39.81 M379.04,39.81 L379.04,41.96 M377.74,41.96 L380.34,41.96" stroke="#ee2a2a" stroke-width="0.9"/>
<circle cx="379.04" cy="40.89" r="1.15" fill="none" stroke="#ee2a2a" stroke-width="0.8"/>
<path d="M385.03,40.17 L387.63,40.17 M386.33,40.17 L386.33,45.91 M385.03,45.91 L387.63,45.91" stroke="#ee2a2a" stroke-width="0.9"/>
<circle cx="386.33" cy="43.04" r="1.15" fill="none" stroke="#ee2a2a" stroke-width="0.8"/>
<path d="M392.32,40.53 L394.92,40.53 M393.62,40.53 L393.62,42.68 M392.32,42.68 L394.92,42.68" stroke="#ee2a2a" stroke-width="0.9"/>
<circle cx="393.62" cy="41.61" r="1.15" fill="none" stroke="#ee2a2a" stroke-width="0.8"/>
<path d="M399.61,39.45 L402.21,39.45 M400.91,39.45 L400.91,43.76 M399.61,43.76 L402.21,43.76" stroke="#ee2a2a" stroke-width="0.9"/>
<circle cx="400.91" cy="41.61" r="1.15" fill="none" stroke="#ee2a2a" stroke-width="0.8"/>
<path d="M406.90,40.53 L409.50,40.53 M408.20,40.53 L408.20,44.12 M406.90,44.12 L409.50,44.12" stroke="#ee2a2a" stroke-width="0.9"/>
<circle cx="408.20" cy="42.32" r="1.15" fill="none" stroke="#ee2a2a" stroke-width="0.8"/>
<path d="M414.19,38.02 L416.79,38.02 M415.49,38.02 L415.49,45.19 M414.19,45.19 L416.79,45.19" stroke="#ee2a2a" stroke-width="0.9"/>
<circle cx="415.49" cy="41.61" r="1.15" fill="none" stroke="#ee2a2a" stroke-width="0.8"/>
<text x="438.1" y="11.2" font-family="'Liberation Serif', 'Times New Roman', serif" font-size="7.2" font-weight="bold" fill="#111" text-anchor="start"  stroke="#111" stroke-width="0.16">B</text>
<line x1="455.30" y1="22.30" x2="455.30" y2="77.00" stroke="#222" stroke-width="1.0" />
<line x1="454.80" y1="76.40" x2="535.50" y2="76.40" stroke="#222" stroke-width="1.0" />
<line x1="452.90" y1="76.40" x2="455.30" y2="76.40" stroke="#222" stroke-width="0.9" />
<text x="452.7" y="79.10000000000001" font-family="'Liberation Serif', 'Times New Roman', serif" font-size="7.8" font-weight="normal" fill="#333" text-anchor="end" textLength="4.2" lengthAdjust="spacingAndGlyphs"  stroke="#333" stroke-width="0.16">0</text>
<line x1="452.90" y1="58.47" x2="455.30" y2="58.47" stroke="#222" stroke-width="0.9" />
<text x="452.7" y="61.165000000000006" font-family="'Liberation Serif', 'Times New Roman', serif" font-size="7.8" font-weight="normal" fill="#333" text-anchor="end" textLength="8.4" lengthAdjust="spacingAndGlyphs"  stroke="#333" stroke-width="0.16">50</text>
<line x1="452.90" y1="40.53" x2="455.30" y2="40.53" stroke="#222" stroke-width="0.9" />
<text x="452.7" y="43.230000000000004" font-family="'Liberation Serif', 'Times New Roman', serif" font-size="7.8" font-weight="normal" fill="#333" text-anchor="end" textLength="12.600000000000001" lengthAdjust="spacingAndGlyphs"  stroke="#333" stroke-width="0.16">100</text>
<line x1="452.90" y1="22.60" x2="455.30" y2="22.60" stroke="#222" stroke-width="0.9" />
<text x="452.7" y="25.295000000000005" font-family="'Liberation Serif', 'Times New Roman', serif" font-size="7.8" font-weight="normal" fill="#333" text-anchor="end" textLength="12.600000000000001" lengthAdjust="spacingAndGlyphs"  stroke="#333" stroke-width="0.16">150</text>
<line x1="454.00" y1="67.43" x2="455.30" y2="67.43" stroke="#222" stroke-width="0.7" />
<line x1="454.00" y1="49.50" x2="455.30" y2="49.50" stroke="#222" stroke-width="0.7" />
<line x1="454.00" y1="31.56" x2="455.30" y2="31.56" stroke="#222" stroke-width="0.7" />
<line x1="455.30" y1="76.40" x2="455.30" y2="78.60" stroke="#222" stroke-width="0.9" />
<text x="455.3" y="86.60000000000001" font-family="'Liberation Serif', 'Times New Roman', serif" font-size="7.8" font-weight="normal" fill="#333" text-anchor="middle" textLength="4.2" lengthAdjust="spacingAndGlyphs"  stroke="#333" stroke-width="0.16">0</text>
<line x1="473.53" y1="76.40" x2="473.53" y2="78.60" stroke="#222" stroke-width="0.9" />
<text x="473.52500000000003" y="86.60000000000001" font-family="'Liberation Serif', 'Times New Roman', serif" font-size="7.8" font-weight="normal" fill="#333" text-anchor="middle" textLength="8.4" lengthAdjust="spacingAndGlyphs"  stroke="#333" stroke-width="0.16">25</text>
<line x1="491.75" y1="76.40" x2="491.75" y2="78.60" stroke="#222" stroke-width="0.9" />
<text x="491.75" y="86.60000000000001" font-family="'Liberation Serif', 'Times New Roman', serif" font-size="7.8" font-weight="normal" fill="#333" text-anchor="middle" textLength="8.4" lengthAdjust="spacingAndGlyphs"  stroke="#333" stroke-width="0.16">50</text>
<line x1="509.98" y1="76.40" x2="509.98" y2="78.60" stroke="#222" stroke-width="0.9" />
<text x="509.975" y="86.60000000000001" font-family="'Liberation Serif', 'Times New Roman', serif" font-size="7.8" font-weight="normal" fill="#333" text-anchor="middle" textLength="8.4" lengthAdjust="spacingAndGlyphs"  stroke="#333" stroke-width="0.16">75</text>
<line x1="528.20" y1="76.40" x2="528.20" y2="78.60" stroke="#222" stroke-width="0.9" />
<text x="528.2" y="86.60000000000001" font-family="'Liberation Serif', 'Times New Roman', serif" font-size="7.8" font-weight="normal" fill="#333" text-anchor="middle" textLength="12.600000000000001" lengthAdjust="spacingAndGlyphs"  stroke="#333" stroke-width="0.16">100</text>
<line x1="464.41" y1="76.40" x2="464.41" y2="77.60" stroke="#222" stroke-width="0.7" />
<line x1="482.64" y1="76.40" x2="482.64" y2="77.60" stroke="#222" stroke-width="0.7" />
<line x1="500.86" y1="76.40" x2="500.86" y2="77.60" stroke="#222" stroke-width="0.7" />
<line x1="519.09" y1="76.40" x2="519.09" y2="77.60" stroke="#222" stroke-width="0.7" />
<text x="458.2" y="96.5" font-family="'Liberation Serif', 'Times New Roman', serif" font-size="8.6" font-weight="normal" fill="#333" text-anchor="start" textLength="73.6" lengthAdjust="spacingAndGlyphs"  stroke="#333" stroke-width="0.16">Scan Frequency (Hz)</text>
<text transform="translate(435.90000000000003,47.2) rotate(-90)" font-family="'Liberation Serif', 'Times New Roman', serif" font-size="8.5" fill="#333" stroke="#333" stroke-width="0.16" text-anchor="middle">Normalized i<tspan font-size="5.2" dy="1.8">p,c</tspan><tspan dy="-1.8"> (%)</tspan></text>
<path d="M461.19,39.43 L463.99,39.43 L462.59,41.83 Z" fill="#111"/>
<path d="M468.58,49.14 L471.18,49.14 M469.88,49.14 L469.88,51.29 M468.58,51.29 L471.18,51.29" stroke="#111" stroke-width="0.9"/>
<path d="M468.48,49.11 L471.28,49.11 L469.88,51.51 Z" fill="#111"/>
<path d="M475.87,51.65 L478.47,51.65 M477.17,51.65 L477.17,53.08 M475.87,53.08 L478.47,53.08" stroke="#111" stroke-width="0.9"/>
<path d="M475.77,51.27 L478.57,51.27 L477.17,53.67 Z" fill="#111"/>
<path d="M483.16,54.16 L485.76,54.16 M484.46,54.16 L484.46,55.60 M483.16,55.60 L485.76,55.60" stroke="#111" stroke-width="0.9"/>
<path d="M483.06,53.78 L485.86,53.78 L484.46,56.18 Z" fill="#111"/>
<path d="M490.45,53.08 L493.05,53.08 M491.75,53.08 L491.75,55.24 M490.45,55.24 L493.05,55.24" stroke="#111" stroke-width="0.9"/>
<path d="M490.35,53.06 L493.15,53.06 L491.75,55.46 Z" fill="#111"/>
<path d="M497.74,54.16 L500.34,54.16 M499.04,54.16 L499.04,58.47 M497.74,58.47 L500.34,58.47" stroke="#111" stroke-width="0.9"/>
<path d="M497.64,55.21 L500.44,55.21 L499.04,57.61 Z" fill="#111"/>
<path d="M505.03,54.52 L507.63,54.52 M506.33,54.52 L506.33,59.54 M505.03,59.54 L507.63,59.54" stroke="#111" stroke-width="0.9"/>
<path d="M504.93,55.93 L507.73,55.93 L506.33,58.33 Z" fill="#111"/>
<path d="M512.32,54.52 L514.92,54.52 M513.62,54.52 L513.62,58.11 M512.32,58.11 L514.92,58.11" stroke="#111" stroke-width="0.9"/>
<path d="M512.22,55.21 L515.02,55.21 L513.62,57.61 Z" fill="#111"/>
<path d="M519.61,55.60 L522.21,55.60 M520.91,55.60 L520.91,59.90 M519.61,59.90 L522.21,59.90" stroke="#111" stroke-width="0.9"/>
<path d="M519.51,56.65 L522.31,56.65 L520.91,59.05 Z" fill="#111"/>
<path d="M526.90,57.03 L529.50,57.03 M528.20,57.03 L528.20,61.33 M526.90,61.33 L529.50,61.33" stroke="#111" stroke-width="0.9"/>
<path d="M526.80,58.08 L529.60,58.08 L528.20,60.48 Z" fill="#111"/>
<path d="M534.19,58.11 L536.79,58.11 M535.49,58.11 L535.49,62.41 M534.19,62.41 L536.79,62.41" stroke="#111" stroke-width="0.9"/>
<path d="M534.09,59.16 L536.89,59.16 L535.49,61.56 Z" fill="#111"/>
<path d="M461.29,39.45 L463.89,39.45 M462.59,39.45 L462.59,40.89 M461.29,40.89 L463.89,40.89" stroke="#ee2a2a" stroke-width="0.9"/>
<circle cx="462.59" cy="40.17" r="1.15" fill="none" stroke="#ee2a2a" stroke-width="0.8"/>
<path d="M468.58,35.87 L471.18,35.87 M469.88,35.87 L469.88,41.61 M468.58,41.61 L471.18,41.61" stroke="#ee2a2a" stroke-width="0.9"/>
<circle cx="469.88" cy="38.74" r="1.15" fill="none" stroke="#ee2a2a" stroke-width="0.8"/>
<circle cx="477.17" cy="40.17" r="1.15" fill="none" stroke="#ee2a2a" stroke-width="0.8"/>
<path d="M483.16,38.38 L485.76,38.38 M484.46,38.38 L484.46,42.68 M483.16,42.68 L485.76,42.68" stroke="#ee2a2a" stroke-width="0.9"/>
<circle cx="484.46" cy="40.53" r="1.15" fill="none" stroke="#ee2a2a" stroke-width="0.8"/>
<path d="M490.45,35.15 L493.05,35.15 M491.75,35.15 L491.75,38.74 M490.45,38.74 L493.05,38.74" stroke="#ee2a2a" stroke-width="0.9"/>
<circle cx="491.75" cy="36.94" r="1.15" fill="none" stroke="#ee2a2a" stroke-width="0.8"/>
<path d="M497.74,35.51 L500.34,35.51 M499.04,35.51 L499.04,38.38 M497.74,38.38 L500.34,38.38" stroke="#ee2a2a" stroke-width="0.9"/>
<circle cx="499.04" cy="36.94" r="1.15" fill="none" stroke="#ee2a2a" stroke-width="0.8"/>
<path d="M505.03,35.15 L507.63,35.15 M506.33,35.15 L506.33,40.17 M505.03,40.17 L507.63,40.17" stroke="#ee2a2a" stroke-width="0.9"/>
<circle cx="506.33" cy="37.66" r="1.15" fill="none" stroke="#ee2a2a" stroke-width="0.8"/>
<path d="M512.32,31.20 L514.92,31.20 M513.62,31.20 L513.62,37.66 M512.32,37.66 L514.92,37.66" stroke="#ee2a2a" stroke-width="0.9"/>
<circle cx="513.62" cy="34.43" r="1.15" fill="none" stroke="#ee2a2a" stroke-width="0.8"/>
<path d="M519.61,31.56 L522.21,31.56 M520.91,31.56 L520.91,37.30 M519.61,37.30 L522.21,37.30" stroke="#ee2a2a" stroke-width="0.9"/>
<circle cx="520.91" cy="34.43" r="1.15" fill="none" stroke="#ee2a2a" stroke-width="0.8"/>
<path d="M526.90,30.13 L529.50,30.13 M528.20,30.13 L528.20,36.58 M526.90,36.58 L529.50,36.58" stroke="#ee2a2a" stroke-width="0.9"/>
<circle cx="528.20" cy="33.36" r="1.15" fill="none" stroke="#ee2a2a" stroke-width="0.8"/>
<path d="M534.19,25.82 L536.79,25.82 M535.49,25.82 L535.49,33.71 M534.19,33.71 L536.79,33.71" stroke="#ee2a2a" stroke-width="0.9"/>
<circle cx="535.49" cy="29.77" r="1.15" fill="none" stroke="#ee2a2a" stroke-width="0.8"/>
<circle cx="345.5" cy="16" r="1.3" fill="none" stroke="#ee2a2a" stroke-width="0.8"/>
<text x="350.5" y="18.5" font-family="'Liberation Serif', 'Times New Roman', serif" font-size="7.6" font-weight="normal" fill="#333" text-anchor="start" textLength="25.1" lengthAdjust="spacingAndGlyphs"  stroke="#333" stroke-width="0.16">CNTYME</text>
<path d="M388.6,13.9 L391.7,13.9 L390.15,16.6 Z" fill="#111"/>
<text x="393.1" y="18.5" font-family="'Liberation Serif', 'Times New Roman', serif" font-size="7.6" font-weight="normal" fill="#333" text-anchor="start" textLength="16.4" lengthAdjust="spacingAndGlyphs"  stroke="#333" stroke-width="0.16">CFME</text>
<text x="317.8" y="109.6" font-family="'Liberation Serif', 'Times New Roman', serif" font-size="7.8" font-weight="bold" fill="#111" text-anchor="start"  stroke="#111" stroke-width="0.16">C</text>
<line x1="334.80" y1="112.30" x2="334.80" y2="166.80" stroke="#222" stroke-width="1.0" />
<line x1="334.30" y1="166.20" x2="415.30" y2="166.20" stroke="#222" stroke-width="1.0" />
<line x1="332.40" y1="166.20" x2="334.80" y2="166.20" stroke="#222" stroke-width="0.9" />
<text x="332.40000000000003" y="169.0" font-family="'Liberation Serif', 'Times New Roman', serif" font-size="8.0" font-weight="normal" fill="#333" text-anchor="end" textLength="4.5" lengthAdjust="spacingAndGlyphs"  stroke="#333" stroke-width="0.16">0</text>
<line x1="332.40" y1="139.50" x2="334.80" y2="139.50" stroke="#222" stroke-width="0.9" />
<text x="332.40000000000003" y="142.3" font-family="'Liberation Serif', 'Times New Roman', serif" font-size="8.0" font-weight="normal" fill="#333" text-anchor="end" textLength="9.0" lengthAdjust="spacingAndGlyphs"  stroke="#333" stroke-width="0.16">10</text>
<line x1="332.40" y1="112.80" x2="334.80" y2="112.80" stroke="#222" stroke-width="0.9" />
<text x="332.40000000000003" y="115.59999999999998" font-family="'Liberation Serif', 'Times New Roman', serif" font-size="8.0" font-weight="normal" fill="#333" text-anchor="end" textLength="9.0" lengthAdjust="spacingAndGlyphs"  stroke="#333" stroke-width="0.16">20</text>
<line x1="333.50" y1="152.85" x2="334.80" y2="152.85" stroke="#222" stroke-width="0.7" />
<line x1="333.50" y1="126.15" x2="334.80" y2="126.15" stroke="#222" stroke-width="0.7" />
<line x1="334.80" y1="166.20" x2="334.80" y2="168.40" stroke="#222" stroke-width="0.9" />
<text x="334.8" y="176.2" font-family="'Liberation Serif', 'Times New Roman', serif" font-size="8.0" font-weight="normal" fill="#333" text-anchor="middle" textLength="4.3" lengthAdjust="spacingAndGlyphs"  stroke="#333" stroke-width="0.16">0</text>
<line x1="370.70" y1="166.20" x2="370.70" y2="168.40" stroke="#222" stroke-width="0.9" />
<text x="370.7" y="176.2" font-family="'Liberation Serif', 'Times New Roman', serif" font-size="8.0" font-weight="normal" fill="#333" text-anchor="middle" textLength="12.899999999999999" lengthAdjust="spacingAndGlyphs"  stroke="#333" stroke-width="0.16">500</text>
<line x1="406.60" y1="166.20" x2="406.60" y2="168.40" stroke="#222" stroke-width="0.9" />
<text x="406.6" y="176.2" font-family="'Liberation Serif', 'Times New Roman', serif" font-size="8.0" font-weight="normal" fill="#333" text-anchor="middle" textLength="17.2" lengthAdjust="spacingAndGlyphs"  stroke="#333" stroke-width="0.16">1000</text>
<line x1="334.8" y1="166.2" x2="406.60" y2="124.28" stroke="#222" stroke-width="0.85" stroke-dasharray="1.8,1.2"/>
<circle cx="334.94" cy="165.40" r="1.55" fill="none" stroke="#ee2a2a" stroke-width="0.85"/>
<circle cx="335.16" cy="164.86" r="1.55" fill="none" stroke="#ee2a2a" stroke-width="0.85"/>
<circle cx="335.52" cy="164.06" r="1.55" fill="none" stroke="#ee2a2a" stroke-width="0.85"/>
<circle cx="336.24" cy="163.53" r="1.55" fill="none" stroke="#ee2a2a" stroke-width="0.85"/>
<circle cx="336.95" cy="163.00" r="1.55" fill="none" stroke="#ee2a2a" stroke-width="0.85"/>
<circle cx="338.39" cy="162.73" r="1.55" fill="none" stroke="#ee2a2a" stroke-width="0.85"/>
<circle cx="341.98" cy="161.39" r="1.55" fill="none" stroke="#ee2a2a" stroke-width="0.85"/>
<circle cx="363.52" cy="146.17" r="1.55" fill="none" stroke="#ee2a2a" stroke-width="0.85"/>
<circle cx="377.88" cy="139.50" r="1.55" fill="none" stroke="#ee2a2a" stroke-width="0.85"/>
<circle cx="392.24" cy="134.96" r="1.55" fill="none" stroke="#ee2a2a" stroke-width="0.85"/>
<circle cx="406.60" cy="124.28" r="1.55" fill="none" stroke="#ee2a2a" stroke-width="0.85"/>
<text x="374.2" y="163.4" font-family="'Liberation Serif', 'Times New Roman', serif" font-size="8.4" fill="#333" stroke="#333" stroke-width="0.16">r<tspan font-size="5" dy="-3.2">2</tspan><tspan dy="3.2"> = 0.9927</tspan></text>
<text transform="translate(312.6,138.8) rotate(-90)" font-family="'Liberation Serif', 'Times New Roman', serif" font-size="8" fill="#333" stroke="#333" stroke-width="0.16" text-anchor="middle">i<tspan font-size="4.8" dy="1.6">p,a</tspan><tspan dy="-1.6">(nA)</tspan></text>
<text x="347.4" y="187.6" font-family="'Liberation Serif', 'Times New Roman', serif" font-size="8.4" font-weight="normal" fill="#333" text-anchor="start" textLength="54.6" lengthAdjust="spacingAndGlyphs"  stroke="#333" stroke-width="0.16">Scan Rate (V/s)</text>
<text x="437.6" y="109.6" font-family="'Liberation Serif', 'Times New Roman', serif" font-size="7.8" font-weight="bold" fill="#111" text-anchor="start"  stroke="#111" stroke-width="0.16">D</text>
<line x1="454.60" y1="112.30" x2="454.60" y2="166.80" stroke="#222" stroke-width="1.0" />
<line x1="454.10" y1="166.20" x2="535.10" y2="166.20" stroke="#222" stroke-width="1.0" />
<line x1="452.20" y1="166.20" x2="454.60" y2="166.20" stroke="#222" stroke-width="0.9" />
<text x="452.20000000000005" y="169.0" font-family="'Liberation Serif', 'Times New Roman', serif" font-size="8.0" font-weight="normal" fill="#333" text-anchor="end" textLength="4.5" lengthAdjust="spacingAndGlyphs"  stroke="#333" stroke-width="0.16">0</text>
<line x1="452.20" y1="139.50" x2="454.60" y2="139.50" stroke="#222" stroke-width="0.9" />
<text x="452.20000000000005" y="142.3" font-family="'Liberation Serif', 'Times New Roman', serif" font-size="8.0" font-weight="normal" fill="#333" text-anchor="end" textLength="9.0" lengthAdjust="spacingAndGlyphs"  stroke="#333" stroke-width="0.16">10</text>
<line x1="452.20" y1="112.80" x2="454.60" y2="112.80" stroke="#222" stroke-width="0.9" />
<text x="452.20000000000005" y="115.59999999999998" font-family="'Liberation Serif', 'Times New Roman', serif" font-size="8.0" font-weight="normal" fill="#333" text-anchor="end" textLength="9.0" lengthAdjust="spacingAndGlyphs"  stroke="#333" stroke-width="0.16">20</text>
<line x1="453.30" y1="152.85" x2="454.60" y2="152.85" stroke="#222" stroke-width="0.7" />
<line x1="453.30" y1="126.15" x2="454.60" y2="126.15" stroke="#222" stroke-width="0.7" />
<line x1="454.60" y1="166.20" x2="454.60" y2="168.40" stroke="#222" stroke-width="0.9" />
<text x="454.6" y="176.2" font-family="'Liberation Serif', 'Times New Roman', serif" font-size="8.0" font-weight="normal" fill="#333" text-anchor="middle" textLength="4.3" lengthAdjust="spacingAndGlyphs"  stroke="#333" stroke-width="0.16">0</text>
<line x1="479.90" y1="166.20" x2="479.90" y2="168.40" stroke="#222" stroke-width="0.9" />
<text x="479.90000000000003" y="176.2" font-family="'Liberation Serif', 'Times New Roman', serif" font-size="8.0" font-weight="normal" fill="#333" text-anchor="middle" textLength="8.6" lengthAdjust="spacingAndGlyphs"  stroke="#333" stroke-width="0.16">10</text>
<line x1="505.20" y1="166.20" x2="505.20" y2="168.40" stroke="#222" stroke-width="0.9" />
<text x="505.20000000000005" y="176.2" font-family="'Liberation Serif', 'Times New Roman', serif" font-size="8.0" font-weight="normal" fill="#333" text-anchor="middle" textLength="8.6" lengthAdjust="spacingAndGlyphs"  stroke="#333" stroke-width="0.16">20</text>
<line x1="530.50" y1="166.20" x2="530.50" y2="168.40" stroke="#222" stroke-width="0.9" />
<text x="530.5" y="176.2" font-family="'Liberation Serif', 'Times New Roman', serif" font-size="8.0" font-weight="normal" fill="#333" text-anchor="middle" textLength="8.6" lengthAdjust="spacingAndGlyphs"  stroke="#333" stroke-width="0.16">30</text>
<line x1="454.6" y1="166.2" x2="535.56" y2="128.82" stroke="#222" stroke-width="0.85" stroke-dasharray="1.8,1.2"/>
<circle cx="457.13" cy="165.40" r="1.55" fill="none" stroke="#ee2a2a" stroke-width="0.85"/>
<circle cx="460.17" cy="164.86" r="1.55" fill="none" stroke="#ee2a2a" stroke-width="0.85"/>
<circle cx="462.70" cy="164.06" r="1.55" fill="none" stroke="#ee2a2a" stroke-width="0.85"/>
<circle cx="463.96" cy="163.53" r="1.55" fill="none" stroke="#ee2a2a" stroke-width="0.85"/>
<circle cx="465.99" cy="163.00" r="1.55" fill="none" stroke="#ee2a2a" stroke-width="0.85"/>
<circle cx="472.31" cy="162.73" r="1.55" fill="none" stroke="#ee2a2a" stroke-width="0.85"/>
<circle cx="479.90" cy="161.39" r="1.55" fill="none" stroke="#ee2a2a" stroke-width="0.85"/>
<circle cx="505.20" cy="146.17" r="1.55" fill="none" stroke="#ee2a2a" stroke-width="0.85"/>
<circle cx="516.59" cy="139.50" r="1.55" fill="none" stroke="#ee2a2a" stroke-width="0.85"/>
<circle cx="526.20" cy="134.96" r="1.55" fill="none" stroke="#ee2a2a" stroke-width="0.85"/>
<circle cx="534.55" cy="124.28" r="1.55" fill="none" stroke="#ee2a2a" stroke-width="0.85"/>
<text x="494.0" y="163.4" font-family="'Liberation Serif', 'Times New Roman', serif" font-size="8.4" fill="#333" stroke="#333" stroke-width="0.16">r<tspan font-size="5" dy="-3.2">2</tspan><tspan dy="3.2"> = 0.9676</tspan></text>
<text transform="translate(432.40000000000003,138.8) rotate(-90)" font-family="'Liberation Serif', 'Times New Roman', serif" font-size="8" fill="#333" stroke="#333" stroke-width="0.16" text-anchor="middle">i<tspan font-size="4.8" dy="1.6">p,a</tspan><tspan dy="-1.6">(nA)</tspan></text>
<text x="460.9" y="187.6" font-family="'Liberation Serif', 'Times New Roman', serif" font-size="8.4" font-weight="normal" fill="#333" text-anchor="start" textLength="68.7" lengthAdjust="spacingAndGlyphs"  stroke="#333" stroke-width="0.16">√Scan Rate (V/s)<tspan font-size="5.4" dy="-3.4">1/2</tspan></text>
<text x="7.8" y="201.4" font-family="'Liberation Sans', Arial, sans-serif" font-size="11.6" font-weight="normal" fill="#000" text-anchor="start" >(c)</text>
<text x="45.1" y="202.4" font-family="'Liberation Sans', Arial, sans-serif" font-size="10.2" font-weight="normal" fill="#000" text-anchor="start" textLength="90.3" lengthAdjust="spacingAndGlyphs" >A. 1 μM Dopamine</text>
<text x="160.6" y="202.7" font-family="'Liberation Sans', Arial, sans-serif" font-size="10.2" font-weight="normal" fill="#000" text-anchor="start" textLength="70.1" lengthAdjust="spacingAndGlyphs" >C. Ox. Current</text>
<text x="45" y="303.6" font-family="'Liberation Sans', Arial, sans-serif" font-size="10.2" font-weight="normal" fill="#000" text-anchor="start" textLength="71" lengthAdjust="spacingAndGlyphs" >B. Background</text>
<text x="171.2" y="305.1" font-family="'Liberation Sans', Arial, sans-serif" font-size="10.2" font-weight="normal" fill="#000" text-anchor="start" >D. ΔE<tspan font-size="6.4" dy="2">p</tspan></text>
<line x1="74.50" y1="215.40" x2="74.50" y2="281.80" stroke="#222" stroke-width="0.8" />
<line x1="51.30" y1="251.50" x2="149.30" y2="251.50" stroke="#222" stroke-width="0.8" />
<line x1="73.00" y1="215.60" x2="74.50" y2="215.60" stroke="#222" stroke-width="0.7" />
<line x1="73.00" y1="281.40" x2="74.50" y2="281.40" stroke="#222" stroke-width="0.7" />
<text x="73.0" y="217.8" font-family="'Liberation Sans', Arial, sans-serif" font-size="5.3" font-weight="normal" fill="#333" text-anchor="end" textLength="14.6" lengthAdjust="spacingAndGlyphs" >12 nA</text>
<text x="73.0" y="283.3" font-family="'Liberation Sans', Arial, sans-serif" font-size="5.3" font-weight="normal" fill="#333" text-anchor="end" textLength="15.6" lengthAdjust="spacingAndGlyphs" >-10 nA</text>
<text x="50.8" y="259.4" font-family="'Liberation Sans', Arial, sans-serif" font-size="5.3" font-weight="normal" fill="#333" text-anchor="middle" >-0.4</text>
<text x="151.6" y="259.3" font-family="'Liberation Sans', Arial, sans-serif" font-size="5.3" font-weight="normal" fill="#333" text-anchor="middle" textLength="11" lengthAdjust="spacingAndGlyphs" >1.3V</text>
<line x1="149.40" y1="251.50" x2="149.40" y2="253.30" stroke="#222" stroke-width="0.7" />
<path d="M51.60,251.40 C52.50,250.87 54.57,249.12 57.00,248.20 C59.43,247.28 63.30,246.43 66.20,245.90 C69.10,245.37 72.13,245.23 74.40,245.00 C76.67,244.77 77.38,244.27 79.80,244.50 C82.22,244.73 86.53,246.08 88.90,246.40 C91.27,246.72 92.15,247.32 94.00,246.40 C95.85,245.48 98.17,244.13 100.00,240.90 C101.83,237.67 103.53,230.57 105.00,227.00 C106.47,223.43 107.63,220.95 108.80,219.50 C109.97,218.05 110.73,217.88 112.00,218.30 C113.27,218.72 114.63,219.92 116.40,222.00 C118.17,224.08 120.52,228.38 122.60,230.80 C124.68,233.22 126.80,235.23 128.90,236.50 C131.00,237.77 132.27,238.08 135.20,238.40 C138.13,238.72 144.20,238.62 146.50,238.40 C148.80,238.18 148.58,237.32 149.00,237.10" fill="none" stroke="#222" stroke-width="0.95" stroke-linejoin="round" stroke-linecap="round" />
<path d="M149.00,237.10 C148.38,237.22 146.55,236.95 145.30,237.80 C144.05,238.65 142.97,240.43 141.50,242.20 C140.03,243.97 138.18,246.83 136.50,248.40 C134.82,249.97 134.13,250.65 131.40,251.60 C128.67,252.55 124.07,253.48 120.10,254.10 C116.13,254.72 111.78,254.88 107.60,255.30 C103.42,255.72 98.87,256.27 95.00,256.60 C91.13,256.93 87.23,257.03 84.40,257.30 C81.57,257.57 79.67,257.60 78.00,258.20 C76.33,258.80 75.47,259.85 74.40,260.90 C73.33,261.95 72.67,262.82 71.60,264.50 C70.53,266.18 69.18,269.08 68.00,271.00 C66.82,272.92 65.50,274.97 64.50,276.00 C63.50,277.03 62.92,277.12 62.00,277.20 C61.08,277.28 60.17,277.12 59.00,276.50 C57.83,275.88 56.23,274.33 55.00,273.50 C53.77,272.67 52.17,271.83 51.60,271.50" fill="none" stroke="#222" stroke-width="0.95" stroke-linejoin="round" stroke-linecap="round" />
<path d="M51.60,251.50 C55.40,251.50 67.17,251.70 74.40,251.50 C81.63,251.30 89.47,250.92 95.00,250.30 C100.53,249.68 103.42,248.95 107.60,247.80 C111.78,246.65 115.92,244.97 120.10,243.40 C124.28,241.83 129.35,238.72 132.70,238.40 C136.05,238.08 138.10,240.57 140.20,241.50 C142.30,242.43 143.83,243.68 145.30,244.00 C146.77,244.32 148.38,243.50 149.00,243.40" fill="none" stroke="#ee2020" stroke-width="0.95" stroke-linejoin="round" stroke-linecap="round" />
<path d="M149.00,243.40 C147.95,243.72 145.42,244.57 142.70,245.30 C139.98,246.03 136.47,247.07 132.70,247.80 C128.93,248.53 126.38,249.10 120.10,249.70 C113.82,250.30 101.85,250.97 95.00,251.40 C88.15,251.83 82.43,251.93 79.00,252.30 C75.57,252.67 75.93,252.92 74.40,253.60 C72.87,254.28 71.47,255.78 69.80,256.40 C68.13,257.02 66.53,257.30 64.40,257.30 C62.27,257.30 59.13,256.78 57.00,256.40 C54.87,256.02 52.50,255.23 51.60,255.00" fill="none" stroke="#ee2020" stroke-width="0.95" stroke-linejoin="round" stroke-linecap="round" />
<line x1="112.80" y1="266.60" x2="119.40" y2="266.60" stroke="#222" stroke-width="1.15" />
<text x="122.2" y="268.3" font-family="'Liberation Sans', Arial, sans-serif" font-size="5.4" font-weight="normal" fill="#333" text-anchor="start" >PEI</text>
<line x1="112.80" y1="275.00" x2="119.40" y2="275.00" stroke="#ee2020" stroke-width="1.3" />
<text x="122.2" y="276.7" font-family="'Liberation Sans', Arial, sans-serif" font-size="5.4" font-weight="normal" fill="#333" text-anchor="start" >PVA</text>
<line x1="73.50" y1="318.00" x2="73.50" y2="383.30" stroke="#222" stroke-width="0.8" />
<line x1="50.60" y1="350.30" x2="150.00" y2="350.30" stroke="#222" stroke-width="0.8" />
<line x1="72.00" y1="318.20" x2="73.50" y2="318.20" stroke="#222" stroke-width="0.7" />
<line x1="72.00" y1="334.20" x2="73.50" y2="334.20" stroke="#222" stroke-width="0.7" />
<line x1="72.00" y1="366.40" x2="73.50" y2="366.40" stroke="#222" stroke-width="0.7" />
<line x1="72.00" y1="383.00" x2="73.50" y2="383.00" stroke="#222" stroke-width="0.7" />
<text x="72.0" y="320.2" font-family="'Liberation Sans', Arial, sans-serif" font-size="5.3" font-weight="normal" fill="#333" text-anchor="end" textLength="17.7" lengthAdjust="spacingAndGlyphs" >400 nA</text>
<text x="72.0" y="336.2" font-family="'Liberation Sans', Arial, sans-serif" font-size="5.3" font-weight="normal" fill="#333" text-anchor="end" >200</text>
<text x="72.0" y="368.8" font-family="'Liberation Sans', Arial, sans-serif" font-size="5.3" font-weight="normal" fill="#333" text-anchor="end" >-200</text>
<text x="72.0" y="385.0" font-family="'Liberation Sans', Arial, sans-serif" font-size="5.3" font-weight="normal" fill="#333" text-anchor="end" textLength="19.2" lengthAdjust="spacingAndGlyphs" >-400 nA</text>
<text x="50.2" y="358.2" font-family="'Liberation Sans', Arial, sans-serif" font-size="5.3" font-weight="normal" fill="#333" text-anchor="middle" >-0.4</text>
<text x="151.1" y="358.2" font-family="'Liberation Sans', Arial, sans-serif" font-size="5.3" font-weight="normal" fill="#333" text-anchor="middle" textLength="10.6" lengthAdjust="spacingAndGlyphs" >1.3V</text>
<line x1="149.20" y1="350.30" x2="149.20" y2="352.10" stroke="#222" stroke-width="0.7" />
<circle cx="148.3" cy="323.8" r="1.0" fill="#222"/>
<path d="M50.70,350.30 C51.25,349.67 52.58,347.65 54.00,346.50 C55.42,345.35 57.20,344.73 59.20,343.40 C61.20,342.07 63.62,340.27 66.00,338.50 C68.38,336.73 71.17,334.55 73.50,332.80 C75.83,331.05 78.10,329.25 80.00,328.00 C81.90,326.75 83.02,325.87 84.90,325.30 C86.78,324.73 88.12,324.42 91.30,324.60 C94.48,324.78 98.32,325.93 104.00,326.40 C109.68,326.87 119.33,327.40 125.40,327.40 C131.47,327.40 136.58,327.00 140.40,326.40 C144.22,325.80 146.98,324.23 148.30,323.80" fill="none" stroke="#222" stroke-width="0.95" stroke-linejoin="round" stroke-linecap="round" />
<path d="M148.30,323.80 C148.00,325.00 147.13,328.47 146.50,331.00 C145.87,333.53 145.17,336.50 144.50,339.00 C143.83,341.50 143.25,343.92 142.50,346.00 C141.75,348.08 141.08,349.92 140.00,351.50 C138.92,353.08 137.83,354.17 136.00,355.50 C134.17,356.83 132.53,358.27 129.00,359.50 C125.47,360.73 120.73,361.67 114.80,362.90 C108.87,364.13 100.28,365.70 93.40,366.90 C86.52,368.10 78.83,368.67 73.50,370.10 C68.17,371.53 65.20,373.97 61.40,375.50 C57.60,377.03 52.48,378.67 50.70,379.30" fill="none" stroke="#222" stroke-width="0.95" stroke-linejoin="round" stroke-linecap="round" />
<path d="M50.70,350.30 C52.25,349.92 56.20,348.78 60.00,348.00 C63.80,347.22 68.50,346.27 73.50,345.60 C78.50,344.93 84.92,344.43 90.00,344.00 C95.08,343.57 98.10,343.23 104.00,343.00 C109.90,342.77 119.70,342.60 125.40,342.60 C131.10,342.60 134.28,342.87 138.20,343.00 C142.12,343.13 147.12,343.33 148.90,343.40" fill="none" stroke="#ee2020" stroke-width="0.95" stroke-linejoin="round" stroke-linecap="round" />
<path d="M148.90,343.40 C148.08,344.08 145.42,346.35 144.00,347.50 C142.58,348.65 142.73,349.58 140.40,350.30 C138.07,351.02 134.27,351.35 130.00,351.80 C125.73,352.25 120.97,352.58 114.80,353.00 C108.63,353.42 99.88,353.87 93.00,354.30 C86.12,354.73 79.00,355.22 73.50,355.60 C68.00,355.98 63.80,356.32 60.00,356.60 C56.20,356.88 52.25,357.18 50.70,357.30" fill="none" stroke="#ee2020" stroke-width="0.95" stroke-linejoin="round" stroke-linecap="round" />
<line x1="120.00" y1="369.60" x2="127.50" y2="369.60" stroke="#222" stroke-width="1.15" />
<text x="130.8" y="370.7" font-family="'Liberation Sans', Arial, sans-serif" font-size="5.4" font-weight="normal" fill="#333" text-anchor="start" >PEI</text>
<line x1="120.00" y1="377.80" x2="127.50" y2="377.80" stroke="#ee2020" stroke-width="1.3" />
<text x="130.8" y="379.3" font-family="'Liberation Sans', Arial, sans-serif" font-size="5.4" font-weight="normal" fill="#333" text-anchor="start" >PVA</text>
<line x1="183.80" y1="215.40" x2="183.80" y2="281.30" stroke="#1a1a1a" stroke-width="0.95" />
<line x1="183.30" y1="280.80" x2="226.00" y2="280.80" stroke="#1a1a1a" stroke-width="0.95" />
<line x1="181.80" y1="280.80" x2="183.80" y2="280.80" stroke="#1a1a1a" stroke-width="0.85" />
<text x="181.4" y="282.90000000000003" font-family="'Liberation Sans', Arial, sans-serif" font-size="6.0" font-weight="normal" fill="#333" text-anchor="end" textLength="3.6" lengthAdjust="spacingAndGlyphs" >0</text>
<line x1="181.80" y1="259.15" x2="183.80" y2="259.15" stroke="#1a1a1a" stroke-width="0.85" />
<text x="181.4" y="261.25000000000006" font-family="'Liberation Sans', Arial, sans-serif" font-size="6.0" font-weight="normal" fill="#333" text-anchor="end" textLength="3.6" lengthAdjust="spacingAndGlyphs" >5</text>
<line x1="181.80" y1="237.50" x2="183.80" y2="237.50" stroke="#1a1a1a" stroke-width="0.85" />
<text x="181.4" y="239.6" font-family="'Liberation Sans', Arial, sans-serif" font-size="6.0" font-weight="normal" fill="#333" text-anchor="end" textLength="7.2" lengthAdjust="spacingAndGlyphs" >10</text>
<line x1="181.80" y1="215.85" x2="183.80" y2="215.85" stroke="#1a1a1a" stroke-width="0.85" />
<text x="181.4" y="217.95000000000002" font-family="'Liberation Sans', Arial, sans-serif" font-size="6.0" font-weight="normal" fill="#333" text-anchor="end" textLength="7.2" lengthAdjust="spacingAndGlyphs" >15</text>
<rect x="186.40" y="224.51" width="15.40" height="56.29" fill="#000" stroke="none" stroke-width="0" />
<line x1="194.10" y1="224.51" x2="194.10" y2="220.18" stroke="#000" stroke-width="1.0" />
<line x1="190.60" y1="220.18" x2="197.80" y2="220.18" stroke="#000" stroke-width="1.0" />
<rect x="208.30" y="272.64" width="14.60" height="8.16" fill="#fff" stroke="#ee2020" stroke-width="0.95" />
<line x1="215.60" y1="272.14" x2="215.60" y2="268.24" stroke="#ee2020" stroke-width="0.95" />
<line x1="212.60" y1="268.24" x2="218.60" y2="268.24" stroke="#ee2020" stroke-width="0.95" />
<path d="M194.3,220.18 L194.3,215.3 L215.8,215.3 L215.8,268.243" fill="none" stroke="#1a1a1a" stroke-width="0.95"/>
<text x="204.6" y="214.6" font-family="'Liberation Sans', Arial, sans-serif" font-size="5.0" font-weight="normal" fill="#111" text-anchor="middle" stroke="#111" stroke-width="0.2">***</text>
<text transform="translate(173.1,247.3) rotate(-90)" font-family="'Liberation Sans', Arial, sans-serif" font-size="5.4" font-weight="bold" fill="#222" text-anchor="middle">Current (nA)</text>
<text x="193.3" y="289.0" font-family="'Liberation Sans', Arial, sans-serif" font-size="6.2" font-weight="normal" fill="#333" text-anchor="middle" textLength="9.0" lengthAdjust="spacingAndGlyphs" >PEI</text>
<text x="215.0" y="289.0" font-family="'Liberation Sans', Arial, sans-serif" font-size="6.2" font-weight="normal" fill="#333" text-anchor="middle" textLength="11.6" lengthAdjust="spacingAndGlyphs" >PVA</text>
<line x1="184.70" y1="317.90" x2="184.70" y2="383.60" stroke="#1a1a1a" stroke-width="0.95" />
<line x1="184.20" y1="383.10" x2="227.00" y2="383.10" stroke="#1a1a1a" stroke-width="0.95" />
<line x1="182.70" y1="383.10" x2="184.70" y2="383.10" stroke="#1a1a1a" stroke-width="0.85" />
<text x="182.5" y="385.20000000000005" font-family="'Liberation Sans', Arial, sans-serif" font-size="6.0" font-weight="normal" fill="#333" text-anchor="end" textLength="7.0" lengthAdjust="spacingAndGlyphs" >0.0</text>
<line x1="182.70" y1="361.47" x2="184.70" y2="361.47" stroke="#1a1a1a" stroke-width="0.85" />
<text x="182.5" y="363.56500000000005" font-family="'Liberation Sans', Arial, sans-serif" font-size="6.0" font-weight="normal" fill="#333" text-anchor="end" textLength="7.0" lengthAdjust="spacingAndGlyphs" >0.5</text>
<line x1="182.70" y1="339.83" x2="184.70" y2="339.83" stroke="#1a1a1a" stroke-width="0.85" />
<text x="182.5" y="341.93000000000006" font-family="'Liberation Sans', Arial, sans-serif" font-size="6.0" font-weight="normal" fill="#333" text-anchor="end" textLength="7.0" lengthAdjust="spacingAndGlyphs" >1.0</text>
<line x1="182.70" y1="318.20" x2="184.70" y2="318.20" stroke="#1a1a1a" stroke-width="0.85" />
<text x="182.5" y="320.2950000000001" font-family="'Liberation Sans', Arial, sans-serif" font-size="6.0" font-weight="normal" fill="#333" text-anchor="end" textLength="7.0" lengthAdjust="spacingAndGlyphs" >1.5</text>
<rect x="187.70" y="353.68" width="14.60" height="29.42" fill="#000" stroke="none" stroke-width="0" />
<line x1="195.00" y1="353.68" x2="195.00" y2="352.81" stroke="#000" stroke-width="1.0" />
<line x1="192.00" y1="352.81" x2="198.00" y2="352.81" stroke="#000" stroke-width="1.0" />
<rect x="209.50" y="341.63" width="13.70" height="41.47" fill="#fff" stroke="#ee2020" stroke-width="0.95" />
<line x1="212.80" y1="340.48" x2="220.20" y2="340.48" stroke="#ee2020" stroke-width="1.0" />
<path d="M195.3,352.81100000000004 L195.3,328.2 L216.1,328.2 L216.1,340.47905000000003" fill="none" stroke="#1a1a1a" stroke-width="0.95"/>
<text x="205.9" y="327.6" font-family="'Liberation Sans', Arial, sans-serif" font-size="5.0" font-weight="normal" fill="#111" text-anchor="middle" stroke="#111" stroke-width="0.2">***</text>
<text transform="translate(167.6,351.5) rotate(-90)" font-family="'Liberation Sans', Arial, sans-serif" font-size="6" fill="#222" text-anchor="middle">ΔE<tspan font-size="4" dy="1.4">p</tspan><tspan dy="-1.4"> (V)</tspan></text>
<text x="194.6" y="391.6" font-family="'Liberation Sans', Arial, sans-serif" font-size="6.2" font-weight="normal" fill="#333" text-anchor="middle" textLength="9.6" lengthAdjust="spacingAndGlyphs" >PEI</text>
<text x="217.2" y="391.6" font-family="'Liberation Sans', Arial, sans-serif" font-size="6.2" font-weight="normal" fill="#333" text-anchor="middle" textLength="12.2" lengthAdjust="spacingAndGlyphs" >PVA</text>
<text x="288.0" y="201.4" font-family="'Liberation Sans', Arial, sans-serif" font-size="11.6" font-weight="normal" fill="#000" text-anchor="start" >(d)</text>
<text x="315" y="201.7" font-family="'Liberation Sans', Arial, sans-serif" font-size="8.8" font-weight="bold" fill="#000" text-anchor="start" >A</text>
<text x="430" y="200.6" font-family="'Liberation Sans', Arial, sans-serif" font-size="8.0" font-weight="bold" fill="#000" text-anchor="start" >B</text>
<text x="311.9" y="289.4" font-family="'Liberation Sans', Arial, sans-serif" font-size="8.4" font-weight="bold" fill="#000" text-anchor="start" >C</text>
<text x="432.3" y="291.8" font-family="'Liberation Sans', Arial, sans-serif" font-size="8.0" font-weight="bold" fill="#000" text-anchor="start" >D</text>
<defs><radialGradient id="mbodyA" cx="0.35" cy="0.5" r="0.65"><stop offset="0" stop-color="#fbefea"/><stop offset="0.7" stop-color="#fcf4f0" stop-opacity="0.7"/><stop offset="1" stop-color="#ffffff" stop-opacity="0"/></radialGradient><linearGradient id="mheadA" x1="0" y1="0" x2="1" y2="0.3"><stop offset="0" stop-color="#f6d6de"/><stop offset="0.5" stop-color="#f9e4e8"/><stop offset="1" stop-color="#fbeeef"/></linearGradient></defs>
<ellipse cx="400" cy="251" rx="26" ry="19" fill="url(#mbodyA)"/>
<path d="M384,243 C390,238 396,235 403,233.5 C398,238 393,242 389,245 Z" fill="#f8e4e4" opacity="0.8"/>
<path d="M338.5,270 C338,266 342,261 348,257 C352,254 355,252 357.5,249 C357.5,245 358.5,240 360.5,236.5 C363,238 366,243 367,247.5 C372,249 378,248.5 384,247 C390,245.5 396,244 400,246 C404,249 403,256 398,261 C393,266 385,270 376,272.5 C366,275 354,275.5 346,274.5 C341,273.8 338.7,272.3 338.5,270 Z" fill="url(#mheadA)"/>
<path d="M341,266 C347,261 353,258.5 361,256.5 C369,255 378,254.5 388,255.5" fill="none" stroke="#fcf0f2" stroke-width="1.8" opacity="0.9"/>
<path d="M359.6,240 C361.2,239 363,240.5 364.6,244.5 L362,246 Z" fill="#eeb0bf" opacity="0.9"/>
<path d="M357.5,249 C357.5,245 358.5,240 360.5,236.5 C363,238 366,243 367,247.5" fill="none" stroke="#e8a8b8" stroke-width="0.6"/>
<ellipse cx="340" cy="269.6" rx="2.3" ry="2.2" fill="#ee9eab"/>
<ellipse cx="364" cy="262.4" rx="3.8" ry="1.6" fill="#e993a6" opacity="0.85"/>
<ellipse cx="377" cy="257.4" rx="2.6" ry="1.6" fill="#e993a6" opacity="0.8"/>
<path d="M380,261.8 C384.5,260.6 389,260.6 393,261.2" fill="none" stroke="#e6a0b2" stroke-width="1.3" opacity="0.85"/>
<path d="M345,267 C350,265.5 356,266 362,267.5 M366,270 C372,269 380,267 388,265" fill="none" stroke="#efbcc8" stroke-width="0.9" opacity="0.8"/>
<path d="M349,273.5 C353,277.5 360,279.5 367,278.7 C369,277 367.5,273.7 363,273.3 Z" fill="#c9cdd9" opacity="0.9"/>
<path d="M339.8,262.5 C341.3,259 344.3,258 346.6,258.5 L344.3,263 Z" fill="#cfd2de" opacity="0.85"/>
<path d="M352.8,208 L352.8,200.5 M352.8,208 L345.8,211.3 M352.8,208 L359.8,211.3" stroke="#666" stroke-width="0.5"/>
<path d="M351.8,201.8 L352.8,199.8 L353.8,201.8 Z M346.5,210.3 L345.2,211.6 L347.2,211.8 Z M359.1,210.3 L360.4,211.6 L358.4,211.8 Z" fill="#555"/>
<text x="352.9" y="203.4" font-family="'Liberation Sans', Arial, sans-serif" font-size="4.4" font-weight="bold" fill="#222" text-anchor="middle" >z</text>
<text x="342.0" y="216.0" font-family="'Liberation Sans', Arial, sans-serif" font-size="4.8" font-weight="bold" fill="#222" text-anchor="middle" >x</text>
<text x="364.6" y="216.2" font-family="'Liberation Sans', Arial, sans-serif" font-size="5.0" font-weight="bold" fill="#222" text-anchor="middle" >y</text>
<path d="M367.2,217 L371.8,217 L371.8,238 L369.7,249 L367.2,238 Z" fill="#1a1a1a"/>
<line x1="369.50" y1="210.50" x2="369.50" y2="244.00" stroke="#2233ee" stroke-width="0.9" />
<line x1="372.90" y1="210.50" x2="372.90" y2="247.20" stroke="#c8d800" stroke-width="1.0" />
<defs><linearGradient id="pbg" x1="0" y1="0" x2="0" y2="1"><stop offset="0" stop-color="#3a3a3a"/><stop offset="0.2" stop-color="#5a5a5a"/><stop offset="0.45" stop-color="#8a8a88"/><stop offset="0.62" stop-color="#6e6e6c"/><stop offset="0.7" stop-color="#4a4a48"/><stop offset="1" stop-color="#4a4a48"/></linearGradient><radialGradient id="mbody" cx="0.5" cy="0.1" r="0.95"><stop offset="0" stop-color="#f2efe9"/><stop offset="0.6" stop-color="#e6e1d8"/><stop offset="1" stop-color="#cfc9bd"/></radialGradient><radialGradient id="earg" cx="0.45" cy="0.45" r="0.6"><stop offset="0" stop-color="#ecd2d2"/><stop offset="0.75" stop-color="#d8b2b4"/><stop offset="1" stop-color="#a08486"/></radialGradient><filter id="blur1" x="-0.2" y="-0.2" width="1.4" height="1.4"><feGaussianBlur stdDeviation="1.5"/></filter><clipPath id="pclip"><rect x="450.1" y="197.1" width="94.8" height="78.1"/></clipPath></defs>
<g clip-path="url(#pclip)">
<rect x="450.10" y="197.10" width="94.80" height="78.10" fill="url(#pbg)" stroke="none" stroke-width="0" />
<g filter="url(#blur1)">
<rect x="446.00" y="193.00" width="30.00" height="24.00" fill="#161616" stroke="none" stroke-width="0" />
<rect x="522.00" y="193.00" width="26.00" height="18.00" fill="#363636" stroke="none" stroke-width="0" />
<rect x="452.00" y="217.00" width="20.00" height="32.00" fill="#6c6c6c" stroke="none" stroke-width="0" />
<rect x="456.00" y="222.00" width="12.00" height="20.00" fill="#8a8a8a" stroke="none" stroke-width="0" />
<rect x="505.00" y="212.00" width="20.00" height="34.00" fill="#9a9a98" stroke="none" stroke-width="0" />
<rect x="525.00" y="214.00" width="18.00" height="32.00" fill="#858585" stroke="none" stroke-width="0" />
<rect x="476.00" y="224.00" width="18.00" height="22.00" fill="#888886" stroke="none" stroke-width="0" />
<rect x="531.00" y="222.00" width="5.00" height="18.00" fill="#b4b4b4" stroke="none" stroke-width="0" />
<rect x="446.00" y="247.00" width="104.00" height="6.00" fill="#4a4a4a" stroke="none" stroke-width="0" />
</g>
<rect x="474.00" y="197.10" width="25.00" height="26.00" fill="#c4c4c2" stroke="none" stroke-width="0" />
<rect x="474.00" y="197.10" width="1.80" height="26.00" fill="#a8a8a6" stroke="none" stroke-width="0" />
<polygon points="499,203.5 516,205.5 517.5,214 511,217.5 500,216.5" fill="#ececec"/>
<polygon points="489.7,215 502,214.8 503,224 496,225.5 490,221" fill="#efefed"/>
<rect x="498.20" y="197.10" width="26.00" height="6.40" fill="#d11f2d" stroke="none" stroke-width="0" />
<rect x="523.00" y="197.10" width="3.00" height="5.00" fill="#ececec" stroke="none" stroke-width="0" />
<polygon points="495.4,220 501.8,220 499.6,242 497.2,242" fill="#6cc6d6"/>
<rect x="503.00" y="230.00" width="4.00" height="8.70" fill="#9a9a9a" stroke="none" stroke-width="0" />
<path d="M481,247.5 C486,242 506,240.5 515,245.5 L515,249.5 L481,249.5 Z" fill="#ecc8c8"/>
<path d="M489,246.5 C493,244 499,244 503,246.5 L501.5,249 L490,249 Z" fill="#c84050"/>
<path d="M450.1,256 C462,251.5 478,249.5 490,249 C510,248.6 530,250.5 544.9,254.5 L544.9,275.2 L450.1,275.2 Z" fill="url(#mbody)"/>
<path d="M470,261 C480,257 495,256 505,258 M478,267 C490,264 505,265 515,268 M500,255 C510,253 520,254 528,257 M462,270 C470,268 478,268 486,271" fill="none" stroke="#d2ccc0" stroke-width="0.8" opacity="0.7"/>
<ellipse cx="460" cy="263.3" rx="8.3" ry="9.2" fill="url(#earg)"/>
<ellipse cx="534" cy="261.2" rx="7.2" ry="8.2" fill="url(#earg)"/>
<circle cx="492.8" cy="247.1" r="7.0" fill="none" stroke="#f2dc1c" stroke-width="1.05" stroke-dasharray="1.4,1.1"/>
<text x="530.3" y="268.3" font-family="'Liberation Sans', Arial, sans-serif" font-size="5.0" font-weight="bold" fill="#0a0a0a" text-anchor="middle" stroke="#000" stroke-width="0.15">5 mm</text>
<rect x="522.50" y="269.80" width="16.00" height="1.30" fill="#0a0a0a" stroke="none" stroke-width="0" />
<text x="455.3" y="208.2" font-family="'Liberation Sans', Arial, sans-serif" font-size="3.8" font-weight="normal" fill="#fff" text-anchor="start" >x</text>
<text x="461.6" y="204.3" font-family="'Liberation Sans', Arial, sans-serif" font-size="3.8" font-weight="normal" fill="#fff" text-anchor="start" >z</text>
<text x="450.9" y="214.2" font-family="'Liberation Sans', Arial, sans-serif" font-size="3.8" font-weight="normal" fill="#fff" text-anchor="start" >y</text>
<path d="M463.3,212.5 L463.3,206.8 M458.5,212.5 L464.5,212.5 M462.2,207.8 L463.3,206.3 L464.4,207.8" fill="none" stroke="#fff" stroke-width="0.6"/>
<circle cx="461.3" cy="210.3" r="1.5" fill="none" stroke="#fff" stroke-width="0.55"/>
</g>
<rect x="330.2" y="289.4" width="91.60000000000002" height="83.0" fill="none" stroke="#2a2a2a" stroke-width="1.25"/>
<line x1="330.20" y1="356.00" x2="332.50" y2="356.00" stroke="#2a2a2a" stroke-width="0.95" />
<text x="328.2" y="358.1" font-family="'Liberation Sans', Arial, sans-serif" font-size="6.0" font-weight="bold" fill="#2a2a2a" text-anchor="end" textLength="8.4" lengthAdjust="spacingAndGlyphs" >0.4</text>
<line x1="330.20" y1="345.82" x2="331.60" y2="345.82" stroke="#2a2a2a" stroke-width="0.75" />
<line x1="330.20" y1="335.65" x2="332.50" y2="335.65" stroke="#2a2a2a" stroke-width="0.95" />
<text x="328.2" y="337.75" font-family="'Liberation Sans', Arial, sans-serif" font-size="6.0" font-weight="bold" fill="#2a2a2a" text-anchor="end" textLength="8.4" lengthAdjust="spacingAndGlyphs" >0.5</text>
<line x1="330.20" y1="325.47" x2="331.60" y2="325.47" stroke="#2a2a2a" stroke-width="0.75" />
<line x1="330.20" y1="315.30" x2="332.50" y2="315.30" stroke="#2a2a2a" stroke-width="0.95" />
<text x="328.2" y="317.40000000000003" font-family="'Liberation Sans', Arial, sans-serif" font-size="6.0" font-weight="bold" fill="#2a2a2a" text-anchor="end" textLength="8.4" lengthAdjust="spacingAndGlyphs" >0.6</text>
<line x1="330.20" y1="305.12" x2="331.60" y2="305.12" stroke="#2a2a2a" stroke-width="0.75" />
<line x1="330.20" y1="294.95" x2="332.50" y2="294.95" stroke="#2a2a2a" stroke-width="0.95" />
<text x="328.2" y="297.05000000000007" font-family="'Liberation Sans', Arial, sans-serif" font-size="6.0" font-weight="bold" fill="#2a2a2a" text-anchor="end" textLength="8.4" lengthAdjust="spacingAndGlyphs" >0.7</text>
<line x1="329.80" y1="372.40" x2="329.80" y2="370.10" stroke="#2a2a2a" stroke-width="0.95" />
<text x="329.8" y="379.79999999999995" font-family="'Liberation Sans', Arial, sans-serif" font-size="6.0" font-weight="bold" fill="#2a2a2a" text-anchor="middle" textLength="10.4" lengthAdjust="spacingAndGlyphs" >-0.6</text>
<line x1="340.05" y1="372.40" x2="340.05" y2="371.00" stroke="#2a2a2a" stroke-width="0.75" />
<line x1="350.30" y1="372.40" x2="350.30" y2="370.10" stroke="#2a2a2a" stroke-width="0.95" />
<text x="350.3" y="379.79999999999995" font-family="'Liberation Sans', Arial, sans-serif" font-size="6.0" font-weight="bold" fill="#2a2a2a" text-anchor="middle" textLength="10.4" lengthAdjust="spacingAndGlyphs" >-0.4</text>
<line x1="360.55" y1="372.40" x2="360.55" y2="371.00" stroke="#2a2a2a" stroke-width="0.75" />
<line x1="370.80" y1="372.40" x2="370.80" y2="370.10" stroke="#2a2a2a" stroke-width="0.95" />
<text x="370.8" y="379.79999999999995" font-family="'Liberation Sans', Arial, sans-serif" font-size="6.0" font-weight="bold" fill="#2a2a2a" text-anchor="middle" textLength="10.4" lengthAdjust="spacingAndGlyphs" >-0.2</text>
<line x1="381.05" y1="372.40" x2="381.05" y2="371.00" stroke="#2a2a2a" stroke-width="0.75" />
<line x1="391.30" y1="372.40" x2="391.30" y2="370.10" stroke="#2a2a2a" stroke-width="0.95" />
<text x="391.3" y="379.79999999999995" font-family="'Liberation Sans', Arial, sans-serif" font-size="6.0" font-weight="bold" fill="#2a2a2a" text-anchor="middle" textLength="8.3" lengthAdjust="spacingAndGlyphs" >0.0</text>
<line x1="401.55" y1="372.40" x2="401.55" y2="371.00" stroke="#2a2a2a" stroke-width="0.75" />
<line x1="411.80" y1="372.40" x2="411.80" y2="370.10" stroke="#2a2a2a" stroke-width="0.95" />
<text x="411.8" y="379.79999999999995" font-family="'Liberation Sans', Arial, sans-serif" font-size="6.0" font-weight="bold" fill="#2a2a2a" text-anchor="middle" textLength="8.3" lengthAdjust="spacingAndGlyphs" >0.2</text>
<text x="338.1" y="391.7" font-family="'Liberation Sans', Arial, sans-serif" font-size="8.0" font-weight="bold" fill="#222" text-anchor="start" textLength="63.6" lengthAdjust="spacingAndGlyphs" >E (V vs. Ag/AgCl)</text>
<text transform="translate(315.0,331.8) rotate(-90)" font-family="'Liberation Sans', Arial, sans-serif" font-size="8" font-weight="bold" fill="#222" text-anchor="middle">J (mA cm<tspan font-size="5" dy="-3.2">-2</tspan><tspan dy="3.2">)</tspan></text>
<path d="M340.30,336.30 C340.75,335.83 341.75,335.63 343.00,333.50 C344.25,331.37 345.93,327.67 347.80,323.50 C349.67,319.33 352.07,312.00 354.20,308.50 C356.33,305.00 358.65,303.03 360.60,302.50 C362.55,301.97 364.12,301.80 365.90,305.30 C367.68,308.80 369.62,318.52 371.30,323.50 C372.98,328.48 374.40,334.50 376.00,335.20 C377.60,335.90 379.37,332.50 380.90,327.70 C382.43,322.90 383.95,310.73 385.20,306.40 C386.45,302.07 387.17,301.70 388.40,301.70 C389.63,301.70 391.18,302.77 392.60,306.40 C394.02,310.03 395.12,317.98 396.90,323.50 C398.68,329.02 401.45,335.83 403.30,339.50 C405.15,343.17 406.57,344.18 408.00,345.50 C409.43,346.82 411.25,347.08 411.90,347.40" fill="none" stroke="#2a2af0" stroke-width="1.35" stroke-linejoin="round" stroke-linecap="round" />
<path d="M338.20,344.40 C338.90,344.83 340.80,347.28 342.40,347.00 C344.00,346.72 345.83,345.20 347.80,342.70 C349.77,340.20 352.25,334.92 354.20,332.00 C356.15,329.08 357.72,325.20 359.50,325.20 C361.28,325.20 362.93,328.37 364.90,332.00 C366.87,335.63 369.45,343.37 371.30,347.00 C373.15,350.63 374.22,353.80 376.00,353.80 C377.78,353.80 380.02,349.73 382.00,347.00 C383.98,344.27 386.13,338.12 387.90,337.40 C389.67,336.68 390.73,338.97 392.60,342.70 C394.47,346.43 396.95,356.25 399.10,359.80 C401.25,363.35 403.73,363.22 405.50,364.00 C407.27,364.78 409.00,364.42 409.70,364.50" fill="none" stroke="#f02a2a" stroke-width="1.35" stroke-linejoin="round" stroke-linecap="round" />
<text x="388.8" y="316" font-family="'Liberation Sans', Arial, sans-serif" font-size="5.8" font-weight="bold" fill="#333" text-anchor="middle" >I</text>
<text x="388.2" y="350.8" font-family="'Liberation Sans', Arial, sans-serif" font-size="5.8" font-weight="bold" fill="#333" text-anchor="middle" >II</text>
<rect x="453.4" y="290.0" width="91.60000000000002" height="82.69999999999999" fill="none" stroke="#2a2a2a" stroke-width="1.25"/>
<line x1="453.40" y1="369.90" x2="455.70" y2="369.90" stroke="#2a2a2a" stroke-width="0.95" />
<text x="451.4" y="372.0" font-family="'Liberation Sans', Arial, sans-serif" font-size="6.0" font-weight="bold" fill="#2a2a2a" text-anchor="end" textLength="8.4" lengthAdjust="spacingAndGlyphs" >0.4</text>
<line x1="453.40" y1="356.20" x2="454.80" y2="356.20" stroke="#2a2a2a" stroke-width="0.75" />
<line x1="453.40" y1="342.50" x2="455.70" y2="342.50" stroke="#2a2a2a" stroke-width="0.95" />
<text x="451.4" y="344.6" font-family="'Liberation Sans', Arial, sans-serif" font-size="6.0" font-weight="bold" fill="#2a2a2a" text-anchor="end" textLength="8.4" lengthAdjust="spacingAndGlyphs" >0.5</text>
<line x1="453.40" y1="328.80" x2="454.80" y2="328.80" stroke="#2a2a2a" stroke-width="0.75" />
<line x1="453.40" y1="315.10" x2="455.70" y2="315.10" stroke="#2a2a2a" stroke-width="0.95" />
<text x="451.4" y="317.2" font-family="'Liberation Sans', Arial, sans-serif" font-size="6.0" font-weight="bold" fill="#2a2a2a" text-anchor="end" textLength="8.4" lengthAdjust="spacingAndGlyphs" >0.6</text>
<line x1="453.40" y1="301.40" x2="454.80" y2="301.40" stroke="#2a2a2a" stroke-width="0.75" />
<line x1="453.70" y1="372.70" x2="453.70" y2="370.40" stroke="#2a2a2a" stroke-width="0.95" />
<text x="453.7" y="380.09999999999997" font-family="'Liberation Sans', Arial, sans-serif" font-size="6.0" font-weight="bold" fill="#2a2a2a" text-anchor="middle" textLength="10.4" lengthAdjust="spacingAndGlyphs" >-0.6</text>
<line x1="463.81" y1="372.70" x2="463.81" y2="371.30" stroke="#2a2a2a" stroke-width="0.75" />
<line x1="473.92" y1="372.70" x2="473.92" y2="370.40" stroke="#2a2a2a" stroke-width="0.95" />
<text x="473.91999999999996" y="380.09999999999997" font-family="'Liberation Sans', Arial, sans-serif" font-size="6.0" font-weight="bold" fill="#2a2a2a" text-anchor="middle" textLength="10.4" lengthAdjust="spacingAndGlyphs" >-0.4</text>
<line x1="484.03" y1="372.70" x2="484.03" y2="371.30" stroke="#2a2a2a" stroke-width="0.75" />
<line x1="494.14" y1="372.70" x2="494.14" y2="370.40" stroke="#2a2a2a" stroke-width="0.95" />
<text x="494.14" y="380.09999999999997" font-family="'Liberation Sans', Arial, sans-serif" font-size="6.0" font-weight="bold" fill="#2a2a2a" text-anchor="middle" textLength="10.4" lengthAdjust="spacingAndGlyphs" >-0.2</text>
<line x1="504.25" y1="372.70" x2="504.25" y2="371.30" stroke="#2a2a2a" stroke-width="0.75" />
<line x1="514.36" y1="372.70" x2="514.36" y2="370.40" stroke="#2a2a2a" stroke-width="0.95" />
<text x="514.36" y="380.09999999999997" font-family="'Liberation Sans', Arial, sans-serif" font-size="6.0" font-weight="bold" fill="#2a2a2a" text-anchor="middle" textLength="8.3" lengthAdjust="spacingAndGlyphs" >0.0</text>
<line x1="524.47" y1="372.70" x2="524.47" y2="371.30" stroke="#2a2a2a" stroke-width="0.75" />
<line x1="534.58" y1="372.70" x2="534.58" y2="370.40" stroke="#2a2a2a" stroke-width="0.95" />
<text x="534.5799999999999" y="380.09999999999997" font-family="'Liberation Sans', Arial, sans-serif" font-size="6.0" font-weight="bold" fill="#2a2a2a" text-anchor="middle" textLength="8.3" lengthAdjust="spacingAndGlyphs" >0.2</text>
<text x="469.4" y="391.7" font-family="'Liberation Sans', Arial, sans-serif" font-size="8.0" font-weight="bold" fill="#222" text-anchor="start" textLength="63.6" lengthAdjust="spacingAndGlyphs" >E (V vs. Ag/AgCl)</text>
<text transform="translate(438.0,331.6) rotate(-90)" font-family="'Liberation Sans', Arial, sans-serif" font-size="8" font-weight="bold" fill="#222" text-anchor="middle">J (mA cm<tspan font-size="5" dy="-3.2">-2</tspan><tspan dy="3.2">)</tspan></text>
<path d="M462.90,344.60 C463.50,343.95 464.42,344.55 466.50,340.70 C468.58,336.85 472.68,328.55 475.40,321.50 C478.12,314.45 481.03,302.40 482.80,298.40 C484.57,294.40 485.02,296.12 486.00,297.50 C486.98,298.88 487.27,302.22 488.70,306.70 C490.13,311.18 492.88,318.48 494.60,324.40 C496.32,330.32 497.27,336.77 499.00,342.20 C500.73,347.63 502.52,353.93 505.00,357.00 C507.48,360.07 510.95,359.37 513.90,360.60 C516.85,361.83 519.75,363.42 522.70,364.40 C525.65,365.38 530.12,366.15 531.60,366.50" fill="none" stroke="#2a4af0" stroke-width="1.35" stroke-linejoin="round" stroke-linecap="round" stroke-dasharray="3,2"/>
<path d="M463.50,346.60 C464.48,345.37 467.42,343.38 469.40,339.20 C471.38,335.02 473.67,327.17 475.40,321.50 C477.13,315.83 478.33,309.15 479.80,305.20 C481.27,301.25 482.72,298.05 484.20,297.80 C485.68,297.55 487.22,298.77 488.70,303.70 C490.18,308.63 491.38,319.50 493.10,327.40 C494.82,335.30 497.27,349.13 499.00,351.10 C500.73,353.07 502.02,345.13 503.50,339.20 C504.98,333.27 506.52,320.53 507.90,315.50 C509.28,310.47 510.57,309.00 511.80,309.00 C513.03,309.00 513.97,310.47 515.30,315.50 C516.63,320.53 518.07,332.18 519.80,339.20 C521.53,346.22 523.97,354.53 525.70,357.60 C527.43,360.67 528.62,358.28 530.20,357.60 C531.78,356.92 534.37,354.18 535.20,353.50" fill="none" stroke="#f02a2a" stroke-width="1.35" stroke-linejoin="round" stroke-linecap="round" />
<text x="511.5" y="306" font-family="'Liberation Sans', Arial, sans-serif" font-size="5.8" font-weight="bold" fill="#333" text-anchor="middle" >I</text>
<line x1="511.50" y1="321.50" x2="511.50" y2="336.00" stroke="#111" stroke-width="0.7" />
<path d="M509.8,335.5 L513.2,335.5 L511.5,339.5 Z" fill="#111"/>
<text x="512.4" y="351.8" font-family="'Liberation Sans', Arial, sans-serif" font-size="5.8" font-weight="bold" fill="#333" text-anchor="middle" >II</text>
</svg></body></html>
